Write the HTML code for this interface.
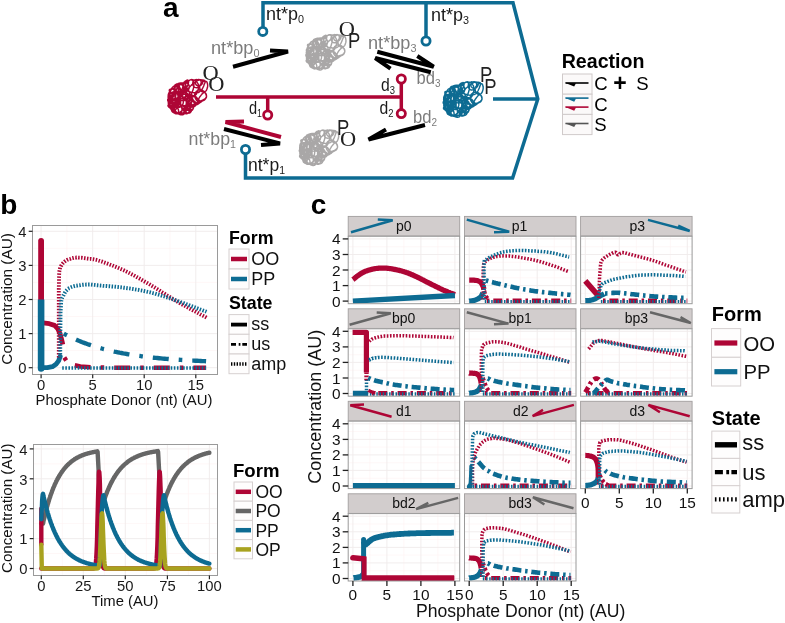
<!DOCTYPE html>
<html><head><meta charset="utf-8"><title>Figure</title>
<style>html,body{margin:0;padding:0;background:#fff;}svg{display:block;}</style>
</head><body>
<svg width="785" height="623" viewBox="0 0 785 623">
<rect width="785" height="623" fill="#ffffff"/>
<text x="163.0" y="16.6" font-family="&quot;Liberation Sans&quot;, Arial, sans-serif" font-size="28.00" font-weight="bold" fill="#000" text-anchor="start" >a</text>
<path d="M263 28 V2.7 H513 L537.8 99 L512.6 178 H245.5 V153" fill="none" stroke="#0d6b92" stroke-width="3.5" stroke-linejoin="miter"/>
<path d="M426 2.7 V37" fill="none" stroke="#0d6b92" stroke-width="3.5"/>
<path d="M493 99 H537" fill="none" stroke="#0d6b92" stroke-width="3.5"/>
<circle cx="262.8" cy="31.4" r="4.1" fill="#fff" stroke="#0d6b92" stroke-width="2.8"/>
<circle cx="426.0" cy="41.0" r="4.1" fill="#fff" stroke="#0d6b92" stroke-width="2.8"/>
<circle cx="245.5" cy="149.5" r="4.1" fill="#fff" stroke="#0d6b92" stroke-width="2.8"/>
<path d="M216 97 H401.3 M401.3 82 V110.5 M267.7 97 V111" fill="none" stroke="#ae0535" stroke-width="3.5"/>
<circle cx="401.3" cy="79.0" r="4.1" fill="#fff" stroke="#ae0535" stroke-width="2.8"/>
<circle cx="401.3" cy="113.6" r="4.1" fill="#fff" stroke="#ae0535" stroke-width="2.8"/>
<circle cx="267.7" cy="115.0" r="4.1" fill="#fff" stroke="#ae0535" stroke-width="2.8"/>
<path d="M179.7 100.9Q179.5 102.6 179.3 103.4Q179.0 104.1 178.5 104.7Q178.0 105.3 177.3 105.6Q176.5 105.8 175.8 105.6Q175.0 105.5 174.4 105.0Q173.8 104.6 173.3 103.9Q172.9 103.2 172.9 102.4Q172.8 101.5 173.1 100.8Q173.4 100.0 174.0 99.5Q174.6 99.1 175.3 98.9Q176.1 98.8 176.8 99.0Q177.6 99.2 178.2 99.6Q178.8 100.1 179.2 100.8Q179.5 101.6 179.6 102.4Q179.6 103.2 179.3 104.0Q179.0 104.7 178.5 105.3Q178.0 106.0 177.3 106.4Q176.7 106.9 176.0 107.2Q175.3 107.6 174.6 107.9Q173.9 108.2 173.2 108.5Q172.5 108.9 171.8 109.0Q171.0 109.1 170.5 108.5Q170.0 107.9 169.8 107.1Q169.6 106.3 169.7 105.5Q169.7 104.6 169.9 103.9Q170.1 103.1 170.5 102.3Q170.8 101.5 171.1 100.8Q171.5 100.1 171.9 99.4Q172.3 98.7 172.6 97.9Q173.0 97.2 173.4 96.5Q173.8 95.8 174.2 95.1Q174.5 94.3 174.9 93.6Q175.2 92.8 175.5 92.1Q175.8 91.3 176.1 90.6Q176.4 89.8 176.7 89.0Q177.0 88.3 177.3 87.5Q177.6 86.7 178.0 86.0Q178.3 85.2 179.0 84.9Q179.7 84.6 180.4 84.6Q181.2 84.6 181.9 84.9Q182.6 85.3 183.1 85.9Q183.6 86.5 183.8 87.3Q184.0 88.1 183.8 88.9Q183.7 89.7 183.3 90.5Q182.9 91.2 182.4 91.7Q181.8 92.3 181.0 92.5Q180.3 92.8 179.6 92.8Q178.8 92.8 178.0 92.7Q177.3 92.5 176.6 92.1Q175.9 91.7 175.4 91.1Q174.8 90.6 174.5 89.8Q174.3 89.0 174.2 88.2Q174.1 87.4 174.6 86.7Q175.1 86.1 175.8 85.8Q176.5 85.5 177.3 85.6Q178.0 85.8 178.6 86.3Q179.3 86.7 179.7 87.4Q180.2 88.0 180.5 88.8Q180.9 89.5 181.1 90.3Q181.3 91.1 181.4 91.9Q181.5 92.8 181.5 93.6Q181.4 94.4 181.2 95.2Q181.1 96.0 180.8 96.8Q180.6 97.6 180.2 98.3Q179.9 99.1 179.6 99.8Q179.2 100.6 178.8 101.3Q178.4 101.9 177.9 102.6Q177.3 103.2 176.8 103.8Q176.2 104.3 175.6 104.8Q175.0 105.3 174.3 105.7Q173.6 106.1 172.9 106.4Q172.2 106.6 171.4 106.8Q170.7 107.0 170.1 106.5Q169.5 106.0 169.4 105.2Q169.2 104.4 169.4 103.6Q169.6 102.8 170.1 102.2Q170.5 101.5 171.1 101.0Q171.8 100.6 172.5 100.3Q173.3 100.1 174.0 100.2Q174.8 100.2 175.5 100.5Q176.2 100.8 176.7 101.4Q177.3 102.0 177.5 102.8Q177.8 103.6 177.7 104.4Q177.6 105.2 177.2 105.9Q176.7 106.6 176.1 107.0Q175.4 107.4 174.7 107.6Q173.9 107.8 173.2 107.6Q172.4 107.4 171.8 107.0Q171.1 106.6 170.7 105.9Q170.2 105.3 170.0 104.5Q169.7 103.7 169.5 102.9Q169.4 102.1 169.4 101.2Q169.4 100.4 169.5 99.6Q169.7 98.8 170.0 98.0Q170.2 97.2 170.6 96.5Q171.0 95.8 171.5 95.2Q172.1 94.6 172.7 94.1Q173.3 93.7 174.0 93.3Q174.7 93.0 175.5 92.8Q176.2 92.6 177.0 92.5Q177.8 92.4 178.5 92.3Q179.3 92.1 180.0 91.9Q180.8 91.7 181.5 91.4Q182.2 91.1 182.8 90.7Q183.5 90.2 184.0 89.6Q184.5 89.0 184.9 88.3Q185.3 87.6 185.5 86.8Q185.7 86.0 185.6 85.2Q185.5 84.4 185.0 83.7Q184.5 83.1 183.8 83.0Q183.0 82.9 182.2 82.9Q181.5 82.9 180.7 83.0Q179.9 83.1 179.2 83.2Q178.4 83.4 177.7 83.6Q176.9 83.8 176.2 84.1Q175.5 84.3 175.0 85.0Q174.6 85.7 174.4 86.5Q174.2 87.3 174.2 88.1Q174.3 89.0 174.5 89.7Q174.8 90.5 175.3 91.1Q175.8 91.7 176.5 92.2Q177.1 92.6 177.9 92.8Q178.6 93.0 179.4 93.0Q180.1 92.9 180.9 92.7Q181.6 92.5 182.3 92.1Q183.0 91.8 183.7 91.3Q184.3 90.9 184.8 90.3Q185.4 89.7 185.8 89.0Q186.3 88.4 186.6 87.6Q187.0 86.9 187.3 86.1Q187.6 85.4 187.9 84.6Q188.2 83.8 188.4 83.0Q188.5 82.2 188.4 81.4Q188.2 80.7 187.5 80.5Q186.8 80.4 186.1 80.7Q185.4 81.0 184.8 81.6Q184.2 82.1 183.7 82.8Q183.3 83.5 183.1 84.2Q182.8 85.0 182.8 85.8Q182.7 86.7 182.9 87.5Q183.0 88.3 183.3 89.1Q183.6 89.8 183.9 90.6Q184.3 91.3 184.6 92.0Q185.0 92.8 185.4 93.5Q185.8 94.2 186.2 94.9Q186.6 95.6 187.1 96.3Q187.5 96.9 188.0 97.6Q188.5 98.2 188.9 98.9Q189.3 99.6 189.7 100.4Q190.0 101.1 190.2 101.9Q190.5 102.7 190.5 103.5Q190.6 104.3 190.5 105.1Q190.3 106.0 190.0 106.7Q189.7 107.5 189.2 108.1Q188.7 108.7 188.0 109.1Q187.4 109.6 186.6 109.6Q185.9 109.7 185.1 109.5Q184.4 109.4 183.7 109.0Q183.0 108.6 182.4 108.0Q181.9 107.5 181.5 106.8Q181.0 106.1 180.8 105.3Q180.6 104.5 180.6 103.7Q180.6 102.8 180.6 102.0Q180.6 101.2 180.6 100.4Q180.5 99.5 180.4 98.7Q180.4 97.9 180.2 97.1Q180.0 96.3 179.6 95.6Q179.2 94.8 178.6 94.3Q178.1 93.7 177.4 93.3Q176.8 92.8 176.1 92.6Q175.3 92.3 174.6 92.3Q173.8 92.3 173.0 92.4Q172.3 92.6 171.6 93.0Q170.9 93.3 170.3 93.9Q169.8 94.4 169.3 95.1Q168.9 95.8 168.8 96.6Q168.6 97.4 168.6 98.2Q168.6 99.1 168.9 99.9Q169.1 100.6 169.5 101.3Q169.9 102.1 170.4 102.7Q171.0 103.2 171.6 103.7Q172.3 104.2 172.9 104.5Q173.6 104.9 174.3 105.3Q175.0 105.6 175.7 106.1Q176.3 106.5 176.9 107.1Q177.4 107.7 177.8 108.4Q178.2 109.1 178.4 109.9Q178.6 110.7 178.6 111.5Q178.5 112.3 178.1 113.0Q177.7 113.6 176.9 113.6Q176.1 113.6 175.4 113.4Q174.7 113.1 174.0 112.8Q173.3 112.4 172.6 112.0Q172.0 111.6 171.7 110.8Q171.4 110.0 171.3 109.2Q171.2 108.4 171.4 107.6Q171.5 106.8 171.8 106.0Q172.1 105.3 172.5 104.6Q173.0 103.9 173.5 103.3Q174.0 102.7 174.5 102.0Q175.0 101.4 175.4 100.7Q175.9 100.1 176.4 99.4Q176.8 98.7 177.3 98.1Q177.8 97.4 178.3 96.9Q178.9 96.3 179.6 95.9Q180.2 95.4 180.9 95.1Q181.6 94.8 182.4 94.5Q183.1 94.3 183.9 94.3Q184.6 94.3 185.4 94.3Q186.2 94.4 186.9 94.6Q187.7 94.8 188.4 95.1Q189.1 95.4 189.7 95.8Q190.4 96.3 190.9 96.9Q191.4 97.5 191.9 98.1Q192.5 98.7 192.9 99.4Q193.4 100.0 193.7 100.8Q194.1 101.5 194.3 102.3Q194.4 103.1 194.3 104.0Q194.3 104.8 194.0 105.6Q193.8 106.4 193.5 107.1Q193.2 107.9 192.9 108.6Q192.5 109.4 192.1 110.0Q191.7 110.7 191.2 111.4Q190.8 112.1 190.2 112.6Q189.6 113.1 188.9 113.1Q188.1 113.1 187.4 112.9Q186.6 112.6 186.0 112.1Q185.4 111.6 185.0 110.9Q184.6 110.2 184.5 109.4Q184.5 108.6 184.8 107.8Q185.1 107.1 185.6 106.5Q186.2 105.9 186.8 105.5Q187.5 105.1 188.3 104.9Q189.0 104.7 189.8 104.8Q190.5 104.8 191.2 105.1Q192.0 105.4 192.5 106.0Q193.1 106.5 193.3 107.3Q193.5 108.1 193.1 108.8Q192.8 109.6 192.2 110.1Q191.6 110.6 190.9 110.8Q190.1 111.0 189.4 110.8Q188.6 110.6 188.0 110.1Q187.4 109.6 187.1 108.9Q186.7 108.2 186.5 107.4Q186.3 106.6 186.4 105.7Q186.4 104.9 186.7 104.1Q187.0 103.4 187.5 102.7Q187.9 102.1 188.5 101.6Q189.1 101.1 189.9 100.8Q190.6 100.5 191.3 100.4Q192.1 100.4 192.8 100.6Q193.6 100.8 194.2 101.2Q194.9 101.7 195.4 102.3Q195.9 102.9 196.2 103.6Q196.4 104.3 196.0 105.0Q195.5 105.7 194.9 106.1Q194.2 106.6 193.5 106.8Q192.8 107.0 192.0 107.0Q191.2 107.1 190.5 106.9Q189.7 106.8 189.0 106.6Q188.2 106.4 187.5 106.2Q186.7 106.0 186.0 105.9Q185.2 105.7 184.4 105.7Q183.7 105.7 182.9 105.7Q182.1 105.8 181.4 106.0Q180.6 106.1 179.9 106.4Q179.2 106.7 178.5 107.1Q177.9 107.5 177.2 108.0Q176.6 108.5 176.1 109.1Q175.6 109.7 175.1 110.4Q174.7 111.1 174.0 111.1Q173.2 111.1 172.6 110.7Q171.9 110.3 171.4 109.7Q170.8 109.1 170.5 108.4Q170.1 107.7 170.0 106.8Q169.8 106.0 169.8 105.2Q169.8 104.4 169.9 103.6Q170.0 102.7 170.1 101.9Q170.2 101.1 170.3 100.3Q170.4 99.4 170.5 98.6Q170.6 97.8 170.9 97.0Q171.1 96.2 171.5 95.5Q171.9 94.8 172.3 94.1Q172.8 93.5 173.3 92.9Q173.8 92.2 174.2 91.5Q174.6 90.8 174.9 90.0Q175.1 89.3 175.1 88.4Q175.1 87.6 175.1 86.8Q175.0 86.0 175.6 85.5Q176.2 85.0 176.9 84.7Q177.6 84.4 178.4 84.2Q179.1 84.1 179.9 84.0Q180.7 84.0 181.5 83.9Q182.2 83.9 183.0 83.8Q183.8 83.7 184.5 83.6Q185.3 83.4 186.0 83.1Q186.7 82.8 187.3 82.3Q188.0 81.9 188.5 81.3Q189.1 80.7 189.6 80.2Q190.2 79.7 191.0 79.6Q191.7 79.5 192.5 79.6Q193.2 79.7 194.0 79.9Q194.7 80.2 195.3 80.6Q196.0 81.1 196.5 81.7Q197.1 82.2 197.5 82.9Q198.0 83.6 198.2 84.4Q198.5 85.1 198.6 86.0Q198.6 86.8 198.5 87.6Q198.4 88.4 198.2 89.2Q198.0 90.0 197.8 90.8Q197.5 91.6 197.2 92.3Q196.9 93.1 196.5 93.8Q196.1 94.5 195.5 95.1Q195.0 95.7 194.4 96.1Q193.7 96.6 193.0 96.9Q192.3 97.2 191.5 97.3Q190.8 97.3 190.0 97.2Q189.2 97.1 188.6 96.7Q187.9 96.3 187.3 95.7Q186.8 95.1 186.4 94.4Q186.1 93.7 185.9 92.9Q185.7 92.1 185.8 91.3Q185.8 90.4 185.9 89.6Q186.1 88.8 186.4 88.1Q186.7 87.3 187.1 86.6Q187.4 85.8 187.7 85.1Q188.0 84.3 188.2 83.5Q188.5 82.7 188.6 81.9Q188.7 81.1 188.2 80.5Q187.7 79.9 187.0 80.2Q186.3 80.6 186.0 81.3Q185.6 82.0 185.5 82.8Q185.4 83.6 185.5 84.4Q185.7 85.2 186.0 86.0Q186.3 86.8 186.7 87.5Q187.1 88.2 187.5 88.9Q188.0 89.5 188.4 90.2Q188.8 90.9 189.2 91.6Q189.5 92.4 189.7 93.2Q189.8 94.0 189.8 94.8Q189.7 95.6 189.3 96.4Q189.0 97.1 188.4 97.6Q187.8 98.2 187.1 98.4Q186.3 98.6 185.6 98.6Q184.8 98.5 184.1 98.1Q183.5 97.6 183.1 96.9Q182.6 96.3 182.6 95.4Q182.5 94.6 182.8 93.9Q183.2 93.2 183.8 92.7Q184.5 92.3 185.2 92.3Q186.0 92.3 186.6 92.8Q187.2 93.3 187.5 94.1Q187.8 94.8 187.8 95.7Q187.8 96.5 187.6 97.3Q187.3 98.0 186.8 98.7Q186.4 99.3 185.7 99.8Q185.1 100.3 184.3 100.5Q183.6 100.7 182.8 100.6Q182.1 100.6 181.4 100.3Q180.6 100.0 180.0 99.6Q179.4 99.1 178.9 98.4Q178.5 97.7 178.2 97.0Q178.0 96.2 177.9 95.3Q177.8 94.5 177.9 93.7Q178.0 92.9 178.1 92.1Q178.2 91.2 178.3 90.4Q178.4 89.6 178.4 88.8Q178.4 87.9 178.3 87.1Q178.3 86.3 177.9 85.6Q177.6 84.9 176.8 85.0Q176.1 85.1 175.5 85.7Q175.0 86.2 174.7 87.0Q174.4 87.7 174.5 88.6Q174.5 89.4 174.9 90.1Q175.3 90.8 175.9 91.3Q176.5 91.8 177.3 91.9Q178.0 92.1 178.8 91.9Q179.5 91.8 180.2 91.3Q180.8 90.9 181.3 90.3Q181.8 89.7 182.2 88.9Q182.5 88.2 182.7 87.4Q182.9 86.6 182.9 85.8Q183.0 84.9 182.7 84.2Q182.4 83.5 181.6 83.5Q180.9 83.5 180.3 84.1Q179.8 84.6 179.5 85.4Q179.2 86.2 179.2 87.0Q179.2 87.8 179.5 88.6Q179.7 89.4 180.2 90.0Q180.8 90.6 181.5 90.9Q182.2 91.3 182.9 91.4Q183.7 91.6 184.4 91.6Q185.2 91.6 185.9 91.4Q186.7 91.1 187.3 90.7Q188.0 90.3 188.4 89.6Q188.9 89.0 189.1 88.2Q189.3 87.4 189.3 86.6Q189.2 85.7 188.9 85.0Q188.5 84.3 188.0 83.7Q187.4 83.1 186.8 82.7Q186.1 82.4 185.3 82.5Q184.6 82.6 184.1 83.2Q183.6 83.8 183.4 84.6Q183.2 85.4 183.3 86.2Q183.4 87.0 183.8 87.7Q184.2 88.4 184.8 89.0Q185.3 89.5 185.9 90.0Q186.6 90.5 187.3 90.9Q188.0 91.2 188.7 91.5Q189.4 91.8 190.2 92.0Q190.9 92.2 191.7 92.4Q192.4 92.5 193.2 92.6Q193.9 92.8 194.7 92.8Q195.5 92.9 196.2 92.8Q197.0 92.8 197.7 92.6Q198.5 92.4 199.2 92.0Q199.9 91.7 200.5 91.1Q201.1 90.6 201.5 90.0Q202.0 89.3 202.4 88.6Q202.8 87.9 203.1 87.2Q203.5 86.4 203.8 85.7Q204.0 84.9 204.3 84.1Q204.6 83.4 205.0 82.6Q205.4 81.9 205.1 81.2Q204.9 80.4 204.1 80.2Q203.4 80.0 202.6 80.0Q201.9 80.0 201.1 80.0Q200.3 80.0 199.6 80.0Q198.8 79.9 198.0 79.7Q197.3 79.5 196.6 79.5Q195.8 79.4 195.1 79.8Q194.4 80.1 193.9 80.7Q193.3 81.3 193.0 82.0Q192.7 82.8 192.7 83.6Q192.7 84.4 193.0 85.2Q193.3 85.9 193.8 86.5Q194.3 87.1 195.0 87.4Q195.8 87.7 196.5 87.7Q197.3 87.7 198.0 87.4Q198.7 87.1 199.3 86.6Q199.9 86.1 200.4 85.4Q200.8 84.8 201.0 84.0Q201.2 83.2 201.2 82.3Q201.2 81.5 200.8 80.8Q200.5 80.1 199.8 79.7Q199.1 79.4 198.4 79.5Q197.6 79.6 196.9 80.0Q196.3 80.4 195.9 81.1Q195.5 81.8 195.4 82.6Q195.4 83.4 195.7 84.1Q196.0 84.9 196.7 85.3Q197.3 85.8 198.0 86.0Q198.8 86.1 199.5 86.0Q200.3 85.8 200.9 85.3Q201.5 84.8 202.0 84.1Q202.4 83.4 202.6 82.6Q202.8 81.9 202.7 81.1Q202.5 80.3 201.8 80.0Q201.1 79.7 200.3 79.8Q199.5 79.8 198.8 80.0Q198.1 80.3 197.4 80.7Q196.7 81.1 196.1 81.6Q195.5 82.0 194.8 82.5Q194.2 83.0 193.6 83.4Q192.9 83.9 192.3 84.4Q191.7 84.9 191.1 85.5Q190.5 86.0 190.0 86.6Q189.4 87.1 188.9 87.7Q188.3 88.3 187.9 89.0Q187.4 89.6 187.0 90.3Q186.7 91.1 186.4 91.9Q186.1 92.6 186.0 93.4Q185.8 94.3 185.8 95.1Q185.7 95.9 185.7 96.7Q185.7 97.6 185.9 98.4Q186.0 99.2 186.4 99.9Q186.7 100.7 187.1 101.4Q187.6 102.0 188.1 102.6Q188.7 103.2 189.3 103.7Q189.9 104.1 190.6 104.5Q191.3 104.9 192.1 105.0Q192.8 105.2 193.6 105.2Q194.3 105.2 195.1 105.1Q195.9 104.9 196.6 104.6Q197.3 104.4 198.0 104.0Q198.7 103.6 199.3 103.1Q200.0 102.7 200.6 102.2Q201.2 101.7 201.9 101.3Q202.5 100.8 203.2 100.5Q203.9 100.2 204.6 99.8Q205.2 99.4 205.6 98.7Q206.0 98.0 206.4 97.3Q206.7 96.5 206.4 95.7Q206.2 94.9 205.9 94.2Q205.5 93.4 205.1 92.8Q204.7 92.1 204.1 91.5Q203.5 91.0 202.8 90.6Q202.1 90.2 201.4 90.0Q200.7 89.8 199.9 89.8Q199.1 89.9 198.4 90.1Q197.7 90.4 197.0 90.9Q196.4 91.3 195.9 92.0Q195.4 92.6 195.1 93.4Q194.8 94.1 194.8 94.9Q194.7 95.8 194.8 96.6Q195.0 97.4 195.3 98.1Q195.6 98.9 196.1 99.6Q196.5 100.2 197.1 100.8Q197.6 101.4 198.1 102.0Q198.5 102.7 198.1 103.3Q197.6 104.0 196.9 104.3Q196.3 104.7 195.5 104.8Q194.7 105.0 194.0 104.9Q193.2 104.9 192.5 104.7Q191.7 104.4 191.0 104.1Q190.3 103.7 189.7 103.3Q189.0 102.9 188.3 102.5Q187.7 102.1 187.0 101.7Q186.3 101.2 185.7 100.8Q185.1 100.3 184.4 99.9Q183.8 99.4 183.1 99.1Q182.4 98.7 181.6 98.6Q180.9 98.4 180.1 98.5Q179.3 98.6 178.6 98.8Q177.9 99.1 177.2 99.5Q176.6 99.9 176.1 100.6Q175.6 101.2 175.3 102.0Q175.1 102.8 175.2 103.6Q175.2 104.4 175.6 105.1Q175.9 105.9 176.5 106.4Q177.1 106.9 177.9 107.1Q178.6 107.4 179.4 107.2Q180.1 107.1 180.8 106.7Q181.5 106.3 182.0 105.7Q182.5 105.1 182.8 104.4Q183.1 103.6 183.3 102.8Q183.4 102.0 183.3 101.2Q183.3 100.3 183.1 99.5Q183.0 98.7 182.7 97.9Q182.4 97.2 182.1 96.4Q181.7 95.7 181.3 95.0Q180.9 94.3 180.3 93.8Q179.7 93.2 179.1 92.7Q178.5 92.3 177.8 91.8Q177.1 91.4 176.5 91.0Q175.9 90.5 175.3 90.0Q174.6 89.5 174.0 89.0Q173.4 88.5 172.7 88.6Q172.0 88.8 171.5 89.4Q170.9 90.0 170.6 90.7Q170.3 91.5 170.1 92.3Q170.0 93.1 169.9 93.9Q169.9 94.7 169.9 95.6Q169.9 96.4 170.0 97.2Q170.1 98.0 170.2 98.9Q170.3 99.7 170.6 100.5Q170.8 101.3 171.1 102.0Q171.3 102.8 171.7 103.6Q172.0 104.3 172.3 105.1Q172.7 105.8 173.1 106.5Q173.5 107.2 173.9 107.9Q174.2 108.7 174.5 109.4Q174.8 110.2 174.9 111.0Q175.1 111.8 175.6 112.4Q176.2 112.9 176.9 113.2Q177.6 113.5 178.4 113.6Q179.2 113.7 179.9 113.7Q180.7 113.7 181.4 113.5Q182.2 113.3 182.9 113.0Q183.6 112.7 184.3 112.3Q184.9 111.8 185.6 111.4Q186.2 111.0 186.9 110.5Q187.5 110.0 188.1 109.5Q188.7 109.0 189.3 108.5Q189.9 107.9 190.5 107.4Q191.1 106.9 191.8 106.5Q192.4 106.1 193.1 105.7Q193.8 105.4 194.6 105.2Q195.3 105.1 196.0 104.9Q196.7 104.6 197.2 104.0Q197.7 103.3 197.9 102.5Q198.1 101.7 198.1 100.9Q198.1 100.1 197.8 99.3Q197.5 98.6 197.0 97.9Q196.5 97.3 195.9 96.8Q195.3 96.3 194.6 96.0Q193.9 95.6 193.1 95.4Q192.4 95.1 191.7 95.0Q190.9 94.9 190.1 95.0Q189.4 95.1 188.6 95.3Q187.9 95.4 187.2 95.8Q186.4 96.1 185.8 96.4Q185.1 96.8 184.4 97.2Q183.7 97.5 183.0 97.8Q182.3 98.1 181.5 98.4Q180.8 98.6 180.0 98.8Q179.3 98.9 178.5 99.0Q177.7 99.0 177.0 99.1Q176.2 99.2 175.4 99.1Q174.7 99.1 173.9 99.0Q173.1 99.0 172.4 98.9Q171.6 98.8 170.8 98.7Q170.1 98.6 169.3 98.5Q168.5 98.5 168.0 99.0Q167.5 99.6 167.7 100.4Q167.9 101.2 168.4 101.8Q169.0 102.4 169.6 102.8Q170.3 103.1 171.1 103.2Q171.9 103.3 172.6 103.2Q173.4 103.0 174.1 102.8Q174.9 102.6 175.6 102.2Q176.3 101.9 176.9 101.4Q177.5 101.0 178.1 100.4Q178.7 99.9 179.2 99.2Q179.7 98.6 180.0 97.8Q180.3 97.1 180.3 96.3Q180.3 95.4 180.0 94.7Q179.7 93.9 179.2 93.3Q178.7 92.7 178.0 92.3Q177.3 91.9 176.6 91.9Q175.8 91.8 175.1 92.1Q174.3 92.4 173.8 92.9Q173.2 93.4 172.8 94.1Q172.4 94.8 172.2 95.6Q172.0 96.4 172.0 97.3Q171.9 98.1 171.9 98.9Q171.9 99.7 172.1 100.6Q172.2 101.4 172.4 102.2Q172.6 103.0 172.9 103.7Q173.1 104.5 173.4 105.3Q173.7 106.1 174.0 106.8Q174.3 107.6 174.5 108.4Q174.8 109.2 175.1 109.9Q175.4 110.7 175.7 111.4Q176.0 112.2 176.5 112.8Q177.0 113.4 177.7 113.6Q178.4 113.9 179.2 113.7Q179.9 113.6 180.6 113.1Q181.2 112.6 181.5 111.9Q181.9 111.2 182.0 110.3Q182.1 109.5 181.9 108.7Q181.8 107.9 181.5 107.2Q181.1 106.4 180.6 105.8Q180.1 105.1 179.5 104.6Q178.9 104.1 178.3 103.7Q177.6 103.4 176.8 103.1Q176.1 102.9 175.3 102.8Q174.6 102.7 173.8 102.8Q173.0 102.9 172.3 103.0Q171.5 103.2 170.8 103.6Q170.1 103.9 169.4 104.1Q168.7 104.3 168.2 104.9Q167.8 105.5 168.1 106.2Q168.5 106.9 169.1 107.3Q169.8 107.8 170.5 107.9Q171.3 108.0 172.0 107.9Q172.8 107.8 173.5 107.5Q174.2 107.2 174.9 106.8Q175.6 106.4 176.1 105.8Q176.7 105.2 177.0 104.5Q177.3 103.7 177.3 102.9Q177.4 102.1 177.2 101.3Q177.1 100.4 176.8 99.7Q176.5 98.9 176.2 98.2Q175.8 97.5 175.3 96.8Q174.8 96.2 174.3 95.6Q173.7 95.1 173.1 94.6Q172.4 94.1 171.8 93.6Q171.3 93.0 170.8 92.4Q170.3 91.8 169.7 91.3Q169.1 90.8 169.3 90.1Q169.4 89.3 170.2 89.1Q170.9 88.8 171.7 88.9Q172.4 89.0 173.1 89.4Q173.8 89.8 174.3 90.4Q174.8 91.0 175.2 91.8Q175.5 92.5 175.7 93.3Q175.9 94.1 175.8 94.9Q175.8 95.7 175.5 96.5Q175.3 97.3 174.8 98.0Q174.3 98.6 173.7 99.0Q173.0 99.5 172.3 99.6Q171.5 99.7 170.7 99.6Q170.0 99.6 169.2 99.3Q168.5 99.1 168.3 98.3Q168.0 97.6 168.2 96.8Q168.3 96.0 168.6 95.2Q168.9 94.5 169.4 93.8Q169.9 93.2 170.6 92.8Q171.2 92.3 172.0 92.1Q172.7 91.9 173.5 91.9Q174.2 91.9 175.0 92.2Q175.7 92.4 176.3 92.9Q176.9 93.4 177.4 94.0Q177.9 94.7 178.1 95.5Q178.4 96.2 178.5 97.1Q178.6 97.9 178.4 98.7Q178.3 99.5 178.0 100.3Q177.6 101.0 177.2 101.7Q176.8 102.4 176.3 103.0Q175.7 103.6 175.1 104.0Q174.4 104.4 173.7 104.8Q173.0 105.1 172.3 105.3Q171.5 105.6 170.8 105.9Q170.1 106.1 169.5 105.7Q168.9 105.2 168.6 104.4Q168.3 103.7 168.3 102.8Q168.3 102.0 168.4 101.2Q168.5 100.4 168.6 99.6Q168.7 98.7 168.6 97.9Q168.6 97.1 168.3 96.3Q168.1 95.5 168.3 94.7Q168.5 93.9 168.9 93.2Q169.2 92.4 169.6 91.7Q170.0 91.0 170.4 90.3Q170.8 89.6 171.3 88.9Q171.7 88.3 172.2 87.6Q172.7 87.0 173.3 86.5Q173.8 86.0 174.6 86.0Q175.4 86.1 176.1 86.4Q176.8 86.8 177.3 87.4Q177.8 88.0 178.1 88.8Q178.4 89.5 178.6 90.3Q178.9 91.1 179.0 91.9Q179.1 92.7 179.1 93.6Q179.1 94.4 178.9 95.2Q178.8 96.0 178.4 96.8Q178.1 97.5 177.7 98.2Q177.3 98.9 176.9 99.6Q176.5 100.3 176.1 101.1Q175.8 101.8 175.4 102.5Q175.0 103.2 174.6 103.9Q174.1 104.6 173.7 105.3Q173.3 106.0 173.0 106.7Q172.6 107.5 172.4 108.3Q172.1 109.0 172.4 109.8Q172.6 110.6 173.1 111.2Q173.5 111.9 174.1 112.5Q174.6 113.1 175.3 113.5Q175.9 113.8 176.7 113.8Q177.4 113.7 178.1 113.3Q178.9 113.0 179.5 112.6Q180.1 112.1 180.8 111.6Q181.4 111.2 182.0 110.6Q182.5 110.1 183.1 109.5Q183.6 108.8 184.1 108.2Q184.6 107.6 185.2 107.1Q185.8 106.6 186.5 106.2Q187.2 105.8 187.9 105.6Q188.7 105.4 189.4 105.4Q190.2 105.4 190.9 105.5Q191.7 105.6 192.5 105.8Q193.2 106.0 193.9 106.0Q194.7 106.0 195.3 105.6Q195.9 105.1 196.4 104.4Q196.8 103.8 197.1 103.0Q197.5 102.3 197.7 101.5Q198.0 100.7 198.3 99.9Q198.6 99.2 198.9 98.4Q199.3 97.7 199.7 97.0Q200.2 96.3 200.7 95.7Q201.1 95.1 201.7 94.5Q202.2 93.8 202.8 93.3Q203.3 92.7 204.0 92.3Q204.6 91.8 205.3 91.4Q206.0 91.1 206.4 90.4Q206.8 89.6 207.0 88.9Q207.3 88.1 207.5 87.3Q207.6 86.5 207.7 85.7Q207.7 84.8 207.5 84.0Q207.4 83.2 207.1 82.4Q206.8 81.7 206.1 81.4Q205.4 81.1 204.6 81.1Q203.9 81.2 203.2 81.5Q202.5 81.8 201.9 82.4Q201.3 82.9 200.8 83.6Q200.3 84.2 200.1 85.0Q199.8 85.7 199.7 86.6Q199.6 87.4 199.8 88.2Q199.9 89.0 200.3 89.7Q200.7 90.4 201.3 91.0Q201.8 91.6 202.5 91.9Q203.3 92.2 204.0 92.3Q204.8 92.3 205.3 92.9Q205.9 93.4 206.2 94.2Q206.5 95.0 206.5 95.8Q206.5 96.6 206.2 97.3Q205.9 98.0 205.3 98.6Q204.8 99.1 204.1 99.5Q203.4 99.9 202.7 100.2Q202.0 100.5 201.2 100.7Q200.5 100.9 199.7 101.2Q199.0 101.4 198.3 101.8Q197.6 102.1 196.9 102.5Q196.3 102.9 195.6 103.3Q194.9 103.8 194.3 104.2Q193.7 104.6 193.1 105.2Q192.5 105.7 192.0 106.3Q191.4 106.9 191.0 107.6Q190.5 108.3 190.1 109.0Q189.8 109.7 189.5 110.5Q189.2 111.2 188.9 112.0Q188.7 112.8 188.1 113.3Q187.4 113.7 186.7 113.7Q185.9 113.7 185.3 113.3Q184.6 112.8 184.2 112.1Q183.9 111.4 183.7 110.6Q183.6 109.8 183.7 108.9Q183.8 108.1 184.1 107.4Q184.4 106.6 184.9 105.9Q185.3 105.3 186.0 104.8Q186.6 104.3 187.3 104.0Q188.0 103.6 188.7 103.6Q189.5 103.5 190.2 103.7Q191.0 103.8 191.7 104.2Q192.3 104.7 192.8 105.3Q193.3 105.9 193.5 106.7Q193.7 107.5 193.4 108.2Q193.0 108.9 192.3 109.3Q191.7 109.7 190.9 109.7Q190.1 109.7 189.4 109.4Q188.7 109.1 188.2 108.5Q187.6 107.9 187.2 107.2Q186.9 106.5 186.6 105.7Q186.4 104.9 186.3 104.1Q186.2 103.3 186.3 102.5Q186.3 101.6 186.6 100.9Q186.9 100.1 187.3 99.4Q187.7 98.7 188.2 98.1Q188.7 97.4 189.3 97.0Q190.0 96.5 190.7 96.3Q191.4 96.0 192.2 96.0Q193.0 96.0 193.7 96.3Q194.4 96.6 195.1 97.0Q195.7 97.4 196.4 97.9Q197.0 98.4 197.6 98.9Q198.1 99.4 198.8 99.9Q199.4 100.4 199.5 101.2Q199.5 102.0 198.9 102.4Q198.3 102.9 197.5 103.1Q196.8 103.2 196.0 103.0Q195.3 102.9 194.6 102.6Q193.9 102.2 193.2 101.8Q192.6 101.3 192.0 100.8Q191.4 100.3 190.9 99.7Q190.3 99.1 189.8 98.4Q189.3 97.8 188.9 97.2Q188.4 96.5 188.0 95.8Q187.5 95.1 187.1 94.4Q186.7 93.7 186.3 93.0Q186.0 92.3 185.7 91.5Q185.4 90.7 185.2 90.0Q184.9 89.2 184.8 88.3Q184.8 87.5 184.9 86.7Q185.0 85.9 185.2 85.1Q185.5 84.3 185.9 83.6Q186.3 82.9 186.8 82.3Q187.4 81.7 188.0 81.3Q188.6 80.8 189.3 80.4Q190.0 80.0 190.7 79.9Q191.4 79.7 192.1 80.1Q192.7 80.5 193.2 81.2Q193.6 81.9 193.7 82.7Q193.9 83.5 193.9 84.3Q193.9 85.2 193.8 86.0Q193.8 86.8 193.6 87.6Q193.4 88.4 193.2 89.2Q193.0 90.0 192.7 90.8Q192.4 91.6 192.1 92.3Q191.8 93.1 191.4 93.8Q191.0 94.5 190.7 95.3Q190.4 96.0 190.1 96.8Q189.8 97.5 189.4 98.3Q189.1 99.0 188.8 99.8Q188.4 100.5 188.1 101.3Q187.8 102.0 187.6 102.8Q187.3 103.6 187.1 104.4Q186.8 105.2 186.7 106.0Q186.5 106.8 186.3 107.6Q186.2 108.4 186.0 109.2Q185.8 110.0 185.5 110.8Q185.2 111.6 184.9 112.3Q184.6 113.1 184.2 113.8Q183.7 114.4 183.0 114.7Q182.3 114.9 181.5 114.8Q180.7 114.8 180.0 114.5Q179.3 114.3 178.6 113.8Q177.9 113.4 177.3 112.9Q176.7 112.4 176.1 111.9Q175.5 111.4 174.9 110.9Q174.3 110.4 173.7 109.9Q173.0 109.4 172.4 108.9Q171.8 108.4 171.2 107.9Q170.6 107.4 170.0 106.9Q169.4 106.4 169.1 105.6Q168.9 104.8 168.9 104.0Q168.8 103.2 168.9 102.4Q169.1 101.6 169.4 100.8Q169.7 100.0 170.1 99.3Q170.5 98.6 170.9 98.0Q171.4 97.3 171.9 96.7Q172.5 96.1 173.1 95.6Q173.7 95.1 174.3 94.6Q175.0 94.2 175.7 93.9Q176.4 93.6 177.2 93.4Q177.9 93.2 178.7 93.1Q179.4 93.0 180.2 92.9Q181.0 92.7 181.7 92.6Q182.5 92.5 183.2 92.4Q184.0 92.4 184.8 92.5Q185.5 92.6 186.2 93.0Q186.9 93.3 187.6 93.7Q188.3 94.1 188.9 94.7Q189.5 95.2 190.0 95.8Q190.5 96.4 190.9 97.1Q191.3 97.8 191.6 98.5Q191.8 99.3 191.9 100.2Q191.9 101.0 191.7 101.8Q191.5 102.6 191.0 103.3Q190.6 104.0 190.1 104.5Q189.5 105.1 188.8 105.4Q188.1 105.8 187.4 106.1Q186.6 106.3 185.9 106.4Q185.1 106.5 184.4 106.4Q183.6 106.4 182.9 106.1Q182.1 105.8 181.5 105.3Q180.9 104.8 180.5 104.2Q180.0 103.5 179.7 102.7Q179.4 102.0 179.2 101.2Q179.1 100.4 179.0 99.5Q178.9 98.7 179.0 97.9Q179.1 97.1 179.4 96.3Q179.7 95.5 180.1 94.9Q180.6 94.2 181.2 93.7Q181.8 93.2 182.5 92.9Q183.2 92.6 184.0 92.5" fill="none" stroke="#ae0535" stroke-width="1.45" stroke-linecap="round" stroke-linejoin="round"/>
<path d="M317.9 56.0Q317.8 57.7 317.5 58.5Q317.3 59.2 316.7 59.8Q316.2 60.4 315.5 60.7Q314.7 60.9 314.0 60.7Q313.2 60.6 312.6 60.1Q312.0 59.7 311.6 59.0Q311.1 58.3 311.1 57.5Q311.0 56.6 311.3 55.9Q311.6 55.1 312.2 54.6Q312.8 54.2 313.6 54.0Q314.3 53.9 315.1 54.1Q315.8 54.3 316.4 54.7Q317.1 55.2 317.4 55.9Q317.8 56.7 317.8 57.5Q317.8 58.3 317.5 59.1Q317.2 59.8 316.7 60.4Q316.2 61.1 315.6 61.5Q314.9 62.0 314.2 62.3Q313.5 62.7 312.8 63.0Q312.1 63.3 311.4 63.6Q310.7 64.0 310.0 64.1Q309.2 64.2 308.7 63.6Q308.3 63.0 308.0 62.2Q307.8 61.4 307.9 60.6Q307.9 59.7 308.1 59.0Q308.3 58.2 308.7 57.4Q309.0 56.6 309.4 55.9Q309.7 55.2 310.1 54.5Q310.5 53.8 310.9 53.0Q311.2 52.3 311.6 51.6Q312.0 50.9 312.4 50.2Q312.8 49.4 313.1 48.7Q313.4 47.9 313.7 47.2Q314.1 46.4 314.4 45.7Q314.7 44.9 315.0 44.1Q315.3 43.4 315.6 42.6Q315.9 41.8 316.2 41.1Q316.5 40.3 317.2 40.0Q317.9 39.7 318.7 39.7Q319.4 39.7 320.1 40.0Q320.8 40.4 321.3 41.0Q321.8 41.6 322.0 42.4Q322.2 43.2 322.1 44.0Q321.9 44.8 321.5 45.6Q321.2 46.3 320.6 46.8Q320.0 47.4 319.3 47.6Q318.6 47.9 317.8 47.9Q317.0 47.9 316.3 47.8Q315.5 47.6 314.8 47.2Q314.1 46.8 313.6 46.2Q313.1 45.7 312.8 44.9Q312.5 44.1 312.4 43.3Q312.3 42.5 312.8 41.8Q313.3 41.2 314.0 40.9Q314.7 40.6 315.5 40.7Q316.2 40.9 316.9 41.4Q317.5 41.8 318.0 42.5Q318.4 43.1 318.8 43.9Q319.1 44.6 319.3 45.4Q319.5 46.2 319.6 47.0Q319.7 47.9 319.7 48.7Q319.6 49.5 319.5 50.3Q319.3 51.1 319.0 51.9Q318.8 52.7 318.5 53.4Q318.2 54.2 317.8 54.9Q317.5 55.7 317.0 56.4Q316.6 57.0 316.1 57.7Q315.6 58.3 315.0 58.9Q314.5 59.4 313.8 59.9Q313.2 60.4 312.5 60.8Q311.9 61.2 311.1 61.5Q310.4 61.7 309.7 61.9Q308.9 62.1 308.3 61.6Q307.7 61.1 307.6 60.3Q307.4 59.5 307.6 58.7Q307.8 57.9 308.3 57.3Q308.7 56.6 309.4 56.1Q310.0 55.7 310.7 55.4Q311.5 55.2 312.2 55.3Q313.0 55.3 313.7 55.6Q314.4 55.9 315.0 56.5Q315.5 57.1 315.7 57.9Q316.0 58.7 315.9 59.5Q315.8 60.3 315.4 61.0Q315.0 61.7 314.3 62.1Q313.7 62.5 312.9 62.7Q312.1 62.9 311.4 62.7Q310.6 62.5 310.0 62.1Q309.3 61.7 308.9 61.0Q308.4 60.4 308.2 59.6Q307.9 58.8 307.8 58.0Q307.6 57.2 307.6 56.3Q307.6 55.5 307.8 54.7Q307.9 53.9 308.2 53.1Q308.4 52.3 308.8 51.6Q309.2 50.9 309.8 50.3Q310.3 49.7 310.9 49.2Q311.5 48.8 312.3 48.4Q313.0 48.1 313.7 47.9Q314.5 47.7 315.2 47.6Q316.0 47.5 316.7 47.4Q317.5 47.2 318.3 47.0Q319.0 46.8 319.7 46.5Q320.4 46.2 321.1 45.8Q321.7 45.3 322.2 44.7Q322.8 44.1 323.1 43.4Q323.5 42.7 323.7 41.9Q324.0 41.1 323.8 40.3Q323.7 39.5 323.2 38.8Q322.8 38.2 322.0 38.1Q321.2 38.0 320.5 38.0Q319.7 38.0 318.9 38.1Q318.2 38.2 317.4 38.3Q316.6 38.5 315.9 38.7Q315.2 38.9 314.4 39.2Q313.7 39.4 313.3 40.1Q312.8 40.8 312.6 41.6Q312.4 42.4 312.5 43.2Q312.5 44.1 312.8 44.8Q313.0 45.6 313.5 46.2Q314.1 46.8 314.7 47.3Q315.4 47.7 316.1 47.9Q316.8 48.1 317.6 48.1Q318.4 48.0 319.1 47.8Q319.9 47.6 320.6 47.2Q321.3 46.9 321.9 46.4Q322.5 46.0 323.1 45.4Q323.6 44.8 324.1 44.1Q324.5 43.5 324.9 42.7Q325.2 42.0 325.6 41.2Q325.9 40.5 326.2 39.7Q326.4 38.9 326.6 38.1Q326.8 37.3 326.6 36.5Q326.5 35.8 325.8 35.6Q325.0 35.5 324.3 35.8Q323.6 36.1 323.0 36.7Q322.4 37.2 322.0 37.9Q321.6 38.6 321.3 39.3Q321.1 40.1 321.0 40.9Q321.0 41.8 321.1 42.6Q321.3 43.4 321.5 44.2Q321.8 44.9 322.2 45.7Q322.5 46.4 322.9 47.1Q323.2 47.9 323.6 48.6Q324.0 49.3 324.4 50.0Q324.9 50.7 325.3 51.4Q325.8 52.0 326.3 52.7Q326.7 53.3 327.2 54.0Q327.6 54.7 327.9 55.5Q328.2 56.2 328.5 57.0Q328.7 57.8 328.8 58.6Q328.9 59.4 328.7 60.2Q328.6 61.1 328.3 61.8Q328.0 62.6 327.5 63.2Q327.0 63.8 326.3 64.2Q325.6 64.7 324.9 64.7Q324.1 64.8 323.4 64.6Q322.6 64.5 321.9 64.1Q321.3 63.7 320.7 63.1Q320.1 62.6 319.7 61.9Q319.3 61.2 319.1 60.4Q318.9 59.6 318.9 58.8Q318.8 57.9 318.8 57.1Q318.8 56.3 318.8 55.5Q318.7 54.6 318.7 53.8Q318.6 53.0 318.4 52.2Q318.2 51.4 317.8 50.7Q317.4 49.9 316.9 49.4Q316.3 48.8 315.7 48.4Q315.0 47.9 314.3 47.7Q313.5 47.4 312.8 47.4Q312.0 47.4 311.3 47.5Q310.5 47.7 309.8 48.1Q309.1 48.4 308.5 49.0Q308.0 49.5 307.6 50.2Q307.1 50.9 307.0 51.7Q306.8 52.5 306.8 53.3Q306.8 54.2 307.1 55.0Q307.3 55.7 307.7 56.4Q308.1 57.2 308.6 57.8Q309.2 58.3 309.8 58.8Q310.5 59.3 311.2 59.6Q311.8 60.0 312.5 60.4Q313.2 60.7 313.9 61.2Q314.5 61.6 315.1 62.2Q315.6 62.8 316.0 63.5Q316.4 64.2 316.6 65.0Q316.9 65.8 316.8 66.6Q316.7 67.4 316.3 68.1Q315.9 68.7 315.1 68.7Q314.4 68.7 313.6 68.5Q312.9 68.2 312.2 67.9Q311.5 67.5 310.8 67.1Q310.2 66.7 309.9 65.9Q309.6 65.1 309.5 64.3Q309.5 63.5 309.6 62.7Q309.7 61.9 310.0 61.1Q310.3 60.4 310.8 59.7Q311.2 59.0 311.7 58.4Q312.2 57.8 312.7 57.1Q313.2 56.5 313.7 55.8Q314.1 55.2 314.6 54.5Q315.0 53.8 315.5 53.2Q316.0 52.5 316.6 52.0Q317.1 51.4 317.8 51.0Q318.4 50.5 319.1 50.2Q319.8 49.9 320.6 49.6Q321.3 49.4 322.1 49.4Q322.9 49.4 323.6 49.4Q324.4 49.5 325.2 49.7Q325.9 49.9 326.6 50.2Q327.3 50.5 328.0 50.9Q328.6 51.4 329.2 52.0Q329.7 52.6 330.2 53.2Q330.7 53.8 331.2 54.5Q331.7 55.1 332.0 55.9Q332.4 56.6 332.5 57.4Q332.7 58.2 332.6 59.1Q332.5 59.9 332.3 60.7Q332.1 61.5 331.8 62.2Q331.5 63.0 331.1 63.7Q330.8 64.5 330.3 65.1Q329.9 65.8 329.5 66.5Q329.0 67.2 328.5 67.7Q327.9 68.2 327.1 68.2Q326.3 68.2 325.6 68.0Q324.9 67.7 324.3 67.2Q323.7 66.7 323.3 66.0Q322.8 65.3 322.8 64.5Q322.7 63.7 323.0 62.9Q323.3 62.2 323.9 61.6Q324.4 61.0 325.1 60.6Q325.8 60.2 326.5 60.0Q327.3 59.8 328.0 59.9Q328.8 59.9 329.5 60.2Q330.2 60.5 330.8 61.1Q331.4 61.6 331.5 62.4Q331.7 63.2 331.4 63.9Q331.1 64.7 330.5 65.2Q329.9 65.7 329.1 65.9Q328.4 66.1 327.6 65.9Q326.9 65.7 326.3 65.2Q325.7 64.7 325.3 64.0Q324.9 63.3 324.7 62.5Q324.6 61.7 324.6 60.8Q324.7 60.0 325.0 59.2Q325.2 58.5 325.7 57.8Q326.2 57.2 326.8 56.7Q327.4 56.2 328.1 55.9Q328.8 55.6 329.6 55.5Q330.4 55.5 331.1 55.7Q331.8 55.9 332.5 56.3Q333.1 56.8 333.7 57.4Q334.2 58.0 334.5 58.7Q334.7 59.4 334.3 60.1Q333.8 60.8 333.2 61.2Q332.5 61.7 331.8 61.9Q331.0 62.1 330.3 62.1Q329.5 62.2 328.7 62.0Q328.0 61.9 327.2 61.7Q326.5 61.5 325.7 61.3Q325.0 61.1 324.2 61.0Q323.5 60.8 322.7 60.8Q321.9 60.8 321.2 60.8Q320.4 60.9 319.6 61.1Q318.9 61.2 318.2 61.5Q317.4 61.8 316.8 62.2Q316.1 62.6 315.5 63.1Q314.9 63.6 314.3 64.2Q313.8 64.8 313.4 65.5Q312.9 66.2 312.2 66.2Q311.4 66.2 310.8 65.8Q310.1 65.4 309.6 64.8Q309.0 64.2 308.7 63.5Q308.3 62.8 308.2 61.9Q308.0 61.1 308.0 60.3Q308.0 59.5 308.1 58.7Q308.2 57.8 308.3 57.0Q308.4 56.2 308.5 55.4Q308.6 54.5 308.7 53.7Q308.8 52.9 309.1 52.1Q309.3 51.3 309.7 50.6Q310.1 49.9 310.6 49.2Q311.0 48.6 311.5 48.0Q312.0 47.3 312.4 46.6Q312.8 45.9 313.1 45.1Q313.3 44.4 313.3 43.5Q313.3 42.7 313.3 41.9Q313.2 41.1 313.8 40.6Q314.4 40.1 315.2 39.8Q315.9 39.5 316.6 39.3Q317.4 39.2 318.1 39.1Q318.9 39.1 319.7 39.0Q320.5 39.0 321.2 38.9Q322.0 38.8 322.7 38.7Q323.5 38.5 324.2 38.2Q324.9 37.9 325.6 37.4Q326.2 37.0 326.8 36.4Q327.3 35.8 327.9 35.3Q328.4 34.8 329.2 34.7Q330.0 34.6 330.7 34.7Q331.5 34.8 332.2 35.0Q333.0 35.3 333.6 35.7Q334.3 36.2 334.8 36.8Q335.4 37.3 335.8 38.0Q336.2 38.7 336.5 39.5Q336.8 40.2 336.8 41.1Q336.9 41.9 336.8 42.7Q336.7 43.5 336.5 44.3Q336.3 45.1 336.0 45.9Q335.8 46.7 335.5 47.4Q335.2 48.2 334.8 48.9Q334.4 49.6 333.8 50.2Q333.3 50.8 332.6 51.2Q332.0 51.7 331.3 52.0Q330.5 52.3 329.8 52.4Q329.0 52.4 328.3 52.3Q327.5 52.2 326.8 51.8Q326.1 51.4 325.6 50.8Q325.1 50.2 324.7 49.5Q324.3 48.8 324.2 48.0Q324.0 47.2 324.0 46.4Q324.0 45.5 324.2 44.7Q324.4 43.9 324.7 43.2Q325.0 42.4 325.3 41.7Q325.7 40.9 326.0 40.2Q326.3 39.4 326.5 38.6Q326.7 37.8 326.8 37.0Q327.0 36.2 326.5 35.6Q325.9 35.0 325.3 35.3Q324.6 35.7 324.2 36.4Q323.8 37.1 323.7 37.9Q323.6 38.7 323.8 39.5Q323.9 40.3 324.2 41.1Q324.6 41.9 324.9 42.6Q325.3 43.3 325.8 44.0Q326.2 44.6 326.7 45.3Q327.1 46.0 327.4 46.7Q327.8 47.5 328.0 48.3Q328.1 49.1 328.0 49.9Q327.9 50.7 327.6 51.5Q327.2 52.2 326.6 52.7Q326.0 53.3 325.3 53.5Q324.6 53.7 323.8 53.7Q323.0 53.6 322.4 53.2Q321.7 52.7 321.3 52.0Q320.9 51.4 320.8 50.5Q320.7 49.7 321.1 49.0Q321.4 48.3 322.1 47.8Q322.7 47.4 323.5 47.4Q324.2 47.4 324.8 47.9Q325.4 48.4 325.7 49.2Q326.1 49.9 326.1 50.8Q326.1 51.6 325.8 52.4Q325.6 53.1 325.1 53.8Q324.6 54.4 324.0 54.9Q323.3 55.4 322.6 55.6Q321.8 55.8 321.1 55.7Q320.3 55.7 319.6 55.4Q318.9 55.1 318.2 54.7Q317.6 54.2 317.2 53.5Q316.7 52.8 316.5 52.1Q316.2 51.3 316.1 50.4Q316.1 49.6 316.1 48.8Q316.2 48.0 316.3 47.2Q316.4 46.3 316.5 45.5Q316.6 44.7 316.6 43.9Q316.6 43.0 316.6 42.2Q316.5 41.4 316.1 40.7Q315.8 40.0 315.1 40.1Q314.3 40.2 313.8 40.8Q313.2 41.3 312.9 42.1Q312.6 42.8 312.7 43.7Q312.7 44.5 313.1 45.2Q313.5 45.9 314.1 46.4Q314.7 46.9 315.5 47.0Q316.2 47.2 317.0 47.0Q317.7 46.9 318.4 46.4Q319.1 46.0 319.6 45.4Q320.1 44.8 320.4 44.0Q320.7 43.3 320.9 42.5Q321.1 41.7 321.2 40.9Q321.2 40.0 320.9 39.3Q320.6 38.6 319.9 38.6Q319.1 38.6 318.6 39.2Q318.0 39.7 317.7 40.5Q317.4 41.3 317.4 42.1Q317.4 42.9 317.7 43.7Q318.0 44.5 318.5 45.1Q319.0 45.7 319.7 46.0Q320.4 46.4 321.1 46.5Q321.9 46.7 322.7 46.7Q323.4 46.7 324.2 46.5Q324.9 46.2 325.6 45.8Q326.2 45.4 326.7 44.7Q327.2 44.1 327.4 43.3Q327.6 42.5 327.5 41.7Q327.5 40.8 327.1 40.1Q326.8 39.4 326.2 38.8Q325.7 38.2 325.0 37.8Q324.3 37.5 323.6 37.6Q322.8 37.7 322.3 38.3Q321.8 38.9 321.6 39.7Q321.4 40.5 321.5 41.3Q321.7 42.1 322.1 42.8Q322.5 43.5 323.0 44.1Q323.6 44.6 324.2 45.1Q324.8 45.6 325.5 46.0Q326.2 46.3 326.9 46.6Q327.7 46.9 328.4 47.1Q329.2 47.3 329.9 47.5Q330.7 47.6 331.4 47.7Q332.2 47.9 333.0 47.9Q333.7 48.0 334.5 47.9Q335.3 47.9 336.0 47.7Q336.8 47.5 337.5 47.1Q338.1 46.8 338.7 46.2Q339.3 45.7 339.8 45.1Q340.3 44.4 340.7 43.7Q341.1 43.0 341.4 42.3Q341.8 41.5 342.0 40.8Q342.3 40.0 342.6 39.2Q342.9 38.5 343.3 37.7Q343.7 37.0 343.4 36.3Q343.2 35.5 342.4 35.3Q341.7 35.1 340.9 35.1Q340.1 35.1 339.4 35.1Q338.6 35.1 337.8 35.1Q337.1 35.0 336.3 34.8Q335.6 34.6 334.8 34.6Q334.1 34.5 333.4 34.9Q332.7 35.2 332.2 35.8Q331.6 36.4 331.3 37.1Q331.0 37.9 331.0 38.7Q330.9 39.5 331.2 40.3Q331.5 41.0 332.1 41.6Q332.6 42.2 333.3 42.5Q334.0 42.8 334.8 42.8Q335.6 42.8 336.3 42.5Q337.0 42.2 337.6 41.7Q338.2 41.2 338.7 40.5Q339.1 39.9 339.3 39.1Q339.5 38.3 339.4 37.4Q339.4 36.6 339.1 35.9Q338.8 35.2 338.1 34.8Q337.4 34.5 336.6 34.6Q335.9 34.7 335.2 35.1Q334.6 35.5 334.1 36.2Q333.7 36.9 333.7 37.7Q333.6 38.5 334.0 39.2Q334.3 40.0 334.9 40.4Q335.6 40.9 336.3 41.1Q337.1 41.2 337.8 41.1Q338.6 40.9 339.2 40.4Q339.8 39.9 340.2 39.2Q340.7 38.5 340.9 37.7Q341.1 37.0 340.9 36.2Q340.8 35.4 340.1 35.1Q339.3 34.8 338.6 34.9Q337.8 34.9 337.1 35.1Q336.4 35.4 335.7 35.8Q335.0 36.2 334.4 36.7Q333.7 37.1 333.1 37.6Q332.4 38.1 331.8 38.5Q331.2 39.0 330.6 39.5Q330.0 40.0 329.4 40.6Q328.8 41.1 328.2 41.7Q327.7 42.2 327.1 42.8Q326.6 43.4 326.1 44.1Q325.6 44.7 325.3 45.4Q324.9 46.2 324.7 47.0Q324.4 47.7 324.2 48.5Q324.1 49.4 324.0 50.2Q323.9 51.0 324.0 51.8Q324.0 52.7 324.1 53.5Q324.3 54.3 324.6 55.0Q324.9 55.8 325.4 56.5Q325.8 57.1 326.4 57.7Q326.9 58.3 327.6 58.8Q328.2 59.2 328.9 59.6Q329.6 60.0 330.3 60.1Q331.1 60.3 331.8 60.3Q332.6 60.3 333.4 60.2Q334.1 60.0 334.9 59.7Q335.6 59.5 336.3 59.1Q336.9 58.7 337.6 58.2Q338.2 57.8 338.9 57.3Q339.5 56.8 340.1 56.4Q340.8 55.9 341.5 55.6Q342.2 55.3 342.8 54.9Q343.5 54.5 343.9 53.8Q344.3 53.1 344.6 52.4Q345.0 51.6 344.7 50.8Q344.5 50.0 344.2 49.3Q343.8 48.5 343.4 47.9Q342.9 47.2 342.4 46.6Q341.8 46.1 341.1 45.7Q340.4 45.3 339.7 45.1Q338.9 44.9 338.2 44.9Q337.4 45.0 336.7 45.2Q335.9 45.5 335.3 46.0Q334.7 46.4 334.2 47.1Q333.7 47.7 333.4 48.5Q333.1 49.2 333.0 50.0Q333.0 50.9 333.1 51.7Q333.2 52.5 333.5 53.2Q333.9 54.0 334.3 54.7Q334.8 55.3 335.3 55.9Q335.9 56.5 336.3 57.1Q336.7 57.8 336.3 58.4Q335.9 59.1 335.2 59.4Q334.5 59.8 333.8 59.9Q333.0 60.1 332.2 60.0Q331.5 60.0 330.7 59.8Q330.0 59.5 329.3 59.2Q328.6 58.8 327.9 58.4Q327.2 58.0 326.6 57.6Q325.9 57.2 325.3 56.8Q324.6 56.3 324.0 55.9Q323.3 55.4 322.7 55.0Q322.0 54.5 321.3 54.2Q320.6 53.8 319.9 53.7Q319.1 53.5 318.3 53.6Q317.6 53.7 316.8 53.9Q316.1 54.2 315.5 54.6Q314.8 55.0 314.3 55.7Q313.8 56.3 313.6 57.1Q313.3 57.9 313.4 58.7Q313.4 59.5 313.8 60.2Q314.2 61.0 314.8 61.5Q315.4 62.0 316.1 62.2Q316.8 62.5 317.6 62.3Q318.3 62.2 319.0 61.8Q319.7 61.4 320.2 60.8Q320.7 60.2 321.0 59.5Q321.4 58.7 321.5 57.9Q321.6 57.1 321.6 56.3Q321.5 55.4 321.4 54.6Q321.2 53.8 320.9 53.0Q320.7 52.3 320.3 51.5Q320.0 50.8 319.5 50.1Q319.1 49.4 318.5 48.9Q318.0 48.3 317.3 47.8Q316.7 47.4 316.0 46.9Q315.4 46.5 314.7 46.1Q314.1 45.6 313.5 45.1Q312.9 44.6 312.3 44.1Q311.7 43.6 310.9 43.7Q310.2 43.9 309.7 44.5Q309.1 45.1 308.8 45.8Q308.5 46.6 308.3 47.4Q308.2 48.2 308.1 49.0Q308.1 49.8 308.1 50.7Q308.2 51.5 308.2 52.3Q308.3 53.1 308.4 54.0Q308.6 54.8 308.8 55.6Q309.0 56.4 309.3 57.1Q309.5 57.9 309.9 58.7Q310.2 59.4 310.5 60.2Q310.9 60.9 311.3 61.6Q311.7 62.3 312.1 63.0Q312.4 63.8 312.7 64.5Q313.0 65.3 313.1 66.1Q313.3 66.9 313.8 67.5Q314.4 68.0 315.1 68.3Q315.9 68.6 316.6 68.7Q317.4 68.8 318.2 68.8Q318.9 68.8 319.7 68.6Q320.4 68.4 321.1 68.1Q321.8 67.8 322.5 67.4Q323.2 66.9 323.8 66.5Q324.5 66.1 325.1 65.6Q325.8 65.1 326.4 64.6Q327.0 64.1 327.6 63.6Q328.2 63.0 328.8 62.5Q329.4 62.0 330.0 61.6Q330.7 61.2 331.4 60.8Q332.1 60.5 332.8 60.3Q333.6 60.2 334.3 60.0Q335.0 59.7 335.5 59.1Q335.9 58.4 336.2 57.6Q336.4 56.8 336.4 56.0Q336.3 55.2 336.1 54.4Q335.8 53.7 335.3 53.0Q334.8 52.4 334.2 51.9Q333.5 51.4 332.8 51.1Q332.1 50.7 331.4 50.5Q330.7 50.2 329.9 50.1Q329.2 50.0 328.4 50.1Q327.6 50.2 326.9 50.4Q326.1 50.5 325.4 50.9Q324.7 51.2 324.0 51.5Q323.3 51.9 322.6 52.3Q321.9 52.6 321.2 52.9Q320.5 53.2 319.8 53.5Q319.0 53.7 318.3 53.9Q317.5 54.0 316.7 54.1Q316.0 54.1 315.2 54.2Q314.4 54.3 313.7 54.2Q312.9 54.2 312.1 54.1Q311.3 54.1 310.6 54.0Q309.8 53.9 309.0 53.8Q308.3 53.7 307.5 53.6Q306.7 53.6 306.2 54.1Q305.7 54.7 305.9 55.5Q306.1 56.3 306.7 56.9Q307.2 57.5 307.9 57.9Q308.5 58.2 309.3 58.3Q310.1 58.4 310.8 58.3Q311.6 58.1 312.3 57.9Q313.1 57.7 313.8 57.3Q314.5 57.0 315.1 56.5Q315.8 56.1 316.4 55.5Q316.9 55.0 317.4 54.3Q317.9 53.7 318.2 52.9Q318.5 52.2 318.5 51.4Q318.5 50.5 318.2 49.8Q317.9 49.0 317.4 48.4Q316.9 47.8 316.2 47.4Q315.6 47.0 314.8 47.0Q314.0 46.9 313.3 47.2Q312.6 47.5 312.0 48.0Q311.4 48.5 311.0 49.2Q310.6 49.9 310.4 50.7Q310.3 51.5 310.2 52.4Q310.1 53.2 310.1 54.0Q310.1 54.8 310.3 55.7Q310.4 56.5 310.6 57.3Q310.8 58.1 311.1 58.8Q311.3 59.6 311.6 60.4Q311.9 61.2 312.2 61.9Q312.5 62.7 312.8 63.5Q313.0 64.3 313.3 65.0Q313.6 65.8 313.9 66.5Q314.2 67.3 314.7 67.9Q315.2 68.5 315.9 68.7Q316.7 69.0 317.4 68.8Q318.2 68.7 318.8 68.2Q319.4 67.7 319.8 67.0Q320.1 66.3 320.2 65.4Q320.3 64.6 320.2 63.8Q320.0 63.0 319.7 62.3Q319.4 61.5 318.9 60.9Q318.4 60.2 317.8 59.7Q317.2 59.2 316.5 58.8Q315.8 58.5 315.1 58.2Q314.3 58.0 313.5 57.9Q312.8 57.8 312.0 57.9Q311.2 58.0 310.5 58.1Q309.7 58.3 309.0 58.7Q308.3 59.0 307.6 59.2Q306.9 59.4 306.4 60.0Q306.0 60.6 306.3 61.3Q306.7 62.0 307.3 62.4Q308.0 62.9 308.7 63.0Q309.5 63.1 310.2 63.0Q311.0 62.9 311.7 62.6Q312.4 62.3 313.1 61.9Q313.8 61.5 314.3 60.9Q314.9 60.3 315.2 59.6Q315.5 58.8 315.6 58.0Q315.6 57.2 315.5 56.4Q315.3 55.5 315.0 54.8Q314.8 54.0 314.4 53.3Q314.0 52.6 313.5 51.9Q313.1 51.3 312.5 50.7Q311.9 50.2 311.3 49.7Q310.6 49.2 310.1 48.7Q309.5 48.1 309.0 47.5Q308.5 46.9 307.9 46.4Q307.3 45.9 307.5 45.2Q307.6 44.4 308.4 44.2Q309.1 43.9 309.9 44.0Q310.6 44.1 311.3 44.5Q312.0 44.9 312.5 45.5Q313.0 46.1 313.4 46.9Q313.7 47.6 313.9 48.4Q314.1 49.2 314.0 50.0Q314.0 50.8 313.7 51.6Q313.5 52.4 313.0 53.1Q312.5 53.7 311.9 54.1Q311.2 54.6 310.5 54.7Q309.7 54.8 309.0 54.7Q308.2 54.7 307.4 54.4Q306.7 54.2 306.5 53.4Q306.2 52.7 306.4 51.9Q306.5 51.1 306.8 50.3Q307.1 49.6 307.6 48.9Q308.1 48.3 308.8 47.9Q309.4 47.4 310.2 47.2Q310.9 47.0 311.7 47.0Q312.4 47.0 313.2 47.3Q313.9 47.5 314.5 48.0Q315.2 48.5 315.6 49.1Q316.1 49.8 316.4 50.6Q316.7 51.3 316.7 52.2Q316.8 53.0 316.6 53.8Q316.5 54.6 316.2 55.4Q315.9 56.1 315.4 56.8Q315.0 57.5 314.5 58.1Q313.9 58.7 313.3 59.1Q312.6 59.5 311.9 59.9Q311.2 60.2 310.5 60.4Q309.7 60.7 309.0 61.0Q308.3 61.2 307.7 60.8Q307.1 60.3 306.8 59.5Q306.5 58.8 306.5 57.9Q306.5 57.1 306.6 56.3Q306.7 55.5 306.8 54.7Q306.9 53.8 306.8 53.0Q306.8 52.2 306.5 51.4Q306.3 50.6 306.5 49.8Q306.7 49.0 307.1 48.3Q307.4 47.5 307.8 46.8Q308.2 46.1 308.6 45.4Q309.0 44.7 309.5 44.0Q309.9 43.4 310.4 42.7Q310.9 42.1 311.5 41.6Q312.1 41.1 312.8 41.1Q313.6 41.2 314.3 41.5Q315.0 41.9 315.5 42.5Q316.0 43.1 316.3 43.9Q316.7 44.6 316.9 45.4Q317.1 46.2 317.2 47.0Q317.3 47.8 317.3 48.7Q317.3 49.5 317.1 50.3Q317.0 51.1 316.7 51.9Q316.4 52.6 315.9 53.3Q315.5 54.0 315.1 54.7Q314.7 55.4 314.4 56.2Q314.0 56.9 313.6 57.6Q313.2 58.3 312.8 59.0Q312.3 59.7 311.9 60.4Q311.5 61.1 311.2 61.8Q310.8 62.6 310.6 63.4Q310.3 64.1 310.6 64.9Q310.8 65.7 311.3 66.3Q311.8 67.0 312.3 67.6Q312.8 68.2 313.5 68.6Q314.1 68.9 314.9 68.9Q315.7 68.8 316.4 68.4Q317.1 68.1 317.7 67.7Q318.4 67.2 319.0 66.7Q319.6 66.3 320.2 65.7Q320.8 65.2 321.3 64.6Q321.8 63.9 322.4 63.3Q322.9 62.7 323.5 62.2Q324.1 61.7 324.7 61.3Q325.4 60.9 326.2 60.7Q326.9 60.5 327.7 60.5Q328.4 60.5 329.2 60.6Q330.0 60.7 330.7 60.9Q331.5 61.1 332.2 61.1Q332.9 61.1 333.6 60.7Q334.2 60.2 334.6 59.5Q335.1 58.9 335.4 58.1Q335.7 57.4 336.0 56.6Q336.3 55.8 336.6 55.0Q336.9 54.3 337.2 53.5Q337.6 52.8 338.0 52.1Q338.4 51.4 338.9 50.8Q339.4 50.2 339.9 49.6Q340.5 48.9 341.0 48.4Q341.6 47.8 342.2 47.4Q342.9 46.9 343.6 46.5Q344.3 46.2 344.7 45.5Q345.1 44.7 345.3 44.0Q345.6 43.2 345.8 42.4Q345.9 41.6 346.0 40.8Q346.0 39.9 345.8 39.1Q345.7 38.3 345.4 37.5Q345.1 36.8 344.4 36.5Q343.7 36.2 342.9 36.2Q342.2 36.3 341.5 36.6Q340.8 36.9 340.2 37.5Q339.6 38.0 339.1 38.7Q338.6 39.3 338.4 40.1Q338.1 40.8 338.0 41.7Q337.9 42.5 338.1 43.3Q338.2 44.1 338.6 44.8Q339.0 45.5 339.6 46.1Q340.1 46.7 340.8 47.0Q341.5 47.3 342.3 47.4Q343.1 47.4 343.6 48.0Q344.2 48.5 344.5 49.3Q344.8 50.1 344.8 50.9Q344.8 51.7 344.5 52.4Q344.2 53.1 343.6 53.7Q343.0 54.2 342.4 54.6Q341.7 55.0 341.0 55.3Q340.2 55.6 339.5 55.8Q338.8 56.0 338.0 56.3Q337.3 56.5 336.6 56.9Q335.9 57.2 335.2 57.6Q334.6 58.0 333.9 58.4Q333.2 58.9 332.6 59.3Q331.9 59.7 331.3 60.3Q330.7 60.8 330.2 61.4Q329.7 62.0 329.2 62.7Q328.8 63.4 328.4 64.1Q328.0 64.8 327.7 65.6Q327.4 66.3 327.2 67.1Q327.0 67.9 326.3 68.4Q325.7 68.8 324.9 68.8Q324.2 68.8 323.5 68.4Q322.9 67.9 322.5 67.2Q322.1 66.5 322.0 65.7Q321.9 64.9 322.0 64.0Q322.1 63.2 322.4 62.5Q322.7 61.7 323.1 61.0Q323.6 60.4 324.2 59.9Q324.8 59.4 325.5 59.1Q326.2 58.7 327.0 58.7Q327.8 58.6 328.5 58.8Q329.3 58.9 329.9 59.3Q330.6 59.8 331.1 60.4Q331.6 61.0 331.8 61.8Q332.0 62.6 331.6 63.3Q331.2 64.0 330.6 64.4Q329.9 64.8 329.1 64.8Q328.4 64.8 327.7 64.5Q327.0 64.2 326.4 63.6Q325.9 63.0 325.5 62.3Q325.1 61.6 324.9 60.8Q324.6 60.0 324.5 59.2Q324.4 58.4 324.5 57.6Q324.6 56.7 324.9 56.0Q325.1 55.2 325.5 54.5Q325.9 53.8 326.4 53.2Q327.0 52.5 327.6 52.1Q328.2 51.6 328.9 51.4Q329.7 51.1 330.4 51.1Q331.2 51.1 331.9 51.4Q332.7 51.7 333.3 52.1Q334.0 52.5 334.6 53.0Q335.2 53.5 335.8 54.0Q336.4 54.5 337.1 55.0Q337.7 55.5 337.7 56.3Q337.8 57.1 337.2 57.5Q336.6 58.0 335.8 58.2Q335.0 58.3 334.3 58.1Q333.5 58.0 332.8 57.7Q332.1 57.3 331.5 56.9Q330.8 56.4 330.2 55.9Q329.7 55.4 329.1 54.8Q328.6 54.2 328.1 53.5Q327.6 52.9 327.1 52.3Q326.6 51.6 326.2 50.9Q325.8 50.2 325.4 49.5Q324.9 48.8 324.6 48.1Q324.2 47.4 323.9 46.6Q323.6 45.8 323.4 45.1Q323.2 44.3 323.1 43.4Q323.0 42.6 323.1 41.8Q323.2 41.0 323.5 40.2Q323.7 39.4 324.1 38.7Q324.5 38.0 325.1 37.4Q325.6 36.8 326.2 36.4Q326.9 35.9 327.6 35.5Q328.2 35.1 329.0 35.0Q329.7 34.8 330.3 35.2Q331.0 35.6 331.4 36.3Q331.8 37.0 332.0 37.8Q332.2 38.6 332.2 39.4Q332.2 40.3 332.1 41.1Q332.0 41.9 331.9 42.7Q331.7 43.5 331.5 44.3Q331.3 45.1 331.0 45.9Q330.7 46.7 330.4 47.4Q330.0 48.2 329.7 48.9Q329.3 49.6 329.0 50.4Q328.6 51.1 328.3 51.9Q328.0 52.6 327.7 53.4Q327.4 54.1 327.0 54.9Q326.7 55.6 326.4 56.4Q326.1 57.1 325.8 57.9Q325.5 58.7 325.3 59.5Q325.1 60.3 324.9 61.1Q324.8 61.9 324.6 62.7Q324.4 63.5 324.2 64.3Q324.0 65.1 323.8 65.9Q323.5 66.7 323.2 67.4Q322.8 68.2 322.4 68.9Q322.0 69.5 321.2 69.8Q320.5 70.0 319.7 69.9Q319.0 69.9 318.2 69.6Q317.5 69.4 316.8 68.9Q316.2 68.5 315.6 68.0Q314.9 67.5 314.3 67.0Q313.7 66.5 313.1 66.0Q312.5 65.5 311.9 65.0Q311.3 64.5 310.6 64.0Q310.0 63.5 309.4 63.0Q308.8 62.5 308.2 62.0Q307.6 61.5 307.3 60.7Q307.1 59.9 307.1 59.1Q307.0 58.3 307.2 57.5Q307.3 56.7 307.6 55.9Q307.9 55.1 308.3 54.4Q308.7 53.7 309.2 53.1Q309.6 52.4 310.1 51.8Q310.7 51.2 311.3 50.7Q311.9 50.2 312.5 49.7Q313.2 49.3 313.9 49.0Q314.7 48.7 315.4 48.5Q316.1 48.3 316.9 48.2Q317.7 48.1 318.4 48.0Q319.2 47.8 320.0 47.7Q320.7 47.6 321.5 47.5Q322.3 47.5 323.0 47.6Q323.8 47.7 324.5 48.1Q325.2 48.4 325.9 48.8Q326.5 49.2 327.1 49.8Q327.7 50.3 328.3 50.9Q328.8 51.5 329.2 52.2Q329.6 52.9 329.8 53.6Q330.1 54.4 330.1 55.3Q330.1 56.1 329.9 56.9Q329.7 57.7 329.3 58.4Q328.9 59.1 328.3 59.6Q327.7 60.2 327.1 60.5Q326.4 60.9 325.6 61.2Q324.9 61.4 324.1 61.5Q323.4 61.6 322.6 61.5Q321.8 61.5 321.1 61.2Q320.4 60.9 319.8 60.4Q319.1 59.9 318.7 59.3Q318.2 58.6 318.0 57.8Q317.7 57.1 317.5 56.3Q317.3 55.5 317.2 54.6Q317.1 53.8 317.2 53.0Q317.3 52.2 317.6 51.4Q317.9 50.6 318.4 50.0Q318.8 49.3 319.4 48.8Q320.0 48.3 320.7 48.0Q321.4 47.7 322.2 47.6" fill="none" stroke="#a9a7a7" stroke-width="1.45" stroke-linecap="round" stroke-linejoin="round"/>
<path d="M311.1 151.5Q311.0 153.2 310.7 153.9Q310.5 154.7 309.9 155.3Q309.4 155.9 308.7 156.1Q308.0 156.4 307.2 156.2Q306.5 156.1 305.9 155.6Q305.3 155.1 304.9 154.4Q304.5 153.8 304.4 152.9Q304.3 152.1 304.6 151.4Q304.9 150.6 305.5 150.1Q306.1 149.6 306.8 149.5Q307.6 149.3 308.3 149.5Q309.0 149.7 309.7 150.2Q310.3 150.7 310.6 151.4Q311.0 152.1 311.0 153.0Q311.0 153.8 310.7 154.5Q310.4 155.3 309.9 155.9Q309.4 156.5 308.8 157.0Q308.2 157.5 307.5 157.8Q306.8 158.2 306.1 158.5Q305.4 158.8 304.7 159.1Q304.0 159.5 303.3 159.6Q302.6 159.7 302.1 159.1Q301.6 158.5 301.4 157.7Q301.2 156.9 301.2 156.0Q301.3 155.2 301.5 154.4Q301.7 153.6 302.0 152.9Q302.3 152.1 302.7 151.4Q303.1 150.7 303.4 149.9Q303.8 149.2 304.2 148.5Q304.5 147.8 304.9 147.0Q305.3 146.3 305.7 145.6Q306.0 144.9 306.3 144.1Q306.7 143.4 307.0 142.6Q307.3 141.9 307.6 141.1Q307.9 140.3 308.2 139.6Q308.5 138.8 308.8 138.0Q309.1 137.3 309.4 136.5Q309.7 135.8 310.4 135.4Q311.1 135.1 311.9 135.1Q312.6 135.1 313.3 135.5Q314.0 135.8 314.5 136.4Q315.0 137.1 315.1 137.9Q315.3 138.7 315.2 139.5Q315.0 140.3 314.7 141.0Q314.3 141.7 313.7 142.3Q313.2 142.8 312.4 143.1Q311.7 143.3 311.0 143.3Q310.2 143.4 309.5 143.2Q308.7 143.0 308.1 142.6Q307.4 142.3 306.9 141.7Q306.3 141.1 306.0 140.3Q305.8 139.6 305.7 138.7Q305.6 137.9 306.1 137.3Q306.6 136.6 307.3 136.3Q308.0 136.0 308.7 136.2Q309.5 136.3 310.1 136.8Q310.7 137.2 311.2 137.9Q311.6 138.6 311.9 139.3Q312.3 140.1 312.5 140.8Q312.7 141.6 312.8 142.5Q312.9 143.3 312.8 144.1Q312.8 144.9 312.6 145.8Q312.5 146.6 312.2 147.4Q312.0 148.1 311.7 148.9Q311.3 149.7 311.0 150.4Q310.7 151.1 310.2 151.8Q309.8 152.5 309.3 153.1Q308.8 153.7 308.3 154.3Q307.7 154.9 307.1 155.4Q306.5 155.9 305.8 156.3Q305.2 156.7 304.4 156.9Q303.7 157.2 303.0 157.4Q302.2 157.6 301.7 157.1Q301.1 156.6 301.0 155.8Q300.8 155.0 301.0 154.2Q301.2 153.4 301.6 152.7Q302.1 152.0 302.7 151.6Q303.3 151.1 304.0 150.9Q304.8 150.7 305.5 150.7Q306.3 150.8 307.0 151.1Q307.7 151.4 308.2 152.0Q308.7 152.6 309.0 153.4Q309.2 154.1 309.1 155.0Q309.0 155.8 308.6 156.5Q308.2 157.2 307.6 157.6Q306.9 158.0 306.2 158.2Q305.4 158.3 304.7 158.2Q304.0 158.0 303.3 157.6Q302.7 157.2 302.2 156.5Q301.8 155.8 301.5 155.0Q301.3 154.3 301.1 153.4Q301.0 152.6 301.0 151.8Q301.0 151.0 301.1 150.2Q301.3 149.3 301.5 148.6Q301.8 147.8 302.2 147.1Q302.6 146.4 303.1 145.8Q303.6 145.1 304.2 144.7Q304.8 144.2 305.5 143.9Q306.2 143.5 307.0 143.3Q307.7 143.1 308.5 143.0Q309.2 142.9 309.9 142.8Q310.7 142.7 311.4 142.5Q312.2 142.3 312.9 142.0Q313.6 141.7 314.2 141.2Q314.8 140.7 315.3 140.1Q315.9 139.5 316.2 138.8Q316.6 138.1 316.8 137.3Q317.0 136.5 316.9 135.7Q316.8 134.9 316.3 134.2Q315.9 133.6 315.1 133.5Q314.4 133.4 313.6 133.4Q312.8 133.4 312.1 133.5Q311.3 133.6 310.6 133.7Q309.8 133.9 309.1 134.1Q308.4 134.3 307.7 134.6Q306.9 134.9 306.5 135.5Q306.1 136.2 305.9 137.0Q305.7 137.8 305.7 138.7Q305.8 139.5 306.0 140.3Q306.3 141.0 306.8 141.7Q307.3 142.3 307.9 142.7Q308.6 143.2 309.3 143.4Q310.1 143.6 310.8 143.5Q311.6 143.5 312.3 143.2Q313.0 143.0 313.7 142.7Q314.4 142.3 315.0 141.9Q315.6 141.4 316.2 140.8Q316.7 140.2 317.2 139.6Q317.6 138.9 317.9 138.1Q318.3 137.4 318.6 136.6Q318.9 135.9 319.2 135.1Q319.5 134.3 319.6 133.5Q319.8 132.7 319.7 132.0Q319.5 131.2 318.8 131.0Q318.1 130.9 317.4 131.2Q316.7 131.6 316.1 132.1Q315.5 132.6 315.1 133.3Q314.7 134.0 314.4 134.8Q314.2 135.5 314.1 136.4Q314.1 137.2 314.2 138.0Q314.4 138.8 314.7 139.6Q314.9 140.4 315.3 141.1Q315.6 141.8 316.0 142.6Q316.3 143.3 316.7 144.0Q317.1 144.8 317.5 145.5Q317.9 146.2 318.4 146.8Q318.8 147.5 319.3 148.1Q319.8 148.8 320.2 149.5Q320.6 150.2 320.9 150.9Q321.3 151.7 321.5 152.5Q321.7 153.3 321.8 154.1Q321.9 154.9 321.7 155.7Q321.6 156.5 321.3 157.3Q321.0 158.0 320.5 158.7Q320.0 159.3 319.3 159.7Q318.7 160.1 317.9 160.2Q317.2 160.3 316.5 160.1Q315.7 160.0 315.0 159.6Q314.4 159.2 313.8 158.6Q313.3 158.1 312.8 157.4Q312.4 156.7 312.2 155.9Q312.0 155.1 312.0 154.2Q312.0 153.4 312.0 152.6Q312.0 151.7 312.0 150.9Q311.9 150.1 311.8 149.3Q311.8 148.4 311.6 147.6Q311.4 146.8 311.0 146.1Q310.6 145.4 310.1 144.8Q309.5 144.2 308.9 143.8Q308.2 143.4 307.5 143.1Q306.8 142.8 306.1 142.8Q305.3 142.8 304.6 143.0Q303.8 143.2 303.1 143.5Q302.5 143.9 301.9 144.4Q301.3 145.0 300.9 145.7Q300.5 146.4 300.3 147.2Q300.2 148.0 300.2 148.8Q300.2 149.6 300.4 150.4Q300.7 151.2 301.1 151.9Q301.5 152.6 302.0 153.2Q302.5 153.8 303.1 154.3Q303.8 154.7 304.5 155.1Q305.1 155.5 305.8 155.8Q306.5 156.2 307.1 156.7Q307.8 157.1 308.3 157.7Q308.9 158.3 309.2 159.0Q309.6 159.7 309.8 160.5Q310.1 161.3 310.0 162.1Q309.9 162.9 309.5 163.6Q309.1 164.2 308.4 164.2Q307.6 164.2 306.9 164.0Q306.2 163.7 305.5 163.4Q304.8 163.0 304.2 162.6Q303.5 162.2 303.2 161.4Q303.0 160.6 302.9 159.8Q302.8 159.0 302.9 158.2Q303.0 157.3 303.3 156.6Q303.6 155.8 304.1 155.2Q304.5 154.5 305.0 153.9Q305.5 153.2 306.0 152.6Q306.5 152.0 306.9 151.3Q307.4 150.6 307.8 150.0Q308.3 149.3 308.7 148.6Q309.2 148.0 309.8 147.4Q310.3 146.9 311.0 146.4Q311.6 146.0 312.3 145.6Q313.0 145.3 313.7 145.1Q314.5 144.9 315.2 144.8Q316.0 144.8 316.7 144.9Q317.5 145.0 318.2 145.2Q319.0 145.3 319.7 145.6Q320.4 145.9 321.0 146.4Q321.6 146.9 322.1 147.5Q322.7 148.0 323.2 148.7Q323.7 149.3 324.1 149.9Q324.6 150.6 325.0 151.3Q325.3 152.1 325.5 152.9Q325.6 153.7 325.5 154.5Q325.5 155.4 325.3 156.1Q325.0 156.9 324.7 157.7Q324.4 158.5 324.1 159.2Q323.7 159.9 323.3 160.6Q322.9 161.3 322.5 162.0Q322.0 162.7 321.5 163.2Q320.9 163.7 320.1 163.7Q319.4 163.7 318.7 163.5Q317.9 163.2 317.3 162.7Q316.8 162.2 316.4 161.5Q315.9 160.8 315.9 160.0Q315.8 159.1 316.1 158.4Q316.4 157.6 317.0 157.0Q317.5 156.4 318.1 156.1Q318.8 155.7 319.5 155.5Q320.3 155.3 321.0 155.4Q321.8 155.4 322.5 155.7Q323.2 156.0 323.8 156.6Q324.3 157.1 324.5 157.9Q324.7 158.7 324.4 159.4Q324.0 160.2 323.5 160.7Q322.9 161.2 322.1 161.4Q321.4 161.6 320.7 161.4Q319.9 161.2 319.3 160.7Q318.7 160.2 318.4 159.5Q318.0 158.8 317.8 157.9Q317.6 157.1 317.7 156.3Q317.7 155.5 318.0 154.7Q318.3 153.9 318.8 153.3Q319.2 152.6 319.8 152.1Q320.4 151.6 321.1 151.3Q321.8 151.0 322.6 151.0Q323.3 150.9 324.1 151.1Q324.8 151.4 325.4 151.8Q326.1 152.2 326.6 152.8Q327.1 153.4 327.4 154.2Q327.6 154.9 327.2 155.6Q326.7 156.2 326.1 156.7Q325.5 157.2 324.7 157.4Q324.0 157.6 323.2 157.6Q322.5 157.6 321.7 157.5Q321.0 157.4 320.3 157.2Q319.5 157.0 318.8 156.8Q318.1 156.6 317.3 156.4Q316.6 156.3 315.8 156.3Q315.0 156.2 314.3 156.3Q313.5 156.4 312.8 156.5Q312.0 156.7 311.3 157.0Q310.6 157.3 310.0 157.7Q309.3 158.1 308.7 158.6Q308.1 159.1 307.6 159.7Q307.1 160.3 306.6 161.0Q306.2 161.7 305.5 161.7Q304.7 161.7 304.1 161.3Q303.4 160.9 302.9 160.3Q302.4 159.7 302.0 159.0Q301.7 158.2 301.5 157.4Q301.4 156.6 301.4 155.8Q301.4 154.9 301.4 154.1Q301.5 153.3 301.6 152.5Q301.8 151.7 301.8 150.8Q301.9 150.0 302.1 149.2Q302.2 148.4 302.4 147.6Q302.7 146.8 303.0 146.1Q303.4 145.3 303.9 144.7Q304.3 144.0 304.8 143.4Q305.3 142.8 305.7 142.0Q306.1 141.3 306.4 140.6Q306.6 139.8 306.6 139.0Q306.6 138.1 306.5 137.3Q306.5 136.5 307.1 136.0Q307.7 135.5 308.4 135.2Q309.1 134.9 309.8 134.8Q310.6 134.6 311.3 134.5Q312.1 134.5 312.8 134.4Q313.6 134.4 314.4 134.3Q315.1 134.2 315.9 134.1Q316.6 133.9 317.3 133.6Q318.0 133.3 318.6 132.9Q319.3 132.4 319.8 131.8Q320.3 131.2 320.9 130.7Q321.5 130.2 322.2 130.1Q323.0 130.0 323.7 130.1Q324.5 130.2 325.2 130.4Q325.9 130.7 326.5 131.1Q327.2 131.6 327.7 132.2Q328.2 132.7 328.7 133.4Q329.1 134.1 329.4 134.9Q329.6 135.7 329.7 136.5Q329.8 137.3 329.7 138.1Q329.6 139.0 329.4 139.8Q329.2 140.6 328.9 141.3Q328.7 142.1 328.4 142.9Q328.1 143.6 327.7 144.4Q327.3 145.1 326.7 145.6Q326.2 146.2 325.6 146.7Q324.9 147.1 324.2 147.4Q323.5 147.7 322.8 147.8Q322.0 147.9 321.3 147.8Q320.5 147.6 319.8 147.3Q319.2 146.9 318.7 146.3Q318.1 145.7 317.8 145.0Q317.4 144.2 317.2 143.4Q317.1 142.6 317.1 141.8Q317.1 141.0 317.3 140.1Q317.4 139.3 317.7 138.6Q318.0 137.8 318.4 137.1Q318.7 136.3 319.0 135.6Q319.3 134.8 319.5 134.0Q319.7 133.2 319.9 132.4Q320.0 131.6 319.5 131.0Q319.0 130.4 318.3 130.8Q317.7 131.1 317.3 131.8Q316.9 132.5 316.8 133.3Q316.7 134.1 316.9 134.9Q317.0 135.8 317.3 136.5Q317.6 137.3 318.0 138.0Q318.4 138.7 318.8 139.4Q319.3 140.1 319.7 140.8Q320.1 141.4 320.5 142.2Q320.8 142.9 321.0 143.7Q321.1 144.5 321.0 145.4Q320.9 146.2 320.6 146.9Q320.2 147.7 319.7 148.2Q319.1 148.7 318.4 149.0Q317.6 149.2 316.9 149.1Q316.1 149.0 315.5 148.6Q314.9 148.2 314.4 147.5Q314.0 146.8 313.9 146.0Q313.9 145.2 314.2 144.4Q314.5 143.7 315.2 143.3Q315.8 142.8 316.6 142.8Q317.3 142.9 317.9 143.4Q318.5 143.9 318.8 144.6Q319.1 145.4 319.1 146.2Q319.1 147.0 318.9 147.8Q318.6 148.6 318.1 149.3Q317.7 149.9 317.1 150.4Q316.4 150.8 315.7 151.0Q315.0 151.2 314.2 151.2Q313.5 151.2 312.7 150.9Q312.0 150.6 311.4 150.1Q310.8 149.6 310.4 149.0Q309.9 148.3 309.7 147.5Q309.4 146.7 309.4 145.9Q309.3 145.1 309.3 144.2Q309.4 143.4 309.5 142.6Q309.6 141.8 309.7 140.9Q309.8 140.1 309.8 139.3Q309.9 138.5 309.8 137.6Q309.7 136.8 309.4 136.1Q309.0 135.4 308.3 135.5Q307.6 135.6 307.0 136.2Q306.5 136.8 306.2 137.5Q305.9 138.3 306.0 139.1Q306.0 139.9 306.4 140.6Q306.8 141.4 307.4 141.8Q308.0 142.3 308.7 142.5Q309.5 142.7 310.2 142.5Q310.9 142.3 311.6 141.9Q312.2 141.5 312.7 140.8Q313.2 140.2 313.6 139.5Q313.9 138.7 314.1 137.9Q314.2 137.1 314.3 136.3Q314.3 135.4 314.0 134.7Q313.8 134.0 313.0 134.0Q312.3 134.0 311.8 134.6Q311.2 135.1 310.9 135.9Q310.6 136.7 310.6 137.5Q310.6 138.3 310.9 139.1Q311.1 139.9 311.7 140.5Q312.2 141.1 312.9 141.4Q313.5 141.8 314.3 142.0Q315.0 142.1 315.8 142.1Q316.5 142.1 317.3 141.9Q318.0 141.7 318.6 141.2Q319.3 140.8 319.7 140.1Q320.2 139.5 320.4 138.7Q320.6 137.9 320.6 137.1Q320.5 136.3 320.2 135.5Q319.8 134.8 319.3 134.2Q318.7 133.6 318.1 133.3Q317.4 132.9 316.7 133.0Q315.9 133.1 315.4 133.7Q314.9 134.3 314.7 135.1Q314.5 135.9 314.7 136.7Q314.8 137.5 315.2 138.2Q315.6 138.9 316.1 139.5Q316.7 140.1 317.3 140.6Q317.9 141.1 318.6 141.4Q319.3 141.7 320.0 142.0Q320.7 142.3 321.4 142.5Q322.1 142.7 322.9 142.9Q323.6 143.0 324.4 143.2Q325.1 143.3 325.9 143.4Q326.6 143.4 327.4 143.4Q328.1 143.3 328.9 143.1Q329.6 142.9 330.3 142.6Q331.0 142.2 331.6 141.7Q332.2 141.2 332.6 140.5Q333.1 139.9 333.5 139.2Q333.9 138.4 334.2 137.7Q334.5 136.9 334.8 136.2Q335.1 135.4 335.4 134.6Q335.7 133.9 336.0 133.1Q336.4 132.4 336.2 131.7Q335.9 130.9 335.2 130.7Q334.5 130.5 333.7 130.5Q332.9 130.5 332.2 130.5Q331.4 130.5 330.7 130.5Q329.9 130.4 329.2 130.2Q328.4 130.0 327.7 130.0Q327.0 129.9 326.3 130.3Q325.6 130.6 325.1 131.2Q324.6 131.8 324.2 132.5Q323.9 133.3 323.9 134.1Q323.9 134.9 324.2 135.7Q324.5 136.5 325.0 137.0Q325.5 137.6 326.2 137.9Q326.9 138.2 327.7 138.2Q328.4 138.2 329.1 137.9Q329.9 137.7 330.5 137.1Q331.0 136.6 331.5 136.0Q331.9 135.3 332.1 134.5Q332.3 133.7 332.3 132.8Q332.3 132.0 331.9 131.3Q331.6 130.6 330.9 130.2Q330.3 129.9 329.5 130.0Q328.8 130.1 328.1 130.5Q327.4 130.9 327.0 131.6Q326.6 132.3 326.6 133.1Q326.6 133.9 326.9 134.7Q327.2 135.4 327.8 135.9Q328.5 136.3 329.2 136.5Q329.9 136.7 330.7 136.5Q331.4 136.3 332.0 135.8Q332.6 135.3 333.0 134.6Q333.4 133.9 333.7 133.2Q333.9 132.4 333.7 131.6Q333.6 130.8 332.9 130.5Q332.2 130.2 331.4 130.3Q330.6 130.3 329.9 130.5Q329.2 130.8 328.6 131.2Q327.9 131.6 327.3 132.1Q326.6 132.6 326.0 133.0Q325.4 133.5 324.8 133.9Q324.1 134.4 323.5 134.9Q322.9 135.4 322.4 136.0Q321.8 136.5 321.2 137.1Q320.7 137.6 320.2 138.2Q319.6 138.8 319.2 139.5Q318.7 140.1 318.3 140.9Q318.0 141.6 317.7 142.4Q317.5 143.2 317.3 144.0Q317.2 144.8 317.1 145.6Q317.0 146.5 317.1 147.3Q317.1 148.1 317.2 148.9Q317.4 149.7 317.7 150.5Q318.0 151.3 318.4 151.9Q318.9 152.6 319.4 153.2Q320.0 153.8 320.6 154.2Q321.2 154.7 321.9 155.1Q322.6 155.4 323.3 155.6Q324.0 155.8 324.8 155.8Q325.5 155.8 326.3 155.6Q327.0 155.5 327.8 155.2Q328.5 154.9 329.1 154.5Q329.8 154.1 330.4 153.7Q331.1 153.2 331.7 152.8Q332.3 152.3 332.9 151.8Q333.6 151.4 334.3 151.1Q335.0 150.7 335.6 150.4Q336.2 150.0 336.7 149.3Q337.1 148.6 337.4 147.8Q337.7 147.1 337.5 146.3Q337.2 145.5 336.9 144.7Q336.6 144.0 336.1 143.3Q335.7 142.6 335.1 142.1Q334.6 141.5 333.9 141.1Q333.2 140.7 332.5 140.5Q331.8 140.3 331.0 140.4Q330.3 140.4 329.5 140.7Q328.8 140.9 328.2 141.4Q327.6 141.9 327.1 142.5Q326.6 143.1 326.3 143.9Q326.0 144.7 326.0 145.5Q325.9 146.3 326.0 147.1Q326.2 147.9 326.5 148.7Q326.8 149.5 327.2 150.1Q327.7 150.8 328.2 151.4Q328.8 151.9 329.2 152.6Q329.6 153.2 329.2 153.9Q328.8 154.5 328.1 154.9Q327.4 155.2 326.7 155.4Q325.9 155.5 325.2 155.5Q324.4 155.5 323.7 155.2Q323.0 155.0 322.3 154.6Q321.6 154.3 320.9 153.9Q320.3 153.5 319.6 153.1Q319.0 152.7 318.3 152.2Q317.7 151.8 317.0 151.3Q316.4 150.9 315.8 150.4Q315.1 150.0 314.5 149.6Q313.8 149.3 313.0 149.1Q312.3 149.0 311.5 149.1Q310.8 149.1 310.0 149.4Q309.3 149.6 308.7 150.1Q308.0 150.5 307.6 151.1Q307.1 151.8 306.8 152.6Q306.6 153.3 306.6 154.2Q306.7 155.0 307.1 155.7Q307.4 156.4 308.0 157.0Q308.6 157.5 309.3 157.7Q310.0 157.9 310.8 157.8Q311.5 157.7 312.2 157.3Q312.9 156.9 313.4 156.3Q313.9 155.7 314.2 154.9Q314.5 154.2 314.6 153.4Q314.7 152.5 314.7 151.7Q314.7 150.9 314.5 150.1Q314.3 149.3 314.1 148.5Q313.8 147.7 313.5 147.0Q313.1 146.2 312.7 145.5Q312.3 144.9 311.7 144.3Q311.2 143.7 310.5 143.3Q309.9 142.8 309.3 142.4Q308.6 142.0 308.0 141.5Q307.3 141.0 306.7 140.5Q306.1 140.0 305.5 139.5Q305.0 139.0 304.2 139.2Q303.5 139.3 303.0 139.9Q302.5 140.5 302.2 141.3Q301.8 142.0 301.7 142.8Q301.5 143.6 301.5 144.5Q301.4 145.3 301.5 146.1Q301.5 146.9 301.6 147.8Q301.6 148.6 301.8 149.4Q301.9 150.2 302.1 151.0Q302.3 151.8 302.6 152.6Q302.9 153.4 303.2 154.1Q303.5 154.9 303.9 155.6Q304.2 156.4 304.6 157.1Q305.0 157.8 305.4 158.5Q305.7 159.2 306.0 160.0Q306.3 160.8 306.4 161.6Q306.5 162.4 307.1 163.0Q307.7 163.5 308.4 163.8Q309.1 164.1 309.8 164.2Q310.6 164.3 311.3 164.3Q312.1 164.3 312.8 164.1Q313.6 163.9 314.3 163.6Q315.0 163.3 315.6 162.9Q316.3 162.4 316.9 162.0Q317.6 161.6 318.2 161.1Q318.8 160.6 319.4 160.1Q320.0 159.6 320.6 159.0Q321.2 158.5 321.8 158.0Q322.4 157.5 323.0 157.1Q323.7 156.6 324.3 156.3Q325.0 156.0 325.8 155.8Q326.5 155.7 327.2 155.4Q327.9 155.2 328.4 154.5Q328.8 153.9 329.0 153.1Q329.2 152.3 329.2 151.5Q329.2 150.6 328.9 149.9Q328.7 149.1 328.2 148.5Q327.7 147.8 327.1 147.4Q326.5 146.9 325.8 146.5Q325.1 146.2 324.4 145.9Q323.6 145.7 322.9 145.6Q322.1 145.5 321.4 145.5Q320.6 145.6 319.9 145.8Q319.2 146.0 318.5 146.3Q317.8 146.6 317.1 147.0Q316.4 147.4 315.7 147.7Q315.0 148.1 314.3 148.4Q313.6 148.7 312.9 148.9Q312.2 149.2 311.4 149.3Q310.7 149.5 309.9 149.5Q309.2 149.6 308.4 149.7Q307.7 149.7 306.9 149.7Q306.2 149.7 305.4 149.6Q304.6 149.5 303.9 149.4Q303.1 149.4 302.4 149.3Q301.6 149.2 300.9 149.1Q300.1 149.0 299.6 149.6Q299.1 150.2 299.3 150.9Q299.5 151.7 300.0 152.4Q300.5 153.0 301.2 153.3Q301.9 153.7 302.7 153.8Q303.4 153.8 304.2 153.7Q304.9 153.6 305.6 153.4Q306.4 153.1 307.0 152.8Q307.7 152.4 308.4 152.0Q309.0 151.5 309.6 151.0Q310.1 150.4 310.6 149.8Q311.1 149.1 311.4 148.4Q311.7 147.6 311.7 146.8Q311.7 146.0 311.4 145.2Q311.1 144.5 310.6 143.8Q310.1 143.2 309.5 142.8Q308.8 142.4 308.0 142.4Q307.3 142.4 306.6 142.6Q305.8 142.9 305.3 143.4Q304.7 143.9 304.3 144.7Q303.9 145.4 303.8 146.2Q303.6 147.0 303.5 147.8Q303.4 148.6 303.4 149.5Q303.5 150.3 303.6 151.1Q303.7 151.9 303.9 152.7Q304.1 153.5 304.4 154.3Q304.6 155.1 304.9 155.9Q305.2 156.6 305.5 157.4Q305.8 158.2 306.0 159.0Q306.3 159.7 306.6 160.5Q306.9 161.3 307.2 162.0Q307.5 162.8 308.0 163.4Q308.4 164.0 309.1 164.2Q309.9 164.5 310.6 164.3Q311.4 164.2 312.0 163.7Q312.6 163.2 312.9 162.5Q313.3 161.8 313.3 160.9Q313.4 160.1 313.3 159.3Q313.2 158.5 312.8 157.7Q312.5 157.0 312.0 156.4Q311.5 155.7 311.0 155.2Q310.4 154.7 309.7 154.3Q309.0 153.9 308.3 153.7Q307.6 153.5 306.8 153.4Q306.1 153.3 305.3 153.4Q304.5 153.4 303.8 153.6Q303.1 153.8 302.4 154.1Q301.7 154.5 301.0 154.7Q300.3 154.9 299.8 155.5Q299.4 156.1 299.7 156.8Q300.0 157.5 300.7 157.9Q301.3 158.4 302.1 158.5Q302.8 158.6 303.6 158.5Q304.3 158.4 305.0 158.1Q305.7 157.8 306.4 157.4Q307.0 157.0 307.6 156.4Q308.1 155.8 308.4 155.0Q308.7 154.3 308.8 153.5Q308.8 152.6 308.7 151.8Q308.6 151.0 308.3 150.2Q308.0 149.5 307.6 148.7Q307.3 148.0 306.8 147.4Q306.3 146.7 305.8 146.2Q305.2 145.6 304.6 145.1Q304.0 144.6 303.4 144.1Q302.8 143.6 302.3 142.9Q301.8 142.3 301.2 141.8Q300.7 141.4 300.8 140.6Q301.0 139.8 301.7 139.6Q302.5 139.3 303.2 139.4Q303.9 139.5 304.6 139.9Q305.3 140.3 305.8 141.0Q306.3 141.6 306.7 142.3Q307.0 143.0 307.2 143.8Q307.3 144.6 307.3 145.5Q307.2 146.3 307.0 147.1Q306.8 147.9 306.3 148.5Q305.8 149.2 305.2 149.6Q304.5 150.0 303.8 150.2Q303.0 150.3 302.3 150.2Q301.5 150.1 300.8 149.9Q300.1 149.6 299.8 148.9Q299.6 148.1 299.7 147.3Q299.9 146.5 300.2 145.8Q300.5 145.0 301.0 144.4Q301.5 143.7 302.1 143.3Q302.8 142.9 303.5 142.7Q304.2 142.5 305.0 142.5Q305.7 142.5 306.5 142.7Q307.2 142.9 307.8 143.4Q308.4 143.9 308.8 144.6Q309.3 145.3 309.6 146.0Q309.9 146.8 309.9 147.6Q310.0 148.4 309.9 149.2Q309.7 150.1 309.4 150.8Q309.1 151.6 308.7 152.3Q308.3 153.0 307.7 153.5Q307.2 154.1 306.5 154.6Q305.9 155.0 305.2 155.3Q304.5 155.6 303.8 155.9Q303.1 156.2 302.4 156.4Q301.6 156.7 301.0 156.2Q300.4 155.8 300.2 155.0Q299.9 154.2 299.9 153.4Q299.9 152.6 300.0 151.8Q300.1 150.9 300.2 150.1Q300.3 149.3 300.2 148.5Q300.2 147.6 299.9 146.8Q299.7 146.1 299.9 145.3Q300.1 144.5 300.4 143.7Q300.8 143.0 301.2 142.3Q301.6 141.5 302.0 140.8Q302.4 140.1 302.8 139.5Q303.3 138.8 303.7 138.1Q304.2 137.5 304.8 137.0Q305.4 136.5 306.1 136.6Q306.9 136.6 307.5 136.9Q308.2 137.3 308.7 137.9Q309.2 138.5 309.5 139.3Q309.9 140.0 310.1 140.8Q310.3 141.6 310.4 142.5Q310.5 143.3 310.5 144.1Q310.5 144.9 310.3 145.8Q310.2 146.6 309.9 147.3Q309.6 148.1 309.2 148.8Q308.8 149.5 308.4 150.2Q308.0 150.9 307.6 151.6Q307.2 152.3 306.9 153.1Q306.5 153.8 306.0 154.5Q305.6 155.2 305.2 155.9Q304.8 156.6 304.5 157.3Q304.2 158.1 303.9 158.8Q303.6 159.6 303.9 160.4Q304.2 161.2 304.6 161.8Q305.0 162.5 305.6 163.1Q306.1 163.7 306.7 164.1Q307.4 164.4 308.1 164.3Q308.9 164.3 309.6 163.9Q310.3 163.6 310.9 163.2Q311.6 162.7 312.2 162.2Q312.8 161.8 313.4 161.2Q313.9 160.7 314.4 160.0Q314.9 159.4 315.5 158.8Q316.0 158.2 316.6 157.7Q317.2 157.2 317.8 156.8Q318.5 156.3 319.2 156.1Q319.9 156.0 320.7 155.9Q321.4 155.9 322.2 156.1Q322.9 156.2 323.7 156.4Q324.4 156.6 325.1 156.6Q325.9 156.6 326.5 156.1Q327.1 155.7 327.5 155.0Q328.0 154.3 328.3 153.6Q328.6 152.8 328.9 152.0Q329.1 151.3 329.4 150.5Q329.7 149.7 330.1 149.0Q330.4 148.3 330.9 147.6Q331.3 146.9 331.8 146.2Q332.2 145.6 332.8 145.0Q333.3 144.4 333.8 143.8Q334.4 143.3 335.0 142.8Q335.6 142.3 336.3 142.0Q337.0 141.6 337.4 140.9Q337.8 140.2 338.0 139.4Q338.3 138.6 338.5 137.8Q338.6 137.0 338.7 136.2Q338.7 135.3 338.5 134.5Q338.4 133.7 338.1 132.9Q337.8 132.2 337.1 131.9Q336.4 131.6 335.7 131.6Q334.9 131.7 334.2 132.0Q333.5 132.4 333.0 132.9Q332.4 133.4 331.9 134.1Q331.5 134.7 331.2 135.5Q330.9 136.3 330.8 137.1Q330.8 137.9 330.9 138.7Q331.1 139.5 331.4 140.3Q331.8 141.0 332.4 141.5Q332.9 142.1 333.6 142.4Q334.3 142.7 335.1 142.8Q335.8 142.9 336.4 143.4Q336.9 144.0 337.2 144.7Q337.5 145.5 337.5 146.3Q337.6 147.2 337.3 147.9Q336.9 148.6 336.4 149.1Q335.8 149.7 335.1 150.1Q334.5 150.5 333.8 150.8Q333.0 151.0 332.3 151.3Q331.6 151.5 330.9 151.7Q330.1 152.0 329.5 152.3Q328.8 152.7 328.1 153.1Q327.5 153.5 326.8 153.9Q326.1 154.3 325.5 154.8Q324.9 155.2 324.3 155.8Q323.7 156.3 323.2 156.9Q322.7 157.5 322.2 158.2Q321.8 158.9 321.4 159.6Q321.0 160.3 320.7 161.0Q320.4 161.8 320.2 162.6Q320.0 163.4 319.4 163.8Q318.7 164.3 318.0 164.3Q317.2 164.3 316.6 163.9Q316.0 163.4 315.6 162.7Q315.2 162.0 315.1 161.2Q315.0 160.4 315.1 159.5Q315.2 158.7 315.5 157.9Q315.8 157.2 316.2 156.5Q316.7 155.9 317.3 155.4Q317.9 154.9 318.6 154.5Q319.3 154.2 320.0 154.1Q320.8 154.0 321.5 154.2Q322.2 154.4 322.9 154.8Q323.6 155.2 324.0 155.9Q324.5 156.5 324.7 157.3Q324.9 158.1 324.6 158.8Q324.2 159.5 323.5 159.9Q322.9 160.3 322.1 160.3Q321.4 160.3 320.7 160.0Q320.0 159.7 319.5 159.1Q318.9 158.5 318.5 157.8Q318.2 157.1 317.9 156.3Q317.7 155.5 317.6 154.7Q317.5 153.8 317.6 153.0Q317.7 152.2 317.9 151.4Q318.2 150.6 318.6 149.9Q319.0 149.2 319.5 148.6Q320.0 148.0 320.6 147.5Q321.2 147.0 321.9 146.8Q322.7 146.6 323.4 146.6Q324.2 146.6 324.9 146.8Q325.6 147.1 326.3 147.5Q326.9 147.9 327.5 148.4Q328.1 148.9 328.7 149.5Q329.3 150.0 329.9 150.5Q330.5 151.0 330.6 151.7Q330.6 152.5 330.0 153.0Q329.4 153.5 328.7 153.6Q327.9 153.8 327.2 153.6Q326.4 153.5 325.8 153.1Q325.1 152.8 324.4 152.3Q323.8 151.9 323.2 151.4Q322.6 150.8 322.1 150.2Q321.6 149.6 321.1 149.0Q320.6 148.4 320.1 147.7Q319.7 147.1 319.3 146.4Q318.8 145.7 318.4 145.0Q318.0 144.3 317.6 143.5Q317.3 142.8 317.0 142.0Q316.7 141.3 316.5 140.5Q316.3 139.7 316.2 138.9Q316.1 138.0 316.2 137.2Q316.3 136.4 316.5 135.6Q316.8 134.8 317.2 134.1Q317.6 133.4 318.1 132.8Q318.7 132.2 319.3 131.8Q319.9 131.3 320.6 130.9Q321.2 130.5 322.0 130.4Q322.7 130.2 323.3 130.6Q324.0 131.0 324.4 131.7Q324.8 132.4 324.9 133.2Q325.1 134.0 325.1 134.9Q325.1 135.7 325.0 136.5Q325.0 137.3 324.8 138.2Q324.7 139.0 324.4 139.8Q324.2 140.6 323.9 141.3Q323.7 142.1 323.3 142.9Q323.0 143.6 322.6 144.3Q322.3 145.1 322.0 145.8Q321.6 146.6 321.3 147.3Q321.0 148.1 320.7 148.8Q320.4 149.6 320.1 150.3Q319.7 151.1 319.4 151.8Q319.1 152.6 318.9 153.4Q318.6 154.2 318.4 155.0Q318.2 155.8 318.0 156.6Q317.8 157.4 317.6 158.2Q317.5 159.0 317.3 159.8Q317.1 160.6 316.8 161.4Q316.6 162.2 316.3 162.9Q315.9 163.7 315.5 164.4Q315.1 165.0 314.4 165.3Q313.6 165.5 312.9 165.4Q312.1 165.4 311.4 165.1Q310.7 164.8 310.0 164.4Q309.4 164.0 308.8 163.5Q308.2 163.0 307.6 162.5Q307.0 162.0 306.4 161.5Q305.8 161.0 305.2 160.5Q304.6 160.0 304.0 159.5Q303.4 159.0 302.8 158.5Q302.2 158.0 301.5 157.5Q300.9 157.0 300.7 156.2Q300.5 155.4 300.4 154.6Q300.4 153.8 300.5 152.9Q300.7 152.1 301.0 151.4Q301.3 150.6 301.7 149.9Q302.1 149.2 302.5 148.5Q302.9 147.8 303.5 147.2Q304.0 146.6 304.6 146.1Q305.2 145.6 305.8 145.2Q306.5 144.8 307.2 144.5Q307.9 144.2 308.6 144.0Q309.4 143.8 310.1 143.6Q310.9 143.5 311.6 143.4Q312.4 143.3 313.1 143.1Q313.9 143.0 314.6 143.0Q315.4 142.9 316.1 143.1Q316.9 143.2 317.6 143.5Q318.3 143.8 318.9 144.3Q319.5 144.7 320.1 145.2Q320.7 145.7 321.3 146.3Q321.8 146.9 322.2 147.6Q322.6 148.3 322.8 149.1Q323.1 149.9 323.1 150.7Q323.1 151.5 322.9 152.3Q322.7 153.1 322.3 153.8Q321.9 154.5 321.3 155.1Q320.8 155.6 320.1 156.0Q319.4 156.4 318.7 156.6Q318.0 156.9 317.2 157.0Q316.5 157.1 315.7 157.0Q315.0 156.9 314.2 156.7Q313.5 156.4 312.9 155.9Q312.3 155.4 311.9 154.7Q311.4 154.1 311.1 153.3Q310.9 152.5 310.7 151.7Q310.5 150.9 310.4 150.1Q310.3 149.3 310.4 148.4Q310.5 147.6 310.8 146.8Q311.1 146.1 311.5 145.4Q312.0 144.7 312.6 144.2Q313.2 143.7 313.9 143.4Q314.6 143.1 315.3 143.1" fill="none" stroke="#a9a7a7" stroke-width="1.45" stroke-linecap="round" stroke-linejoin="round"/>
<path d="M455.2 103.3Q455.0 105.0 454.8 105.7Q454.5 106.5 454.0 107.1Q453.5 107.7 452.8 107.9Q452.0 108.2 451.3 108.0Q450.5 107.9 449.9 107.4Q449.3 106.9 448.8 106.2Q448.4 105.6 448.4 104.7Q448.3 103.9 448.6 103.2Q448.9 102.4 449.5 101.9Q450.1 101.4 450.8 101.3Q451.6 101.1 452.3 101.3Q453.1 101.5 453.7 102.0Q454.3 102.5 454.7 103.2Q455.0 103.9 455.1 104.8Q455.1 105.6 454.8 106.3Q454.5 107.1 454.0 107.7Q453.5 108.3 452.8 108.8Q452.2 109.3 451.5 109.6Q450.8 110.0 450.1 110.3Q449.4 110.6 448.7 110.9Q448.0 111.3 447.3 111.4Q446.5 111.5 446.0 110.9Q445.5 110.3 445.3 109.5Q445.1 108.7 445.2 107.8Q445.2 107.0 445.4 106.2Q445.6 105.4 446.0 104.7Q446.3 103.9 446.6 103.2Q447.0 102.5 447.4 101.7Q447.8 101.0 448.1 100.3Q448.5 99.6 448.9 98.8Q449.3 98.1 449.7 97.4Q450.0 96.7 450.4 95.9Q450.7 95.2 451.0 94.4Q451.3 93.7 451.6 92.9Q451.9 92.1 452.2 91.4Q452.5 90.6 452.8 89.8Q453.1 89.1 453.5 88.3Q453.8 87.6 454.5 87.2Q455.2 86.9 455.9 86.9Q456.7 86.9 457.4 87.3Q458.1 87.6 458.6 88.2Q459.1 88.9 459.3 89.7Q459.5 90.5 459.3 91.3Q459.2 92.1 458.8 92.8Q458.4 93.5 457.9 94.1Q457.3 94.6 456.5 94.9Q455.8 95.1 455.1 95.1Q454.3 95.2 453.5 95.0Q452.8 94.8 452.1 94.4Q451.4 94.1 450.9 93.5Q450.3 92.9 450.0 92.1Q449.8 91.4 449.7 90.5Q449.6 89.7 450.1 89.1Q450.6 88.4 451.3 88.1Q452.0 87.8 452.8 88.0Q453.5 88.1 454.1 88.6Q454.8 89.0 455.2 89.7Q455.7 90.4 456.0 91.1Q456.4 91.9 456.6 92.6Q456.8 93.4 456.9 94.3Q457.0 95.1 457.0 95.9Q456.9 96.7 456.7 97.6Q456.6 98.4 456.3 99.2Q456.1 99.9 455.7 100.7Q455.4 101.5 455.1 102.2Q454.7 102.9 454.3 103.6Q453.9 104.3 453.4 104.9Q452.8 105.5 452.3 106.1Q451.7 106.7 451.1 107.2Q450.5 107.7 449.8 108.1Q449.1 108.5 448.4 108.7Q447.7 109.0 446.9 109.2Q446.2 109.4 445.6 108.9Q445.0 108.4 444.9 107.6Q444.7 106.8 444.9 106.0Q445.1 105.2 445.6 104.5Q446.0 103.8 446.6 103.4Q447.3 102.9 448.0 102.7Q448.8 102.5 449.5 102.5Q450.3 102.6 451.0 102.9Q451.7 103.2 452.2 103.8Q452.8 104.4 453.0 105.2Q453.3 105.9 453.2 106.8Q453.1 107.6 452.7 108.3Q452.2 109.0 451.6 109.4Q450.9 109.8 450.2 110.0Q449.4 110.1 448.7 110.0Q447.9 109.8 447.3 109.4Q446.6 109.0 446.2 108.3Q445.7 107.6 445.5 106.8Q445.2 106.1 445.0 105.2Q444.9 104.4 444.9 103.6Q444.9 102.8 445.0 102.0Q445.2 101.1 445.5 100.4Q445.7 99.6 446.1 98.9Q446.5 98.2 447.0 97.6Q447.6 96.9 448.2 96.5Q448.8 96.0 449.5 95.7Q450.2 95.3 451.0 95.1Q451.7 94.9 452.5 94.8Q453.3 94.7 454.0 94.6Q454.8 94.5 455.5 94.3Q456.3 94.1 457.0 93.8Q457.7 93.5 458.3 93.0Q459.0 92.5 459.5 91.9Q460.0 91.3 460.4 90.6Q460.8 89.9 461.0 89.1Q461.2 88.3 461.1 87.5Q461.0 86.7 460.5 86.0Q460.0 85.4 459.3 85.3Q458.5 85.2 457.7 85.2Q457.0 85.2 456.2 85.3Q455.4 85.4 454.7 85.5Q453.9 85.7 453.2 85.9Q452.4 86.1 451.7 86.4Q451.0 86.7 450.5 87.3Q450.1 88.0 449.9 88.8Q449.7 89.6 449.7 90.5Q449.8 91.3 450.0 92.1Q450.3 92.8 450.8 93.5Q451.3 94.1 452.0 94.5Q452.6 95.0 453.4 95.2Q454.1 95.4 454.9 95.3Q455.6 95.3 456.4 95.0Q457.1 94.8 457.8 94.5Q458.5 94.1 459.2 93.7Q459.8 93.2 460.3 92.6Q460.9 92.0 461.3 91.4Q461.8 90.7 462.1 89.9Q462.5 89.2 462.8 88.4Q463.1 87.7 463.4 86.9Q463.7 86.1 463.9 85.3Q464.0 84.5 463.9 83.8Q463.7 83.0 463.0 82.8Q462.3 82.7 461.6 83.0Q460.9 83.4 460.3 83.9Q459.7 84.4 459.2 85.1Q458.8 85.8 458.6 86.6Q458.3 87.3 458.3 88.2Q458.2 89.0 458.4 89.8Q458.5 90.6 458.8 91.4Q459.1 92.2 459.4 92.9Q459.8 93.6 460.1 94.4Q460.5 95.1 460.9 95.8Q461.3 96.6 461.7 97.3Q462.1 98.0 462.6 98.6Q463.0 99.3 463.5 99.9Q464.0 100.6 464.4 101.3Q464.8 102.0 465.2 102.7Q465.5 103.5 465.7 104.3Q466.0 105.1 466.0 105.9Q466.1 106.7 466.0 107.5Q465.8 108.3 465.5 109.1Q465.2 109.8 464.7 110.5Q464.2 111.1 463.5 111.5Q462.9 111.9 462.1 112.0Q461.4 112.1 460.6 111.9Q459.9 111.8 459.2 111.4Q458.5 111.0 457.9 110.4Q457.4 109.9 457.0 109.2Q456.5 108.5 456.3 107.7Q456.1 106.9 456.1 106.0Q456.1 105.2 456.1 104.4Q456.1 103.5 456.1 102.7Q456.0 101.9 455.9 101.1Q455.9 100.2 455.7 99.4Q455.5 98.6 455.1 97.9Q454.7 97.2 454.1 96.6Q453.6 96.0 452.9 95.6Q452.3 95.2 451.6 94.9Q450.8 94.6 450.1 94.6Q449.3 94.6 448.5 94.8Q447.8 95.0 447.1 95.3Q446.4 95.7 445.8 96.2Q445.3 96.8 444.8 97.5Q444.4 98.2 444.3 99.0Q444.1 99.8 444.1 100.6Q444.1 101.4 444.4 102.2Q444.6 103.0 445.0 103.7Q445.4 104.4 445.9 105.0Q446.5 105.6 447.1 106.1Q447.8 106.5 448.4 106.9Q449.1 107.3 449.8 107.6Q450.5 108.0 451.2 108.5Q451.8 108.9 452.4 109.5Q452.9 110.1 453.3 110.8Q453.7 111.5 453.9 112.3Q454.1 113.1 454.1 113.9Q454.0 114.7 453.6 115.4Q453.2 116.0 452.4 116.0Q451.6 116.0 450.9 115.8Q450.2 115.5 449.5 115.2Q448.8 114.8 448.1 114.4Q447.5 114.0 447.2 113.2Q446.9 112.4 446.8 111.6Q446.7 110.8 446.9 110.0Q447.0 109.1 447.3 108.4Q447.6 107.6 448.0 107.0Q448.5 106.3 449.0 105.7Q449.5 105.0 450.0 104.4Q450.5 103.8 450.9 103.1Q451.4 102.4 451.9 101.8Q452.3 101.1 452.8 100.4Q453.3 99.8 453.8 99.2Q454.4 98.7 455.1 98.2Q455.7 97.8 456.4 97.4Q457.1 97.1 457.9 96.9Q458.6 96.7 459.4 96.6Q460.1 96.6 460.9 96.7Q461.7 96.8 462.4 97.0Q463.2 97.1 463.9 97.4Q464.6 97.7 465.2 98.2Q465.9 98.7 466.4 99.3Q466.9 99.8 467.4 100.5Q468.0 101.1 468.4 101.7Q468.9 102.4 469.2 103.1Q469.6 103.9 469.8 104.7Q469.9 105.5 469.8 106.3Q469.8 107.2 469.5 107.9Q469.3 108.7 469.0 109.5Q468.7 110.3 468.4 111.0Q468.0 111.7 467.6 112.4Q467.2 113.1 466.7 113.8Q466.3 114.5 465.7 115.0Q465.1 115.5 464.4 115.5Q463.6 115.5 462.9 115.3Q462.1 115.0 461.5 114.5Q460.9 114.0 460.5 113.3Q460.1 112.6 460.0 111.8Q460.0 110.9 460.3 110.2Q460.6 109.4 461.1 108.8Q461.7 108.2 462.3 107.9Q463.0 107.5 463.8 107.3Q464.5 107.1 465.3 107.2Q466.0 107.2 466.7 107.5Q467.5 107.8 468.0 108.4Q468.6 108.9 468.8 109.7Q469.0 110.5 468.6 111.2Q468.3 112.0 467.7 112.5Q467.1 113.0 466.4 113.2Q465.6 113.4 464.9 113.2Q464.1 113.0 463.5 112.5Q462.9 112.0 462.6 111.3Q462.2 110.6 462.0 109.7Q461.8 108.9 461.9 108.1Q461.9 107.3 462.2 106.5Q462.5 105.7 463.0 105.1Q463.4 104.4 464.0 103.9Q464.6 103.4 465.4 103.1Q466.1 102.8 466.8 102.8Q467.6 102.7 468.3 102.9Q469.1 103.2 469.7 103.6Q470.4 104.0 470.9 104.6Q471.4 105.2 471.7 106.0Q471.9 106.7 471.5 107.4Q471.0 108.0 470.4 108.5Q469.7 109.0 469.0 109.2Q468.3 109.4 467.5 109.4Q466.7 109.4 466.0 109.3Q465.2 109.2 464.5 109.0Q463.7 108.8 463.0 108.6Q462.2 108.4 461.5 108.2Q460.7 108.1 459.9 108.1Q459.2 108.0 458.4 108.1Q457.6 108.2 456.9 108.3Q456.1 108.5 455.4 108.8Q454.7 109.1 454.0 109.5Q453.4 109.9 452.7 110.4Q452.1 110.9 451.6 111.5Q451.1 112.1 450.6 112.8Q450.2 113.5 449.5 113.5Q448.7 113.5 448.1 113.1Q447.4 112.7 446.9 112.1Q446.3 111.5 446.0 110.8Q445.6 110.0 445.5 109.2Q445.3 108.4 445.3 107.6Q445.3 106.7 445.4 105.9Q445.5 105.1 445.6 104.3Q445.7 103.5 445.8 102.6Q445.9 101.8 446.0 101.0Q446.1 100.2 446.4 99.4Q446.6 98.6 447.0 97.9Q447.4 97.1 447.8 96.5Q448.3 95.8 448.8 95.2Q449.3 94.6 449.7 93.8Q450.1 93.1 450.4 92.4Q450.6 91.6 450.6 90.8Q450.6 89.9 450.6 89.1Q450.5 88.3 451.1 87.8Q451.7 87.3 452.4 87.0Q453.1 86.7 453.9 86.6Q454.6 86.4 455.4 86.3Q456.2 86.3 457.0 86.2Q457.7 86.2 458.5 86.1Q459.3 86.0 460.0 85.9Q460.8 85.7 461.5 85.4Q462.2 85.1 462.8 84.7Q463.5 84.2 464.0 83.6Q464.6 83.0 465.1 82.5Q465.7 82.0 466.5 81.9Q467.2 81.8 468.0 81.9Q468.7 82.0 469.5 82.2Q470.2 82.5 470.8 82.9Q471.5 83.4 472.0 84.0Q472.6 84.5 473.0 85.2Q473.5 85.9 473.7 86.7Q474.0 87.5 474.1 88.3Q474.1 89.1 474.0 89.9Q473.9 90.8 473.7 91.6Q473.5 92.4 473.3 93.1Q473.0 93.9 472.7 94.7Q472.4 95.4 472.0 96.2Q471.6 96.9 471.0 97.4Q470.5 98.0 469.9 98.5Q469.2 98.9 468.5 99.2Q467.8 99.5 467.0 99.6Q466.3 99.7 465.5 99.6Q464.7 99.4 464.1 99.1Q463.4 98.7 462.8 98.1Q462.3 97.5 461.9 96.8Q461.6 96.0 461.4 95.2Q461.2 94.4 461.3 93.6Q461.3 92.8 461.4 91.9Q461.6 91.1 461.9 90.4Q462.2 89.6 462.6 88.9Q462.9 88.1 463.2 87.4Q463.5 86.6 463.7 85.8Q464.0 85.0 464.1 84.2Q464.2 83.4 463.7 82.8Q463.2 82.2 462.5 82.6Q461.8 82.9 461.5 83.6Q461.1 84.3 461.0 85.1Q460.9 85.9 461.0 86.7Q461.2 87.6 461.5 88.3Q461.8 89.1 462.2 89.8Q462.6 90.5 463.0 91.2Q463.5 91.9 463.9 92.6Q464.3 93.2 464.7 94.0Q465.0 94.7 465.2 95.5Q465.3 96.3 465.3 97.2Q465.2 98.0 464.8 98.7Q464.5 99.5 463.9 100.0Q463.3 100.5 462.6 100.8Q461.8 101.0 461.1 100.9Q460.3 100.8 459.6 100.4Q459.0 100.0 458.6 99.3Q458.1 98.6 458.1 97.8Q458.0 97.0 458.3 96.2Q458.7 95.5 459.3 95.1Q460.0 94.6 460.7 94.6Q461.5 94.7 462.1 95.2Q462.7 95.7 463.0 96.4Q463.3 97.2 463.3 98.0Q463.3 98.8 463.1 99.6Q462.8 100.4 462.3 101.1Q461.9 101.7 461.2 102.2Q460.6 102.6 459.8 102.8Q459.1 103.0 458.3 103.0Q457.6 103.0 456.9 102.7Q456.1 102.4 455.5 101.9Q454.9 101.4 454.4 100.8Q454.0 100.1 453.7 99.3Q453.5 98.5 453.4 97.7Q453.3 96.9 453.4 96.0Q453.5 95.2 453.6 94.4Q453.7 93.6 453.8 92.7Q453.9 91.9 453.9 91.1Q453.9 90.3 453.8 89.4Q453.8 88.6 453.4 87.9Q453.1 87.2 452.3 87.3Q451.6 87.4 451.0 88.0Q450.5 88.6 450.2 89.3Q449.9 90.1 450.0 90.9Q450.0 91.7 450.4 92.4Q450.8 93.2 451.4 93.6Q452.0 94.1 452.8 94.3Q453.5 94.5 454.3 94.3Q455.0 94.1 455.7 93.7Q456.3 93.3 456.8 92.6Q457.3 92.0 457.7 91.3Q458.0 90.5 458.2 89.7Q458.4 88.9 458.4 88.1Q458.5 87.2 458.2 86.5Q457.9 85.8 457.1 85.8Q456.4 85.8 455.8 86.4Q455.3 86.9 455.0 87.7Q454.7 88.5 454.7 89.3Q454.7 90.1 455.0 90.9Q455.2 91.7 455.7 92.3Q456.3 92.9 457.0 93.2Q457.7 93.6 458.4 93.8Q459.2 93.9 459.9 93.9Q460.7 93.9 461.4 93.7Q462.2 93.5 462.8 93.0Q463.5 92.6 463.9 91.9Q464.4 91.3 464.6 90.5Q464.8 89.7 464.8 88.9Q464.7 88.1 464.4 87.3Q464.0 86.6 463.5 86.0Q462.9 85.4 462.3 85.1Q461.6 84.7 460.8 84.8Q460.1 84.9 459.6 85.5Q459.1 86.1 458.9 86.9Q458.7 87.7 458.8 88.5Q458.9 89.3 459.3 90.0Q459.7 90.7 460.3 91.3Q460.8 91.9 461.4 92.4Q462.1 92.9 462.8 93.2Q463.5 93.5 464.2 93.8Q464.9 94.1 465.7 94.3Q466.4 94.5 467.2 94.7Q467.9 94.8 468.7 95.0Q469.4 95.1 470.2 95.2Q471.0 95.2 471.7 95.2Q472.5 95.1 473.2 94.9Q474.0 94.7 474.7 94.4Q475.4 94.0 476.0 93.5Q476.6 93.0 477.0 92.3Q477.5 91.7 477.9 91.0Q478.3 90.2 478.6 89.5Q479.0 88.7 479.3 88.0Q479.5 87.2 479.8 86.4Q480.1 85.7 480.5 84.9Q480.9 84.2 480.6 83.5Q480.4 82.7 479.6 82.5Q478.9 82.3 478.1 82.3Q477.4 82.3 476.6 82.3Q475.8 82.3 475.1 82.3Q474.3 82.2 473.5 82.0Q472.8 81.8 472.1 81.8Q471.3 81.7 470.6 82.1Q469.9 82.4 469.4 83.0Q468.8 83.6 468.5 84.3Q468.2 85.1 468.2 85.9Q468.2 86.7 468.5 87.5Q468.8 88.3 469.3 88.8Q469.8 89.4 470.5 89.7Q471.3 90.0 472.0 90.0Q472.8 90.0 473.5 89.7Q474.2 89.5 474.8 88.9Q475.4 88.4 475.9 87.8Q476.3 87.1 476.5 86.3Q476.7 85.5 476.7 84.6Q476.7 83.8 476.3 83.1Q476.0 82.4 475.3 82.0Q474.6 81.7 473.9 81.8Q473.1 81.9 472.4 82.3Q471.8 82.7 471.4 83.4Q471.0 84.1 470.9 84.9Q470.9 85.7 471.2 86.5Q471.5 87.2 472.2 87.7Q472.8 88.1 473.5 88.3Q474.3 88.5 475.0 88.3Q475.8 88.1 476.4 87.6Q477.0 87.1 477.5 86.4Q477.9 85.7 478.1 85.0Q478.3 84.2 478.2 83.4Q478.0 82.6 477.3 82.3Q476.6 82.0 475.8 82.1Q475.0 82.1 474.3 82.3Q473.6 82.6 472.9 83.0Q472.2 83.4 471.6 83.9Q471.0 84.4 470.3 84.8Q469.7 85.3 469.1 85.7Q468.4 86.2 467.8 86.7Q467.2 87.2 466.6 87.8Q466.0 88.3 465.5 88.9Q464.9 89.4 464.4 90.0Q463.8 90.6 463.4 91.3Q462.9 91.9 462.5 92.7Q462.2 93.4 461.9 94.2Q461.6 95.0 461.5 95.8Q461.3 96.6 461.3 97.4Q461.2 98.3 461.2 99.1Q461.2 99.9 461.4 100.7Q461.5 101.5 461.9 102.3Q462.2 103.1 462.6 103.7Q463.1 104.4 463.6 105.0Q464.2 105.6 464.8 106.0Q465.4 106.5 466.1 106.9Q466.8 107.2 467.6 107.4Q468.3 107.6 469.1 107.6Q469.8 107.6 470.6 107.4Q471.4 107.3 472.1 107.0Q472.8 106.7 473.5 106.3Q474.2 105.9 474.8 105.5Q475.5 105.0 476.1 104.6Q476.7 104.1 477.4 103.6Q478.0 103.2 478.7 102.9Q479.4 102.5 480.1 102.2Q480.7 101.8 481.1 101.1Q481.5 100.4 481.9 99.6Q482.2 98.9 481.9 98.1Q481.7 97.3 481.4 96.5Q481.0 95.8 480.6 95.1Q480.2 94.4 479.6 93.9Q479.0 93.3 478.3 92.9Q477.6 92.5 476.9 92.3Q476.2 92.1 475.4 92.2Q474.6 92.2 473.9 92.5Q473.2 92.7 472.5 93.2Q471.9 93.7 471.4 94.3Q470.9 94.9 470.6 95.7Q470.3 96.5 470.3 97.3Q470.2 98.1 470.3 98.9Q470.5 99.7 470.8 100.5Q471.1 101.3 471.6 101.9Q472.0 102.6 472.6 103.2Q473.1 103.7 473.6 104.4Q474.0 105.0 473.6 105.7Q473.1 106.3 472.4 106.7Q471.8 107.0 471.0 107.2Q470.2 107.3 469.5 107.3Q468.7 107.3 468.0 107.0Q467.2 106.8 466.5 106.4Q465.8 106.1 465.2 105.7Q464.5 105.3 463.8 104.9Q463.2 104.5 462.5 104.0Q461.8 103.6 461.2 103.1Q460.6 102.7 459.9 102.2Q459.3 101.8 458.6 101.4Q457.9 101.1 457.1 100.9Q456.4 100.8 455.6 100.9Q454.8 100.9 454.1 101.2Q453.4 101.4 452.7 101.9Q452.1 102.3 451.6 102.9Q451.1 103.6 450.8 104.4Q450.6 105.1 450.7 106.0Q450.7 106.8 451.1 107.5Q451.4 108.2 452.0 108.8Q452.6 109.3 453.4 109.5Q454.1 109.7 454.9 109.6Q455.6 109.5 456.3 109.1Q457.0 108.7 457.5 108.1Q458.0 107.5 458.3 106.7Q458.6 106.0 458.8 105.2Q458.9 104.3 458.8 103.5Q458.8 102.7 458.6 101.9Q458.5 101.1 458.2 100.3Q457.9 99.5 457.6 98.8Q457.2 98.0 456.8 97.3Q456.4 96.7 455.8 96.1Q455.2 95.5 454.6 95.1Q454.0 94.6 453.3 94.2Q452.6 93.8 452.0 93.3Q451.4 92.8 450.8 92.3Q450.1 91.8 449.5 91.3Q448.9 90.8 448.2 91.0Q447.5 91.1 447.0 91.7Q446.4 92.3 446.1 93.1Q445.8 93.8 445.6 94.6Q445.5 95.4 445.4 96.3Q445.4 97.1 445.4 97.9Q445.4 98.7 445.5 99.6Q445.6 100.4 445.7 101.2Q445.8 102.0 446.1 102.8Q446.3 103.6 446.6 104.4Q446.8 105.2 447.2 105.9Q447.5 106.7 447.8 107.4Q448.2 108.2 448.6 108.9Q449.0 109.6 449.4 110.3Q449.7 111.0 450.0 111.8Q450.3 112.6 450.4 113.4Q450.6 114.2 451.1 114.8Q451.7 115.3 452.4 115.6Q453.1 115.9 453.9 116.0Q454.7 116.1 455.4 116.1Q456.2 116.1 456.9 115.9Q457.7 115.7 458.4 115.4Q459.1 115.1 459.8 114.7Q460.4 114.2 461.1 113.8Q461.7 113.4 462.4 112.9Q463.0 112.4 463.6 111.9Q464.2 111.4 464.8 110.8Q465.4 110.3 466.0 109.8Q466.6 109.3 467.3 108.9Q467.9 108.4 468.6 108.1Q469.3 107.8 470.1 107.6Q470.8 107.5 471.5 107.2Q472.2 107.0 472.7 106.3Q473.2 105.7 473.4 104.9Q473.6 104.1 473.6 103.3Q473.6 102.4 473.3 101.7Q473.0 100.9 472.5 100.3Q472.0 99.6 471.4 99.2Q470.8 98.7 470.1 98.3Q469.4 98.0 468.6 97.7Q467.9 97.5 467.2 97.4Q466.4 97.3 465.6 97.3Q464.9 97.4 464.1 97.6Q463.4 97.8 462.7 98.1Q461.9 98.4 461.3 98.8Q460.6 99.2 459.9 99.5Q459.2 99.9 458.5 100.2Q457.8 100.5 457.0 100.7Q456.3 101.0 455.5 101.1Q454.8 101.3 454.0 101.3Q453.2 101.4 452.5 101.5Q451.7 101.5 450.9 101.5Q450.2 101.5 449.4 101.4Q448.6 101.3 447.9 101.2Q447.1 101.2 446.3 101.1Q445.6 101.0 444.8 100.9Q444.0 100.8 443.5 101.4Q443.0 102.0 443.2 102.7Q443.4 103.5 443.9 104.2Q444.5 104.8 445.1 105.1Q445.8 105.5 446.6 105.6Q447.4 105.6 448.1 105.5Q448.9 105.4 449.6 105.2Q450.4 104.9 451.1 104.6Q451.8 104.2 452.4 103.8Q453.0 103.3 453.6 102.8Q454.2 102.2 454.7 101.6Q455.2 100.9 455.5 100.2Q455.8 99.4 455.8 98.6Q455.8 97.8 455.5 97.0Q455.2 96.3 454.7 95.6Q454.2 95.0 453.5 94.6Q452.8 94.2 452.1 94.2Q451.3 94.2 450.6 94.4Q449.8 94.7 449.3 95.2Q448.7 95.7 448.3 96.5Q447.9 97.2 447.7 98.0Q447.5 98.8 447.5 99.6Q447.4 100.4 447.4 101.3Q447.4 102.1 447.6 102.9Q447.7 103.7 447.9 104.5Q448.1 105.3 448.4 106.1Q448.6 106.9 448.9 107.7Q449.2 108.4 449.5 109.2Q449.8 110.0 450.0 110.8Q450.3 111.5 450.6 112.3Q450.9 113.1 451.2 113.8Q451.5 114.6 452.0 115.2Q452.5 115.8 453.2 116.0Q453.9 116.3 454.7 116.1Q455.4 116.0 456.1 115.5Q456.7 115.0 457.0 114.3Q457.4 113.6 457.5 112.7Q457.6 111.9 457.4 111.1Q457.3 110.3 457.0 109.5Q456.6 108.8 456.1 108.2Q455.6 107.5 455.0 107.0Q454.4 106.5 453.8 106.1Q453.1 105.7 452.3 105.5Q451.6 105.3 450.8 105.2Q450.1 105.1 449.3 105.2Q448.5 105.2 447.8 105.4Q447.0 105.6 446.3 105.9Q445.6 106.3 444.9 106.5Q444.2 106.7 443.7 107.3Q443.3 107.9 443.6 108.6Q444.0 109.3 444.6 109.7Q445.3 110.2 446.0 110.3Q446.8 110.4 447.5 110.3Q448.3 110.2 449.0 109.9Q449.7 109.6 450.4 109.2Q451.1 108.8 451.6 108.2Q452.2 107.6 452.5 106.8Q452.8 106.1 452.8 105.3Q452.9 104.4 452.7 103.6Q452.6 102.8 452.3 102.0Q452.0 101.3 451.7 100.5Q451.3 99.8 450.8 99.2Q450.3 98.5 449.8 98.0Q449.2 97.4 448.6 96.9Q447.9 96.4 447.3 95.9Q446.8 95.4 446.3 94.7Q445.8 94.1 445.2 93.6Q444.6 93.2 444.8 92.4Q444.9 91.6 445.7 91.4Q446.4 91.1 447.2 91.2Q447.9 91.3 448.6 91.7Q449.3 92.1 449.8 92.8Q450.3 93.4 450.7 94.1Q451.0 94.8 451.2 95.6Q451.4 96.4 451.3 97.3Q451.3 98.1 451.0 98.9Q450.8 99.7 450.3 100.3Q449.8 101.0 449.2 101.4Q448.5 101.8 447.8 102.0Q447.0 102.1 446.2 102.0Q445.5 101.9 444.7 101.7Q444.0 101.4 443.8 100.7Q443.5 99.9 443.7 99.1Q443.8 98.3 444.1 97.6Q444.4 96.8 444.9 96.2Q445.4 95.5 446.1 95.1Q446.7 94.7 447.5 94.5Q448.2 94.3 449.0 94.3Q449.7 94.3 450.5 94.5Q451.2 94.7 451.8 95.2Q452.4 95.7 452.9 96.4Q453.4 97.1 453.6 97.8Q453.9 98.6 454.0 99.4Q454.1 100.2 453.9 101.0Q453.8 101.9 453.5 102.6Q453.1 103.4 452.7 104.1Q452.3 104.8 451.8 105.3Q451.2 105.9 450.6 106.4Q449.9 106.8 449.2 107.1Q448.5 107.4 447.8 107.7Q447.0 108.0 446.3 108.2Q445.6 108.5 445.0 108.0Q444.4 107.6 444.1 106.8Q443.8 106.0 443.8 105.2Q443.8 104.4 443.9 103.6Q444.0 102.7 444.1 101.9Q444.2 101.1 444.1 100.3Q444.1 99.4 443.8 98.6Q443.6 97.9 443.8 97.1Q444.0 96.3 444.4 95.5Q444.7 94.8 445.1 94.1Q445.5 93.3 445.9 92.6Q446.3 91.9 446.8 91.3Q447.2 90.6 447.7 89.9Q448.2 89.3 448.8 88.8Q449.3 88.3 450.1 88.4Q450.9 88.4 451.6 88.7Q452.3 89.1 452.8 89.7Q453.3 90.3 453.6 91.1Q453.9 91.8 454.1 92.6Q454.4 93.4 454.5 94.3Q454.6 95.1 454.6 95.9Q454.6 96.7 454.4 97.6Q454.3 98.4 453.9 99.1Q453.6 99.9 453.2 100.6Q452.8 101.3 452.4 102.0Q452.0 102.7 451.6 103.4Q451.3 104.1 450.9 104.9Q450.5 105.6 450.1 106.3Q449.6 107.0 449.2 107.7Q448.8 108.4 448.5 109.1Q448.1 109.9 447.9 110.6Q447.6 111.4 447.9 112.2Q448.1 113.0 448.6 113.6Q449.0 114.3 449.6 114.9Q450.1 115.5 450.8 115.9Q451.4 116.2 452.2 116.1Q452.9 116.1 453.6 115.7Q454.4 115.4 455.0 115.0Q455.6 114.5 456.3 114.0Q456.9 113.6 457.5 113.0Q458.0 112.5 458.6 111.8Q459.1 111.2 459.6 110.6Q460.1 110.0 460.7 109.5Q461.3 109.0 462.0 108.6Q462.7 108.1 463.4 107.9Q464.2 107.8 464.9 107.7Q465.7 107.7 466.4 107.9Q467.2 108.0 468.0 108.2Q468.7 108.4 469.4 108.4Q470.2 108.4 470.8 107.9Q471.4 107.5 471.9 106.8Q472.3 106.1 472.6 105.4Q473.0 104.6 473.2 103.8Q473.5 103.1 473.8 102.3Q474.1 101.5 474.4 100.8Q474.8 100.1 475.2 99.4Q475.7 98.7 476.2 98.0Q476.6 97.4 477.2 96.8Q477.7 96.2 478.3 95.6Q478.8 95.1 479.5 94.6Q480.1 94.1 480.8 93.8Q481.5 93.4 481.9 92.7Q482.3 92.0 482.5 91.2Q482.8 90.4 483.0 89.6Q483.1 88.8 483.2 88.0Q483.2 87.1 483.0 86.3Q482.9 85.5 482.6 84.7Q482.3 84.0 481.6 83.7Q480.9 83.4 480.1 83.4Q479.4 83.5 478.7 83.8Q478.0 84.2 477.4 84.7Q476.8 85.2 476.3 85.9Q475.8 86.5 475.6 87.3Q475.3 88.1 475.2 88.9Q475.1 89.7 475.3 90.5Q475.4 91.3 475.8 92.1Q476.2 92.8 476.8 93.3Q477.3 93.9 478.0 94.2Q478.8 94.5 479.5 94.6Q480.3 94.7 480.8 95.2Q481.4 95.8 481.7 96.5Q482.0 97.3 482.0 98.1Q482.0 99.0 481.7 99.7Q481.4 100.4 480.8 100.9Q480.3 101.5 479.6 101.9Q478.9 102.3 478.2 102.6Q477.5 102.8 476.7 103.1Q476.0 103.3 475.2 103.5Q474.5 103.8 473.8 104.1Q473.1 104.5 472.4 104.9Q471.8 105.3 471.1 105.7Q470.4 106.1 469.8 106.6Q469.2 107.0 468.6 107.6Q468.0 108.1 467.5 108.7Q466.9 109.3 466.5 110.0Q466.0 110.7 465.6 111.4Q465.3 112.1 465.0 112.8Q464.7 113.6 464.4 114.4Q464.2 115.2 463.6 115.6Q462.9 116.1 462.2 116.1Q461.4 116.1 460.8 115.7Q460.1 115.2 459.7 114.5Q459.4 113.8 459.2 113.0Q459.1 112.2 459.2 111.3Q459.3 110.5 459.6 109.7Q459.9 109.0 460.4 108.3Q460.8 107.7 461.5 107.2Q462.1 106.7 462.8 106.3Q463.5 106.0 464.2 105.9Q465.0 105.8 465.7 106.0Q466.5 106.2 467.2 106.6Q467.8 107.0 468.3 107.7Q468.8 108.3 469.0 109.1Q469.2 109.9 468.9 110.6Q468.5 111.3 467.8 111.7Q467.2 112.1 466.4 112.1Q465.6 112.1 464.9 111.8Q464.2 111.5 463.7 110.9Q463.1 110.3 462.7 109.6Q462.4 108.9 462.1 108.1Q461.9 107.3 461.8 106.5Q461.7 105.6 461.8 104.8Q461.8 104.0 462.1 103.2Q462.4 102.4 462.8 101.7Q463.2 101.0 463.7 100.4Q464.2 99.8 464.8 99.3Q465.5 98.8 466.2 98.6Q466.9 98.4 467.7 98.4Q468.5 98.4 469.2 98.6Q469.9 98.9 470.6 99.3Q471.2 99.7 471.9 100.2Q472.5 100.7 473.1 101.3Q473.6 101.8 474.3 102.3Q474.9 102.8 475.0 103.5Q475.0 104.3 474.4 104.8Q473.8 105.3 473.0 105.4Q472.3 105.6 471.5 105.4Q470.8 105.3 470.1 104.9Q469.4 104.6 468.7 104.1Q468.1 103.7 467.5 103.2Q466.9 102.6 466.4 102.0Q465.8 101.4 465.3 100.8Q464.8 100.2 464.4 99.5Q463.9 98.9 463.5 98.2Q463.0 97.5 462.6 96.8Q462.2 96.1 461.8 95.3Q461.5 94.6 461.2 93.8Q460.9 93.1 460.7 92.3Q460.4 91.5 460.3 90.7Q460.3 89.8 460.4 89.0Q460.5 88.2 460.7 87.4Q461.0 86.6 461.4 85.9Q461.8 85.2 462.3 84.6Q462.9 84.0 463.5 83.6Q464.1 83.1 464.8 82.7Q465.5 82.3 466.2 82.2Q466.9 82.0 467.6 82.4Q468.2 82.8 468.7 83.5Q469.1 84.2 469.2 85.0Q469.4 85.8 469.4 86.7Q469.4 87.5 469.3 88.3Q469.3 89.1 469.1 90.0Q468.9 90.8 468.7 91.6Q468.5 92.4 468.2 93.1Q467.9 93.9 467.6 94.7Q467.3 95.4 466.9 96.1Q466.5 96.9 466.2 97.6Q465.9 98.4 465.6 99.1Q465.3 99.9 464.9 100.6Q464.6 101.4 464.3 102.1Q463.9 102.9 463.6 103.6Q463.3 104.4 463.1 105.2Q462.8 106.0 462.6 106.8Q462.3 107.6 462.2 108.4Q462.0 109.2 461.8 110.0Q461.7 110.8 461.5 111.6Q461.3 112.4 461.0 113.2Q460.7 114.0 460.4 114.7Q460.1 115.5 459.7 116.2Q459.2 116.8 458.5 117.1Q457.8 117.3 457.0 117.2Q456.2 117.2 455.5 116.9Q454.8 116.6 454.1 116.2Q453.4 115.8 452.8 115.3Q452.2 114.8 451.6 114.3Q451.0 113.8 450.4 113.3Q449.8 112.8 449.2 112.3Q448.5 111.8 447.9 111.3Q447.3 110.8 446.7 110.3Q446.1 109.8 445.5 109.3Q444.9 108.8 444.6 108.0Q444.4 107.2 444.4 106.4Q444.3 105.6 444.4 104.7Q444.6 103.9 444.9 103.2Q445.2 102.4 445.6 101.7Q446.0 101.0 446.4 100.3Q446.9 99.6 447.4 99.0Q448.0 98.4 448.6 97.9Q449.2 97.4 449.8 97.0Q450.5 96.6 451.2 96.3Q451.9 96.0 452.7 95.8Q453.4 95.6 454.2 95.4Q454.9 95.3 455.7 95.2Q456.5 95.1 457.2 94.9Q458.0 94.8 458.7 94.8Q459.5 94.7 460.3 94.9Q461.0 95.0 461.7 95.3Q462.4 95.6 463.1 96.1Q463.8 96.5 464.4 97.0Q465.0 97.5 465.5 98.1Q466.0 98.7 466.4 99.4Q466.8 100.1 467.1 100.9Q467.3 101.7 467.4 102.5Q467.4 103.3 467.2 104.1Q467.0 104.9 466.5 105.6Q466.1 106.3 465.6 106.9Q465.0 107.4 464.3 107.8Q463.6 108.2 462.9 108.4Q462.1 108.7 461.4 108.8Q460.6 108.9 459.9 108.8Q459.1 108.7 458.4 108.5Q457.6 108.2 457.0 107.7Q456.4 107.2 456.0 106.5Q455.5 105.9 455.2 105.1Q454.9 104.3 454.7 103.5Q454.6 102.7 454.5 101.9Q454.4 101.1 454.5 100.2Q454.6 99.4 454.9 98.6Q455.2 97.9 455.6 97.2Q456.1 96.5 456.7 96.0Q457.3 95.5 458.0 95.2Q458.7 94.9 459.5 94.9" fill="none" stroke="#0d6b92" stroke-width="1.45" stroke-linecap="round" stroke-linejoin="round"/>
<text x="202.5" y="80.3" font-family="&quot;Liberation Serif&quot;, serif" font-size="21.50" font-weight="normal" fill="#222" text-anchor="start" textLength="16.2" lengthAdjust="spacingAndGlyphs">O</text>
<text x="208.3" y="91.3" font-family="&quot;Liberation Serif&quot;, serif" font-size="21.50" font-weight="normal" fill="#222" text-anchor="start" textLength="16.2" lengthAdjust="spacingAndGlyphs">O</text>
<text x="338.8" y="35.7" font-family="&quot;Liberation Serif&quot;, serif" font-size="21.50" font-weight="normal" fill="#222" text-anchor="start" textLength="16.2" lengthAdjust="spacingAndGlyphs">O</text>
<text x="339.9" y="145.8" font-family="&quot;Liberation Serif&quot;, serif" font-size="21.50" font-weight="normal" fill="#222" text-anchor="start" textLength="16.2" lengthAdjust="spacingAndGlyphs">O</text>
<text x="348.1" y="47.8" font-family="&quot;Liberation Sans&quot;, Arial, sans-serif" font-size="22.80" font-weight="normal" fill="#222" text-anchor="start" textLength="12.3" lengthAdjust="spacingAndGlyphs">P</text>
<text x="480.0" y="82.2" font-family="&quot;Liberation Sans&quot;, Arial, sans-serif" font-size="22.80" font-weight="normal" fill="#222" text-anchor="start" textLength="12.3" lengthAdjust="spacingAndGlyphs">P</text>
<text x="484.2" y="94.4" font-family="&quot;Liberation Sans&quot;, Arial, sans-serif" font-size="22.80" font-weight="normal" fill="#222" text-anchor="start" textLength="12.3" lengthAdjust="spacingAndGlyphs">P</text>
<text x="336.9" y="135.1" font-family="&quot;Liberation Sans&quot;, Arial, sans-serif" font-size="22.80" font-weight="normal" fill="#222" text-anchor="start" textLength="12.3" lengthAdjust="spacingAndGlyphs">P</text>
<text x="266.0" y="19.5" font-family="&quot;Liberation Sans&quot;, Arial, sans-serif" font-size="18.00" fill="#1a1a1a" textLength="38.0" lengthAdjust="spacingAndGlyphs">nt*p<tspan font-size="10.80" dy="3.1">0</tspan></text>
<text x="431.0" y="21.0" font-family="&quot;Liberation Sans&quot;, Arial, sans-serif" font-size="18.00" fill="#1a1a1a" textLength="38.0" lengthAdjust="spacingAndGlyphs">nt*p<tspan font-size="10.80" dy="3.1">3</tspan></text>
<text x="248.0" y="171.0" font-family="&quot;Liberation Sans&quot;, Arial, sans-serif" font-size="18.00" fill="#1a1a1a" textLength="37.0" lengthAdjust="spacingAndGlyphs">nt*p<tspan font-size="10.80" dy="3.1">1</tspan></text>
<text x="211.0" y="53.5" font-family="&quot;Liberation Sans&quot;, Arial, sans-serif" font-size="18.00" fill="#7c7c7c" textLength="48.5" lengthAdjust="spacingAndGlyphs">nt*bp<tspan font-size="10.80" dy="3.1">0</tspan></text>
<text x="368.0" y="48.5" font-family="&quot;Liberation Sans&quot;, Arial, sans-serif" font-size="18.00" fill="#7c7c7c" textLength="48.5" lengthAdjust="spacingAndGlyphs">nt*bp<tspan font-size="10.80" dy="3.1">3</tspan></text>
<text x="188.5" y="145.0" font-family="&quot;Liberation Sans&quot;, Arial, sans-serif" font-size="18.00" fill="#7c7c7c" textLength="47.5" lengthAdjust="spacingAndGlyphs">nt*bp<tspan font-size="10.80" dy="3.1">1</tspan></text>
<text x="381.0" y="90.5" font-family="&quot;Liberation Sans&quot;, Arial, sans-serif" font-size="18.00" fill="#1a1a1a" textLength="14.0" lengthAdjust="spacingAndGlyphs">d<tspan font-size="10.80" dy="3.1">3</tspan></text>
<text x="379.5" y="114.0" font-family="&quot;Liberation Sans&quot;, Arial, sans-serif" font-size="18.00" fill="#1a1a1a" textLength="14.0" lengthAdjust="spacingAndGlyphs">d<tspan font-size="10.80" dy="3.1">2</tspan></text>
<text x="249.0" y="113.5" font-family="&quot;Liberation Sans&quot;, Arial, sans-serif" font-size="18.00" fill="#1a1a1a" textLength="13.0" lengthAdjust="spacingAndGlyphs">d<tspan font-size="10.80" dy="3.1">1</tspan></text>
<text x="416.5" y="84.0" font-family="&quot;Liberation Sans&quot;, Arial, sans-serif" font-size="18.00" fill="#7c7c7c" textLength="24.0" lengthAdjust="spacingAndGlyphs">bd<tspan font-size="10.80" dy="3.1">3</tspan></text>
<text x="413.0" y="123.0" font-family="&quot;Liberation Sans&quot;, Arial, sans-serif" font-size="18.00" fill="#7c7c7c" textLength="24.0" lengthAdjust="spacingAndGlyphs">bd<tspan font-size="10.80" dy="3.1">2</tspan></text>
<path d="M233.0 66.7 L288.0 51.5 L270.0 50.5" fill="none" stroke="#000" stroke-width="4.0" stroke-linejoin="bevel"/>
<path d="M377.3 51.8 L433.7 66.7 L417.3 56.0" fill="none" stroke="#000" stroke-width="4.0" stroke-linejoin="bevel"/>
<path d="M430.8 72.2 L375.2 58.0 L390.5 68.6" fill="none" stroke="#000" stroke-width="4.0" stroke-linejoin="bevel"/>
<path d="M425.0 125.0 L368.5 139.5 L386.0 129.5" fill="none" stroke="#000" stroke-width="4.0" stroke-linejoin="bevel"/>
<path d="M281.0 137.0 L225.5 122.0 L244.0 121.5" fill="none" stroke="#ae0535" stroke-width="4.0" stroke-linejoin="bevel"/>
<path d="M224.0 129.0 L280.0 143.5 L261.0 145.0" fill="none" stroke="#000" stroke-width="4.0" stroke-linejoin="bevel"/>
<text x="561.7" y="68.0" font-family="&quot;Liberation Sans&quot;, Arial, sans-serif" font-size="19.60" font-weight="bold" fill="#000" text-anchor="start" >Reaction</text>
<rect x="562.5" y="74.0" width="29.5" height="20.2" fill="#fbf9f9" stroke="#d0caca" stroke-width="1"/>
<rect x="562.5" y="94.2" width="29.5" height="20.2" fill="#fbf9f9" stroke="#d0caca" stroke-width="1"/>
<rect x="562.5" y="114.4" width="29.5" height="20.2" fill="#fbf9f9" stroke="#d0caca" stroke-width="1"/>
<text x="594.3" y="90.0" font-family="&quot;Liberation Sans&quot;, Arial, sans-serif" font-size="18.60" font-weight="normal" fill="#000" text-anchor="start" >C</text>
<text x="613.2" y="90.6" font-family="&quot;Liberation Sans&quot;, Arial, sans-serif" font-size="23.00" font-weight="bold" fill="#000" text-anchor="start" >+</text>
<text x="636.2" y="90.0" font-family="&quot;Liberation Sans&quot;, Arial, sans-serif" font-size="18.60" font-weight="normal" fill="#000" text-anchor="start" >S</text>
<text x="594.3" y="110.6" font-family="&quot;Liberation Sans&quot;, Arial, sans-serif" font-size="18.60" font-weight="normal" fill="#000" text-anchor="start" >C</text>
<text x="594.3" y="130.8" font-family="&quot;Liberation Sans&quot;, Arial, sans-serif" font-size="18.60" font-weight="normal" fill="#000" text-anchor="start" >S</text>
<path d="M588.5 83.0 H565.5" fill="none" stroke="#000" stroke-width="1.6"/>
<path d="M564.8 82.7 L574.2 86.6 L576 83.3 Z" fill="#000"/>
<path d="M588.5 98.1 H565.5" fill="none" stroke="#0d6b92" stroke-width="1.6"/>
<path d="M564.8 97.8 L574.2 101.7 L576 98.4 Z" fill="#0d6b92"/>
<path d="M588.5 107.1 H565.5" fill="none" stroke="#ae0535" stroke-width="1.6"/>
<path d="M564.8 106.8 L574.2 110.7 L576 107.4 Z" fill="#ae0535"/>
<path d="M588.5 123.5 H565.5" fill="none" stroke="#555" stroke-width="1.6"/>
<path d="M564.8 123.2 L574.2 127.1 L576 123.8 Z" fill="#555"/>
<text x="0.3" y="214.2" font-family="&quot;Liberation Sans&quot;, Arial, sans-serif" font-size="28.00" font-weight="bold" fill="#000" text-anchor="start" >b</text>
<rect x="32.5" y="225.5" width="185.0" height="149.0" fill="#fff"/>
<path d="M66.9 225.5 V374.5" stroke="#fdf1f2" stroke-width="0.6"/>
<path d="M118.4 225.5 V374.5" stroke="#fdf1f2" stroke-width="0.6"/>
<path d="M170.0 225.5 V374.5" stroke="#fdf1f2" stroke-width="0.6"/>
<path d="M32.5 350.6 H217.5" stroke="#fdf1f2" stroke-width="0.6"/>
<path d="M32.5 316.5 H217.5" stroke="#fdf1f2" stroke-width="0.6"/>
<path d="M32.5 282.4 H217.5" stroke="#fdf1f2" stroke-width="0.6"/>
<path d="M32.5 248.3 H217.5" stroke="#fdf1f2" stroke-width="0.6"/>
<path d="M41.1 225.5 V374.5" stroke="#efebeb" stroke-width="0.9"/>
<path d="M92.7 225.5 V374.5" stroke="#efebeb" stroke-width="0.9"/>
<path d="M144.2 225.5 V374.5" stroke="#efebeb" stroke-width="0.9"/>
<path d="M195.8 225.5 V374.5" stroke="#efebeb" stroke-width="0.9"/>
<path d="M32.5 367.7 H217.5" stroke="#efebeb" stroke-width="0.9"/>
<path d="M32.5 333.6 H217.5" stroke="#efebeb" stroke-width="0.9"/>
<path d="M32.5 299.5 H217.5" stroke="#efebeb" stroke-width="0.9"/>
<path d="M32.5 265.4 H217.5" stroke="#efebeb" stroke-width="0.9"/>
<path d="M32.5 231.3 H217.5" stroke="#efebeb" stroke-width="0.9"/>
<clipPath id="cb1"><rect x="32.5" y="225.5" width="185.0" height="149.0"/></clipPath>
<path d="M64.3 357.5 L66.9 361.6 L72.0 364.6 L80.3 366.5 L92.7 367.4 L113.3 367.7 L206.1 367.7" fill="none" stroke="#ae0535" stroke-width="4.40" stroke-linecap="butt" stroke-linejoin="round" stroke-dasharray="3.6 10 16 10"/>
<path d="M62.2 368.0 L206.1 368.0" fill="none" stroke="#0d6b92" stroke-width="3.40" stroke-linecap="butt" stroke-linejoin="round" stroke-dasharray="1.6 1.5" clip-path="url(#cb1)"/>
<path d="M41.1 367.7 L41.1 240.8" fill="none" stroke="#ae0535" stroke-width="5.80" stroke-linecap="round" stroke-linejoin="round"/>
<path d="M41.1 322.7 L49.3 323.7 L54.5 325.4 L57.6 328.5 L59.7 332.9 L61.7 339.7 L62.8 344.5" fill="none" stroke="#ae0535" stroke-width="4.80" stroke-linecap="butt" stroke-linejoin="round"/>
<path d="M41.1 367.7 L41.1 299.5" fill="none" stroke="#0d6b92" stroke-width="6.60" stroke-linecap="butt" stroke-linejoin="round"/>
<path d="M41.1 367.7 L41.1 368.4" fill="none" stroke="#0d6b92" stroke-width="6.60" stroke-linecap="round" stroke-linejoin="round"/>
<path d="M41.1 367.7 L47.3 367.7 L52.4 366.7 L56.0 364.3 L58.6 360.9 L60.2 356.4" fill="none" stroke="#0d6b92" stroke-width="4.80" stroke-linecap="round" stroke-linejoin="round"/>
<path d="M63.8 333.6 L65.6 334.6 L67.4 335.5 L69.2 336.4 L71.0 337.3 L72.8 338.1 L74.6 338.9 L76.4 339.7 L78.2 340.5 L80.0 341.2 L81.8 342.0 L83.6 342.7 L85.4 343.3 L87.2 344.0 L89.0 344.6 L90.8 345.2 L92.6 345.8 L94.4 346.4 L96.2 346.9 L98.0 347.5 L99.8 348.0 L101.6 348.5 L103.4 349.0 L105.2 349.4 L107.0 349.9 L108.8 350.3 L110.6 350.8 L112.4 351.2 L114.2 351.6 L116.0 351.9 L117.8 352.3 L119.6 352.7 L121.4 353.0 L123.2 353.4 L125.0 353.7 L126.8 354.0 L128.6 354.3 L130.4 354.6 L132.2 354.9 L134.0 355.2 L135.8 355.4 L137.6 355.7 L139.4 355.9 L141.2 356.2 L143.0 356.4 L144.8 356.7 L146.6 356.9 L148.4 357.1 L150.2 357.3 L152.0 357.5 L153.8 357.7 L155.6 357.9 L157.4 358.0 L159.2 358.2 L161.0 358.4 L162.8 358.6 L164.6 358.7 L166.4 358.9 L168.2 359.0 L170.0 359.2 L171.8 359.3 L173.6 359.4 L175.4 359.6 L177.2 359.7 L179.0 359.8 L180.8 359.9 L182.6 360.0 L184.4 360.1 L186.2 360.3 L188.1 360.4 L189.9 360.5 L191.7 360.6 L193.5 360.6 L195.3 360.7 L197.1 360.8 L198.9 360.9 L200.7 361.0 L202.5 361.1 L204.3 361.1 L206.1 361.2" fill="none" stroke="#0d6b92" stroke-width="4.40" stroke-linecap="butt" stroke-linejoin="round" stroke-dasharray="3.6 10 16 10"/>
<path d="M58.8 357.5 L58.8 289.3 L59.2 272.2 L60.2 267.1 L60.4 266.9 L60.6 266.6 L60.8 266.2 L61.1 265.8 L61.4 265.4 L61.7 264.9 L62.0 264.4 L62.4 263.9 L62.8 263.4 L63.2 262.9 L63.6 262.5 L64.0 262.0 L64.4 261.7 L64.8 261.3 L65.3 261.0 L65.7 260.7 L66.2 260.4 L66.7 260.2 L67.2 259.9 L67.8 259.7 L68.3 259.5 L68.9 259.2 L69.4 259.0 L70.0 258.9 L70.5 258.7 L71.0 258.5 L71.5 258.4 L72.0 258.2 L72.5 258.1 L72.9 258.0 L73.4 257.9 L73.8 257.8 L74.2 257.7 L74.6 257.7 L75.0 257.6 L75.4 257.6 L75.8 257.6 L76.3 257.6 L76.7 257.5 L77.2 257.5 L77.7 257.5 L78.2 257.6 L78.8 257.6 L79.4 257.6 L79.9 257.6 L80.5 257.7 L81.2 257.7 L81.8 257.8 L82.5 257.9 L83.1 258.0 L83.8 258.0 L84.5 258.1 L85.2 258.2 L86.0 258.3 L86.7 258.5 L87.5 258.6 L88.3 258.7 L89.0 258.8 L89.7 258.9 L90.4 258.9 L91.2 259.0 L91.9 259.1 L92.7 259.2 L93.5 259.3 L94.4 259.5 L95.4 259.7 L96.4 259.9 L97.5 260.2 L98.7 260.6 L100.0 261.0 L101.4 261.4 L102.9 262.0 L104.6 262.6 L106.3 263.2 L108.2 263.9 L110.0 264.6 L112.0 265.3 L113.9 266.1 L115.9 266.9 L117.9 267.7 L119.9 268.6 L121.9 269.5 L123.8 270.3 L125.6 271.2 L127.5 272.1 L129.3 273.0 L131.2 274.0 L133.0 274.9 L134.8 275.9 L136.7 277.0 L138.5 278.0 L140.4 279.0 L142.2 280.1 L144.0 281.2 L145.9 282.3 L147.7 283.3 L149.6 284.4 L151.4 285.5 L153.2 286.6 L155.1 287.7 L156.9 288.8 L158.7 290.0 L160.5 291.1 L162.3 292.3 L164.1 293.4 L165.9 294.6 L167.7 295.8 L169.6 296.9 L171.4 298.1 L173.3 299.2 L175.2 300.4 L177.2 301.5 L179.2 302.7 L181.4 304.0 L183.8 305.3 L186.2 306.6 L188.6 307.9 L191.0 309.3 L193.4 310.6 L195.8 311.8 L198.0 313.0 L200.1 314.2 L202.1 315.2 L203.8 316.1 L205.3 316.9 L206.5 317.6" fill="none" stroke="#ae0535" stroke-width="3.90" stroke-linecap="butt" stroke-linejoin="round" stroke-dasharray="1.5 1.45"/>
<path d="M60.2 357.5 L60.5 313.1 L61.2 301.2 L62.2 297.8 L62.4 297.5 L62.6 297.1 L62.9 296.6 L63.1 296.0 L63.4 295.4 L63.8 294.8 L64.1 294.1 L64.5 293.4 L64.8 292.8 L65.2 292.1 L65.6 291.5 L66.0 290.9 L66.5 290.4 L66.9 290.0 L67.3 289.6 L67.7 289.2 L68.1 288.8 L68.6 288.5 L69.0 288.2 L69.5 288.0 L69.9 287.7 L70.4 287.5 L71.0 287.2 L71.5 287.0 L72.1 286.8 L72.7 286.6 L73.4 286.4 L74.1 286.2 L74.9 286.0 L75.7 285.8 L76.6 285.7 L77.5 285.5 L78.5 285.3 L79.5 285.2 L80.5 285.1 L81.5 284.9 L82.5 284.8 L83.6 284.7 L84.6 284.6 L85.6 284.6 L86.6 284.5 L87.5 284.5 L88.4 284.5 L89.2 284.5 L90.0 284.5 L90.7 284.5 L91.5 284.6 L92.2 284.7 L93.0 284.8 L93.7 284.8 L94.6 284.9 L95.5 285.0 L96.4 285.2 L97.5 285.3 L98.7 285.4 L100.0 285.5 L101.4 285.6 L102.9 285.8 L104.6 285.9 L106.3 286.0 L108.2 286.2 L110.0 286.3 L112.0 286.5 L113.9 286.6 L115.9 286.8 L117.9 287.0 L119.9 287.2 L121.9 287.4 L123.8 287.7 L125.6 287.9 L127.5 288.2 L129.3 288.4 L131.2 288.7 L133.0 289.0 L134.8 289.3 L136.7 289.6 L138.5 289.9 L140.4 290.3 L142.2 290.6 L144.0 291.0 L145.9 291.4 L147.7 291.8 L149.6 292.2 L151.4 292.7 L153.2 293.2 L155.1 293.6 L156.9 294.2 L158.7 294.7 L160.5 295.2 L162.3 295.8 L164.1 296.4 L165.9 297.0 L167.7 297.6 L169.6 298.2 L171.4 298.9 L173.3 299.5 L175.2 300.2 L177.2 300.9 L179.2 301.6 L181.4 302.4 L183.8 303.2 L186.2 304.1 L188.6 305.0 L191.0 305.9 L193.4 306.8 L195.8 307.7 L198.0 308.6 L200.1 309.4 L202.1 310.1 L203.8 310.8 L205.3 311.3 L206.5 311.8" fill="none" stroke="#0d6b92" stroke-width="3.90" stroke-linecap="butt" stroke-linejoin="round" stroke-dasharray="1.5 1.45"/>
<rect x="32.5" y="225.5" width="185.0" height="149.0" fill="none" stroke="#9a9a9a" stroke-width="1"/>
<path d="M41.1 374.5 v3.8" stroke="#222" stroke-width="1.2"/>
<text x="41.1" y="390.0" font-family="&quot;Liberation Sans&quot;, Arial, sans-serif" font-size="14.80" font-weight="normal" fill="#1a1a1a" text-anchor="middle" >0</text>
<path d="M92.7 374.5 v3.8" stroke="#222" stroke-width="1.2"/>
<text x="92.7" y="390.0" font-family="&quot;Liberation Sans&quot;, Arial, sans-serif" font-size="14.80" font-weight="normal" fill="#1a1a1a" text-anchor="middle" >5</text>
<path d="M144.2 374.5 v3.8" stroke="#222" stroke-width="1.2"/>
<text x="144.2" y="390.0" font-family="&quot;Liberation Sans&quot;, Arial, sans-serif" font-size="14.80" font-weight="normal" fill="#1a1a1a" text-anchor="middle" >10</text>
<path d="M195.8 374.5 v3.8" stroke="#222" stroke-width="1.2"/>
<text x="195.8" y="390.0" font-family="&quot;Liberation Sans&quot;, Arial, sans-serif" font-size="14.80" font-weight="normal" fill="#1a1a1a" text-anchor="middle" >15</text>
<path d="M32.5 367.7 h-3.8" stroke="#222" stroke-width="1.2"/>
<text x="26.5" y="373.4" font-family="&quot;Liberation Sans&quot;, Arial, sans-serif" font-size="14.80" font-weight="normal" fill="#1a1a1a" text-anchor="end" >0</text>
<path d="M32.5 333.6 h-3.8" stroke="#222" stroke-width="1.2"/>
<text x="26.5" y="339.3" font-family="&quot;Liberation Sans&quot;, Arial, sans-serif" font-size="14.80" font-weight="normal" fill="#1a1a1a" text-anchor="end" >1</text>
<path d="M32.5 299.5 h-3.8" stroke="#222" stroke-width="1.2"/>
<text x="26.5" y="305.2" font-family="&quot;Liberation Sans&quot;, Arial, sans-serif" font-size="14.80" font-weight="normal" fill="#1a1a1a" text-anchor="end" >2</text>
<path d="M32.5 265.4 h-3.8" stroke="#222" stroke-width="1.2"/>
<text x="26.5" y="271.1" font-family="&quot;Liberation Sans&quot;, Arial, sans-serif" font-size="14.80" font-weight="normal" fill="#1a1a1a" text-anchor="end" >3</text>
<path d="M32.5 231.3 h-3.8" stroke="#222" stroke-width="1.2"/>
<text x="26.5" y="237.0" font-family="&quot;Liberation Sans&quot;, Arial, sans-serif" font-size="14.80" font-weight="normal" fill="#1a1a1a" text-anchor="end" >4</text>
<text x="124.0" y="404.5" font-family="&quot;Liberation Sans&quot;, Arial, sans-serif" font-size="15.00" font-weight="normal" fill="#111" text-anchor="middle" textLength="177" lengthAdjust="spacingAndGlyphs">Phosphate Donor (nt) (AU)</text>
<text transform="translate(12.4,298.9) rotate(-90)" text-anchor="middle" font-family="&quot;Liberation Sans&quot;, Arial, sans-serif" font-size="15.1" fill="#111" textLength="131.5" lengthAdjust="spacingAndGlyphs">Concentration (AU)</text>
<text x="229.0" y="243.5" font-family="&quot;Liberation Sans&quot;, Arial, sans-serif" font-size="18.20" font-weight="bold" fill="#000" text-anchor="start" textLength="44.5" lengthAdjust="spacingAndGlyphs">Form</text>
<rect x="229" y="249.0" width="20" height="20" fill="#fefdfd" stroke="#d6d0d0" stroke-width="1"/>
<path d="M231 259.0 H247" stroke="#ae0535" stroke-width="4.5"/>
<text x="251.3" y="265.2" font-family="&quot;Liberation Sans&quot;, Arial, sans-serif" font-size="18.00" font-weight="normal" fill="#111" text-anchor="start" >OO</text>
<rect x="229" y="269.0" width="20" height="20" fill="#fefdfd" stroke="#d6d0d0" stroke-width="1"/>
<path d="M231 279.0 H247" stroke="#0d6b92" stroke-width="4.5"/>
<text x="251.3" y="285.2" font-family="&quot;Liberation Sans&quot;, Arial, sans-serif" font-size="18.00" font-weight="normal" fill="#111" text-anchor="start" >PP</text>
<text x="229.0" y="309.0" font-family="&quot;Liberation Sans&quot;, Arial, sans-serif" font-size="18.20" font-weight="bold" fill="#000" text-anchor="start" textLength="43.5" lengthAdjust="spacingAndGlyphs">State</text>
<rect x="229" y="314.6" width="20" height="19.7" fill="#fefdfd" stroke="#d6d0d0" stroke-width="1"/>
<path d="M231 324.6 H247" stroke="#000" stroke-width="3.8"/>
<text x="251.3" y="330.1" font-family="&quot;Liberation Sans&quot;, Arial, sans-serif" font-size="18.00" font-weight="normal" fill="#111" text-anchor="start" >ss</text>
<rect x="229" y="334.3" width="20" height="19.7" fill="#fefdfd" stroke="#d6d0d0" stroke-width="1"/>
<path d="M231 344.3 H247" stroke="#000" stroke-width="2.8" stroke-dasharray="5 2.7 1.7 1.9 5 10"/>
<text x="251.3" y="349.8" font-family="&quot;Liberation Sans&quot;, Arial, sans-serif" font-size="18.00" font-weight="normal" fill="#111" text-anchor="start" >us</text>
<rect x="229" y="354.0" width="20" height="19.7" fill="#fefdfd" stroke="#d6d0d0" stroke-width="1"/>
<path d="M231 364.0 H247" stroke="#000" stroke-width="3.4" stroke-dasharray="1.4 1.4"/>
<text x="251.3" y="369.5" font-family="&quot;Liberation Sans&quot;, Arial, sans-serif" font-size="18.00" font-weight="normal" fill="#111" text-anchor="start" >amp</text>
<rect x="33.5" y="444.5" width="184.0" height="131.0" fill="#fff"/>
<path d="M62.3 444.5 V575.5" stroke="#fdf1f2" stroke-width="0.6"/>
<path d="M104.3 444.5 V575.5" stroke="#fdf1f2" stroke-width="0.6"/>
<path d="M146.4 444.5 V575.5" stroke="#fdf1f2" stroke-width="0.6"/>
<path d="M188.4 444.5 V575.5" stroke="#fdf1f2" stroke-width="0.6"/>
<path d="M33.5 553.5 H217.5" stroke="#fdf1f2" stroke-width="0.6"/>
<path d="M33.5 523.6 H217.5" stroke="#fdf1f2" stroke-width="0.6"/>
<path d="M33.5 493.8 H217.5" stroke="#fdf1f2" stroke-width="0.6"/>
<path d="M33.5 463.9 H217.5" stroke="#fdf1f2" stroke-width="0.6"/>
<path d="M41.3 444.5 V575.5" stroke="#efebeb" stroke-width="0.9"/>
<path d="M83.3 444.5 V575.5" stroke="#efebeb" stroke-width="0.9"/>
<path d="M125.3 444.5 V575.5" stroke="#efebeb" stroke-width="0.9"/>
<path d="M167.4 444.5 V575.5" stroke="#efebeb" stroke-width="0.9"/>
<path d="M209.4 444.5 V575.5" stroke="#efebeb" stroke-width="0.9"/>
<path d="M33.5 568.5 H217.5" stroke="#efebeb" stroke-width="0.9"/>
<path d="M33.5 538.6 H217.5" stroke="#efebeb" stroke-width="0.9"/>
<path d="M33.5 508.7 H217.5" stroke="#efebeb" stroke-width="0.9"/>
<path d="M33.5 478.8 H217.5" stroke="#efebeb" stroke-width="0.9"/>
<path d="M33.5 448.9 H217.5" stroke="#efebeb" stroke-width="0.9"/>
<clipPath id="cb2"><rect x="33.5" y="444.5" width="184.0" height="131.0"/></clipPath>
<path d="M41.3 523.6 L41.6 523.6 L41.9 523.6 L42.1 523.6 L42.4 523.6 L42.7 523.6 L43.0 523.6 L43.3 522.4 L43.5 521.1 L43.8 519.8 L44.1 518.6 L44.4 517.4 L44.7 516.2 L44.9 515.0 L45.2 513.9 L45.5 512.8 L45.8 511.6 L46.1 510.6 L46.3 509.5 L46.6 508.4 L46.9 507.4 L47.2 506.4 L47.5 505.4 L47.7 504.4 L48.0 503.5 L48.3 502.5 L48.6 501.6 L48.9 500.7 L49.1 499.8 L49.4 498.9 L49.7 498.0 L50.0 497.2 L50.3 496.3 L50.5 495.5 L50.8 494.7 L51.1 493.9 L51.4 493.1 L51.7 492.4 L51.9 491.6 L52.2 490.9 L52.5 490.1 L52.8 489.4 L53.1 488.7 L53.3 488.0 L53.6 487.3 L53.9 486.7 L54.2 486.0 L54.5 485.4 L54.7 484.7 L55.0 484.1 L55.3 483.5 L55.6 482.9 L55.9 482.3 L56.1 481.7 L56.4 481.2 L56.7 480.6 L57.0 480.1 L57.3 479.5 L57.5 479.0 L57.8 478.5 L58.1 478.0 L58.4 477.4 L58.7 477.0 L59.0 476.5 L59.2 476.0 L59.5 475.5 L59.8 475.1 L60.1 474.6 L60.4 474.2 L60.6 473.7 L60.9 473.3 L61.2 472.9 L61.5 472.5 L61.8 472.0 L62.0 471.6 L62.3 471.2 L62.6 470.9 L62.9 470.5 L63.2 470.1 L63.4 469.7 L63.7 469.4 L64.0 469.0 L64.3 468.7 L64.6 468.3 L64.8 468.0 L65.1 467.7 L65.4 467.3 L65.7 467.0 L66.0 466.7 L66.2 466.4 L66.5 466.1 L66.8 465.8 L67.1 465.5 L67.4 465.2 L67.6 464.9 L67.9 464.6 L68.2 464.4 L68.5 464.1 L68.8 463.8 L69.0 463.6 L69.3 463.3 L69.6 463.1 L69.9 462.8 L70.2 462.6 L70.4 462.4 L70.7 462.1 L71.0 461.9 L71.3 461.7 L71.6 461.4 L71.8 461.2 L72.1 461.0 L72.4 460.8 L72.7 460.6 L73.0 460.4 L73.2 460.2 L73.5 460.0 L73.8 459.8 L74.1 459.6 L74.4 459.4 L74.6 459.2 L74.9 459.1 L75.2 458.9 L75.5 458.7 L75.8 458.5 L76.0 458.4 L76.3 458.2 L76.6 458.1 L76.9 457.9 L77.2 457.7 L77.4 457.6 L77.7 457.4 L78.0 457.3 L78.3 457.1 L78.6 457.0 L78.8 456.9 L79.1 456.7 L79.4 456.6 L79.7 456.5 L80.0 456.3 L80.2 456.2 L80.5 456.1 L80.8 455.9 L81.1 455.8 L81.4 455.7 L81.6 455.6 L81.9 455.5 L82.2 455.4 L82.5 455.2 L82.8 455.1 L83.0 455.0 L83.3 454.9 L83.6 454.8 L83.9 454.7 L84.2 454.6 L84.4 454.5 L84.7 454.4 L85.0 454.3 L85.3 454.2 L85.6 454.1 L85.8 454.0 L86.1 453.9 L86.4 453.9 L86.7 453.8 L87.0 453.7 L87.2 453.6 L87.5 453.5 L87.8 453.4 L88.1 453.4 L88.4 453.3 L88.6 453.2 L88.9 453.1 L89.2 453.1 L89.5 453.0 L89.8 452.9 L90.0 452.9 L90.3 452.8 L90.6 452.7 L90.9 452.6 L91.2 452.6 L91.4 452.5 L91.7 452.5 L92.0 452.4 L92.3 452.3 L92.6 452.3 L92.9 452.2 L93.1 452.2 L93.4 452.1 L93.7 452.0 L94.0 452.0 L94.3 451.9 L94.5 451.9 L94.8 451.8 L95.1 451.8 L95.4 451.7 L95.7 451.7 L95.9 451.6 L96.2 451.6 L96.5 451.5 L96.8 451.5 L97.1 451.5 L97.3 451.4 L97.6 451.9 L97.9 457.4 L98.2 463.0 L98.5 468.5 L98.7 474.0 L99.0 479.6 L99.3 485.1 L99.6 490.6 L99.9 496.2 L100.1 501.7 L100.4 507.3 L100.7 511.5 L101.0 510.5 L101.3 509.5 L101.5 508.5 L101.8 507.5 L102.1 506.6 L102.4 505.6 L102.7 504.7 L102.9 503.8 L103.2 502.9 L103.5 502.1 L103.8 501.2 L104.1 500.3 L104.3 499.5 L104.6 498.7 L104.9 497.9 L105.2 497.1 L105.5 496.3 L105.7 495.5 L106.0 494.8 L106.3 494.0 L106.6 493.3 L106.9 492.6 L107.1 491.9 L107.4 491.2 L107.7 490.5 L108.0 489.8 L108.3 489.2 L108.5 488.5 L108.8 487.9 L109.1 487.2 L109.4 486.6 L109.7 486.0 L109.9 485.4 L110.2 484.8 L110.5 484.2 L110.8 483.7 L111.1 483.1 L111.3 482.5 L111.6 482.0 L111.9 481.5 L112.2 480.9 L112.5 480.4 L112.7 479.9 L113.0 479.4 L113.3 478.9 L113.6 478.4 L113.9 477.9 L114.1 477.5 L114.4 477.0 L114.7 476.6 L115.0 476.1 L115.3 475.7 L115.5 475.2 L115.8 474.8 L116.1 474.4 L116.4 474.0 L116.7 473.6 L116.9 473.2 L117.2 472.8 L117.5 472.4 L117.8 472.0 L118.1 471.6 L118.3 471.3 L118.6 470.9 L118.9 470.5 L119.2 470.2 L119.5 469.9 L119.7 469.5 L120.0 469.2 L120.3 468.8 L120.6 468.5 L120.9 468.2 L121.1 467.9 L121.4 467.6 L121.7 467.3 L122.0 467.0 L122.3 466.7 L122.5 466.4 L122.8 466.1 L123.1 465.8 L123.4 465.6 L123.7 465.3 L123.9 465.0 L124.2 464.8 L124.5 464.5 L124.8 464.3 L125.1 464.0 L125.3 463.8 L125.6 463.5 L125.9 463.3 L126.2 463.1 L126.5 462.8 L126.8 462.6 L127.0 462.4 L127.3 462.2 L127.6 461.9 L127.9 461.7 L128.2 461.5 L128.4 461.3 L128.7 461.1 L129.0 460.9 L129.3 460.7 L129.6 460.5 L129.8 460.3 L130.1 460.2 L130.4 460.0 L130.7 459.8 L131.0 459.6 L131.2 459.5 L131.5 459.3 L131.8 459.1 L132.1 458.9 L132.4 458.8 L132.6 458.6 L132.9 458.5 L133.2 458.3 L133.5 458.2 L133.8 458.0 L134.0 457.9 L134.3 457.7 L134.6 457.6 L134.9 457.4 L135.2 457.3 L135.4 457.2 L135.7 457.0 L136.0 456.9 L136.3 456.8 L136.6 456.6 L136.8 456.5 L137.1 456.4 L137.4 456.3 L137.7 456.1 L138.0 456.0 L138.2 455.9 L138.5 455.8 L138.8 455.7 L139.1 455.6 L139.4 455.5 L139.6 455.4 L139.9 455.3 L140.2 455.2 L140.5 455.1 L140.8 455.0 L141.0 454.9 L141.3 454.8 L141.6 454.7 L141.9 454.6 L142.2 454.5 L142.4 454.4 L142.7 454.3 L143.0 454.2 L143.3 454.1 L143.6 454.0 L143.8 454.0 L144.1 453.9 L144.4 453.8 L144.7 453.7 L145.0 453.6 L145.2 453.6 L145.5 453.5 L145.8 453.4 L146.1 453.3 L146.4 453.3 L146.6 453.2 L146.9 453.1 L147.2 453.1 L147.5 453.0 L147.8 452.9 L148.0 452.9 L148.3 452.8 L148.6 452.7 L148.9 452.7 L149.2 452.6 L149.4 452.5 L149.7 452.5 L150.0 452.4 L150.3 452.4 L150.6 452.3 L150.8 452.3 L151.1 452.2 L151.4 452.2 L151.7 452.1 L152.0 452.1 L152.2 452.0 L152.5 451.9 L152.8 451.9 L153.1 451.9 L153.4 451.8 L153.6 451.8 L153.9 451.7 L154.2 451.7 L154.5 451.6 L154.8 451.6 L155.0 451.5 L155.3 451.5 L155.6 451.4 L155.9 451.4 L156.2 451.4 L156.4 451.3 L156.7 451.3 L157.0 451.2 L157.3 451.2 L157.6 451.2 L157.8 451.1 L158.1 451.9 L158.4 457.4 L158.7 463.0 L159.0 468.5 L159.3 474.0 L159.5 479.6 L159.8 485.1 L160.1 490.6 L160.4 496.2 L160.7 501.7 L160.9 507.3 L161.2 511.5 L161.5 510.5 L161.8 509.5 L162.1 508.5 L162.3 507.5 L162.6 506.6 L162.9 505.6 L163.2 504.7 L163.5 503.8 L163.7 502.9 L164.0 502.1 L164.3 501.2 L164.6 500.3 L164.9 499.5 L165.1 498.7 L165.4 497.9 L165.7 497.1 L166.0 496.3 L166.3 495.5 L166.5 494.8 L166.8 494.0 L167.1 493.3 L167.4 492.6 L167.7 491.9 L167.9 491.2 L168.2 490.5 L168.5 489.8 L168.8 489.2 L169.1 488.5 L169.3 487.9 L169.6 487.2 L169.9 486.6 L170.2 486.0 L170.5 485.4 L170.7 484.8 L171.0 484.2 L171.3 483.7 L171.6 483.1 L171.9 482.5 L172.1 482.0 L172.4 481.5 L172.7 480.9 L173.0 480.4 L173.3 479.9 L173.5 479.4 L173.8 478.9 L174.1 478.4 L174.4 477.9 L174.7 477.5 L174.9 477.0 L175.2 476.6 L175.5 476.1 L175.8 475.7 L176.1 475.2 L176.3 474.8 L176.6 474.4 L176.9 474.0 L177.2 473.6 L177.5 473.2 L177.7 472.8 L178.0 472.4 L178.3 472.0 L178.6 471.6 L178.9 471.3 L179.1 470.9 L179.4 470.5 L179.7 470.2 L180.0 469.9 L180.3 469.5 L180.5 469.2 L180.8 468.8 L181.1 468.5 L181.4 468.2 L181.7 467.9 L181.9 467.6 L182.2 467.3 L182.5 467.0 L182.8 466.7 L183.1 466.4 L183.3 466.1 L183.6 465.8 L183.9 465.6 L184.2 465.3 L184.5 465.0 L184.7 464.8 L185.0 464.5 L185.3 464.3 L185.6 464.0 L185.9 463.8 L186.1 463.5 L186.4 463.3 L186.7 463.1 L187.0 462.8 L187.3 462.6 L187.5 462.4 L187.8 462.2 L188.1 461.9 L188.4 461.7 L188.7 461.5 L188.9 461.3 L189.2 461.1 L189.5 460.9 L189.8 460.7 L190.1 460.5 L190.3 460.3 L190.6 460.2 L190.9 460.0 L191.2 459.8 L191.5 459.6 L191.7 459.5 L192.0 459.3 L192.3 459.1 L192.6 458.9 L192.9 458.8 L193.2 458.6 L193.4 458.5 L193.7 458.3 L194.0 458.2 L194.3 458.0 L194.6 457.9 L194.8 457.7 L195.1 457.6 L195.4 457.4 L195.7 457.3 L196.0 457.2 L196.2 457.0 L196.5 456.9 L196.8 456.8 L197.1 456.6 L197.4 456.5 L197.6 456.4 L197.9 456.3 L198.2 456.1 L198.5 456.0 L198.8 455.9 L199.0 455.8 L199.3 455.7 L199.6 455.6 L199.9 455.5 L200.2 455.4 L200.4 455.3 L200.7 455.2 L201.0 455.1 L201.3 455.0 L201.6 454.9 L201.8 454.8 L202.1 454.7 L202.4 454.6 L202.7 454.5 L203.0 454.4 L203.2 454.3 L203.5 454.2 L203.8 454.1 L204.1 454.0 L204.4 454.0 L204.6 453.9 L204.9 453.8 L205.2 453.7 L205.5 453.6 L205.8 453.6 L206.0 453.5 L206.3 453.4 L206.6 453.3 L206.9 453.3 L207.2 453.2 L207.4 453.1 L207.7 453.1 L208.0 453.0 L208.3 452.9 L208.6 452.9 L208.8 452.8 L209.1 452.7 L209.4 452.7" fill="none" stroke="#666666" stroke-width="4.40" stroke-linecap="round" stroke-linejoin="round"/>
<path d="M41.3 544.6 L41.3 508.7" fill="none" stroke="#ae0535" stroke-width="4.40" stroke-linecap="round" stroke-linejoin="round"/>
<path d="M41.3 568.5 L41.6 568.5 L41.9 568.5 L42.1 568.5 L42.4 568.5 L42.7 568.5 L43.0 568.5 L43.3 568.5 L43.5 568.5 L43.8 568.5 L44.1 568.5 L44.4 568.5 L44.7 568.5 L44.9 568.5 L45.2 568.5 L45.5 568.5 L45.8 568.5 L46.1 568.5 L46.3 568.5 L46.6 568.5 L46.9 568.5 L47.2 568.5 L47.5 568.5 L47.7 568.5 L48.0 568.5 L48.3 568.5 L48.6 568.5 L48.9 568.5 L49.1 568.5 L49.4 568.5 L49.7 568.5 L50.0 568.5 L50.3 568.5 L50.5 568.5 L50.8 568.5 L51.1 568.5 L51.4 568.5 L51.7 568.5 L51.9 568.5 L52.2 568.5 L52.5 568.5 L52.8 568.5 L53.1 568.5 L53.3 568.5 L53.6 568.5 L53.9 568.5 L54.2 568.5 L54.5 568.5 L54.7 568.5 L55.0 568.5 L55.3 568.5 L55.6 568.5 L55.9 568.5 L56.1 568.5 L56.4 568.5 L56.7 568.5 L57.0 568.5 L57.3 568.5 L57.5 568.5 L57.8 568.5 L58.1 568.5 L58.4 568.5 L58.7 568.5 L59.0 568.5 L59.2 568.5 L59.5 568.5 L59.8 568.5 L60.1 568.5 L60.4 568.5 L60.6 568.5 L60.9 568.5 L61.2 568.5 L61.5 568.5 L61.8 568.5 L62.0 568.5 L62.3 568.5 L62.6 568.5 L62.9 568.5 L63.2 568.5 L63.4 568.5 L63.7 568.5 L64.0 568.5 L64.3 568.5 L64.6 568.5 L64.8 568.5 L65.1 568.5 L65.4 568.5 L65.7 568.5 L66.0 568.5 L66.2 568.5 L66.5 568.5 L66.8 568.5 L67.1 568.5 L67.4 568.5 L67.6 568.5 L67.9 568.5 L68.2 568.5 L68.5 568.5 L68.8 568.5 L69.0 568.5 L69.3 568.5 L69.6 568.5 L69.9 568.5 L70.2 568.5 L70.4 568.5 L70.7 568.5 L71.0 568.5 L71.3 568.5 L71.6 568.5 L71.8 568.5 L72.1 568.5 L72.4 568.5 L72.7 568.5 L73.0 568.5 L73.2 568.5 L73.5 568.5 L73.8 568.5 L74.1 568.5 L74.4 568.5 L74.6 568.5 L74.9 568.5 L75.2 568.5 L75.5 568.5 L75.8 568.5 L76.0 568.5 L76.3 568.5 L76.6 568.5 L76.9 568.5 L77.2 568.5 L77.4 568.5 L77.7 568.5 L78.0 568.5 L78.3 568.5 L78.6 568.5 L78.8 568.5 L79.1 568.5 L79.4 568.5 L79.7 568.5 L80.0 568.5 L80.2 568.5 L80.5 568.5 L80.8 568.5 L81.1 568.5 L81.4 568.5 L81.6 568.5 L81.9 568.5 L82.2 568.5 L82.5 568.5 L82.8 568.5 L83.0 568.5 L83.3 568.5 L83.6 568.5 L83.9 568.5 L84.2 568.5 L84.4 568.5 L84.7 568.5 L85.0 568.5 L85.3 568.5 L85.6 568.5 L85.8 568.5 L86.1 568.5 L86.4 568.5 L86.7 568.5 L87.0 568.5 L87.2 568.5 L87.5 568.5 L87.8 568.5 L88.1 568.5 L88.4 568.5 L88.6 568.5 L88.9 568.5 L89.2 568.5 L89.5 568.5 L89.8 568.5 L90.0 568.5 L90.3 568.5 L90.6 568.5 L90.9 568.5 L91.2 568.5 L91.4 568.5 L91.7 568.5 L92.0 568.5 L92.3 568.5 L92.6 568.5 L92.9 568.5 L93.1 568.5 L93.4 568.5 L93.7 568.5 L94.0 568.4 L94.3 568.3 L94.5 568.2 L94.8 567.8 L95.1 567.3 L95.4 566.3 L95.7 564.7 L95.9 562.2 L96.2 558.5 L96.5 553.3 L96.8 546.4 L97.1 537.7 L97.3 527.4 L97.6 515.8 L97.9 503.8 L98.2 492.3 L98.5 482.4 L98.7 475.2 L99.0 471.7 L99.3 472.1 L99.6 476.4 L99.9 484.2 L100.1 494.5 L100.4 506.2 L100.7 518.2 L101.0 529.6 L101.3 539.6 L101.5 547.9 L101.8 554.5 L102.1 559.3 L102.4 562.7 L102.7 565.0 L102.9 566.5 L103.2 567.4 L103.5 567.9 L103.8 568.2 L104.1 568.4 L104.3 568.4 L104.6 568.5 L104.9 568.5 L105.2 568.5 L105.5 568.5 L105.7 568.5 L106.0 568.5 L106.3 568.5 L106.6 568.5 L106.9 568.5 L107.1 568.5 L107.4 568.5 L107.7 568.5 L108.0 568.5 L108.3 568.5 L108.5 568.5 L108.8 568.5 L109.1 568.5 L109.4 568.5 L109.7 568.5 L109.9 568.5 L110.2 568.5 L110.5 568.5 L110.8 568.5 L111.1 568.5 L111.3 568.5 L111.6 568.5 L111.9 568.5 L112.2 568.5 L112.5 568.5 L112.7 568.5 L113.0 568.5 L113.3 568.5 L113.6 568.5 L113.9 568.5 L114.1 568.5 L114.4 568.5 L114.7 568.5 L115.0 568.5 L115.3 568.5 L115.5 568.5 L115.8 568.5 L116.1 568.5 L116.4 568.5 L116.7 568.5 L116.9 568.5 L117.2 568.5 L117.5 568.5 L117.8 568.5 L118.1 568.5 L118.3 568.5 L118.6 568.5 L118.9 568.5 L119.2 568.5 L119.5 568.5 L119.7 568.5 L120.0 568.5 L120.3 568.5 L120.6 568.5 L120.9 568.5 L121.1 568.5 L121.4 568.5 L121.7 568.5 L122.0 568.5 L122.3 568.5 L122.5 568.5 L122.8 568.5 L123.1 568.5 L123.4 568.5 L123.7 568.5 L123.9 568.5 L124.2 568.5 L124.5 568.5 L124.8 568.5 L125.1 568.5 L125.3 568.5 L125.6 568.5 L125.9 568.5 L126.2 568.5 L126.5 568.5 L126.8 568.5 L127.0 568.5 L127.3 568.5 L127.6 568.5 L127.9 568.5 L128.2 568.5 L128.4 568.5 L128.7 568.5 L129.0 568.5 L129.3 568.5 L129.6 568.5 L129.8 568.5 L130.1 568.5 L130.4 568.5 L130.7 568.5 L131.0 568.5 L131.2 568.5 L131.5 568.5 L131.8 568.5 L132.1 568.5 L132.4 568.5 L132.6 568.5 L132.9 568.5 L133.2 568.5 L133.5 568.5 L133.8 568.5 L134.0 568.5 L134.3 568.5 L134.6 568.5 L134.9 568.5 L135.2 568.5 L135.4 568.5 L135.7 568.5 L136.0 568.5 L136.3 568.5 L136.6 568.5 L136.8 568.5 L137.1 568.5 L137.4 568.5 L137.7 568.5 L138.0 568.5 L138.2 568.5 L138.5 568.5 L138.8 568.5 L139.1 568.5 L139.4 568.5 L139.6 568.5 L139.9 568.5 L140.2 568.5 L140.5 568.5 L140.8 568.5 L141.0 568.5 L141.3 568.5 L141.6 568.5 L141.9 568.5 L142.2 568.5 L142.4 568.5 L142.7 568.5 L143.0 568.5 L143.3 568.5 L143.6 568.5 L143.8 568.5 L144.1 568.5 L144.4 568.5 L144.7 568.5 L145.0 568.5 L145.2 568.5 L145.5 568.5 L145.8 568.5 L146.1 568.5 L146.4 568.5 L146.6 568.5 L146.9 568.5 L147.2 568.5 L147.5 568.5 L147.8 568.5 L148.0 568.5 L148.3 568.5 L148.6 568.5 L148.9 568.5 L149.2 568.5 L149.4 568.5 L149.7 568.5 L150.0 568.5 L150.3 568.5 L150.6 568.5 L150.8 568.5 L151.1 568.5 L151.4 568.5 L151.7 568.5 L152.0 568.5 L152.2 568.5 L152.5 568.5 L152.8 568.5 L153.1 568.5 L153.4 568.5 L153.6 568.5 L153.9 568.5 L154.2 568.5 L154.5 568.4 L154.8 568.3 L155.0 568.2 L155.3 567.8 L155.6 567.3 L155.9 566.3 L156.2 564.7 L156.4 562.2 L156.7 558.5 L157.0 553.3 L157.3 546.4 L157.6 537.7 L157.8 527.4 L158.1 515.8 L158.4 503.8 L158.7 492.3 L159.0 482.4 L159.3 475.2 L159.5 471.7 L159.8 472.1 L160.1 476.4 L160.4 484.2 L160.7 494.5 L160.9 506.2 L161.2 518.2 L161.5 529.6 L161.8 539.6 L162.1 547.9 L162.3 554.5 L162.6 559.3 L162.9 562.7 L163.2 565.0 L163.5 566.5 L163.7 567.4 L164.0 567.9 L164.3 568.2 L164.6 568.4 L164.9 568.4 L165.1 568.5 L165.4 568.5 L165.7 568.5 L166.0 568.5 L166.3 568.5 L166.5 568.5 L166.8 568.5 L167.1 568.5 L167.4 568.5 L167.7 568.5 L167.9 568.5 L168.2 568.5 L168.5 568.5 L168.8 568.5 L169.1 568.5 L169.3 568.5 L169.6 568.5 L169.9 568.5 L170.2 568.5 L170.5 568.5 L170.7 568.5 L171.0 568.5 L171.3 568.5 L171.6 568.5 L171.9 568.5 L172.1 568.5 L172.4 568.5 L172.7 568.5 L173.0 568.5 L173.3 568.5 L173.5 568.5 L173.8 568.5 L174.1 568.5 L174.4 568.5 L174.7 568.5 L174.9 568.5 L175.2 568.5 L175.5 568.5 L175.8 568.5 L176.1 568.5 L176.3 568.5 L176.6 568.5 L176.9 568.5 L177.2 568.5 L177.5 568.5 L177.7 568.5 L178.0 568.5 L178.3 568.5 L178.6 568.5 L178.9 568.5 L179.1 568.5 L179.4 568.5 L179.7 568.5 L180.0 568.5 L180.3 568.5 L180.5 568.5 L180.8 568.5 L181.1 568.5 L181.4 568.5 L181.7 568.5 L181.9 568.5 L182.2 568.5 L182.5 568.5 L182.8 568.5 L183.1 568.5 L183.3 568.5 L183.6 568.5 L183.9 568.5 L184.2 568.5 L184.5 568.5 L184.7 568.5 L185.0 568.5 L185.3 568.5 L185.6 568.5 L185.9 568.5 L186.1 568.5 L186.4 568.5 L186.7 568.5 L187.0 568.5 L187.3 568.5 L187.5 568.5 L187.8 568.5 L188.1 568.5 L188.4 568.5 L188.7 568.5 L188.9 568.5 L189.2 568.5 L189.5 568.5 L189.8 568.5 L190.1 568.5 L190.3 568.5 L190.6 568.5 L190.9 568.5 L191.2 568.5 L191.5 568.5 L191.7 568.5 L192.0 568.5 L192.3 568.5 L192.6 568.5 L192.9 568.5 L193.2 568.5 L193.4 568.5 L193.7 568.5 L194.0 568.5 L194.3 568.5 L194.6 568.5 L194.8 568.5 L195.1 568.5 L195.4 568.5 L195.7 568.5 L196.0 568.5 L196.2 568.5 L196.5 568.5 L196.8 568.5 L197.1 568.5 L197.4 568.5 L197.6 568.5 L197.9 568.5 L198.2 568.5 L198.5 568.5 L198.8 568.5 L199.0 568.5 L199.3 568.5 L199.6 568.5 L199.9 568.5 L200.2 568.5 L200.4 568.5 L200.7 568.5 L201.0 568.5 L201.3 568.5 L201.6 568.5 L201.8 568.5 L202.1 568.5 L202.4 568.5 L202.7 568.5 L203.0 568.5 L203.2 568.5 L203.5 568.5 L203.8 568.5 L204.1 568.5 L204.4 568.5 L204.6 568.5 L204.9 568.5 L205.2 568.5 L205.5 568.5 L205.8 568.5 L206.0 568.5 L206.3 568.5 L206.6 568.5 L206.9 568.5 L207.2 568.5 L207.4 568.5 L207.7 568.5 L208.0 568.5 L208.3 568.5 L208.6 568.5 L208.8 568.5 L209.1 568.5 L209.4 568.5" fill="none" stroke="#ae0535" stroke-width="4.40" stroke-linecap="round" stroke-linejoin="round"/>
<path d="M41.3 519.2 L41.6 512.6 L41.9 506.5 L42.1 501.2 L42.4 497.2 L42.7 494.6 L43.0 493.8 L43.3 495.0 L43.5 496.3 L43.8 497.5 L44.1 498.8 L44.4 500.0 L44.7 501.1 L44.9 502.3 L45.2 503.4 L45.5 504.6 L45.8 505.7 L46.1 506.7 L46.3 507.8 L46.6 508.8 L46.9 509.9 L47.2 510.9 L47.5 511.9 L47.7 512.8 L48.0 513.8 L48.3 514.7 L48.6 515.6 L48.9 516.6 L49.1 517.4 L49.4 518.3 L49.7 519.2 L50.0 520.0 L50.3 520.9 L50.5 521.7 L50.8 522.5 L51.1 523.3 L51.4 524.0 L51.7 524.8 L51.9 525.5 L52.2 526.3 L52.5 527.0 L52.8 527.7 L53.1 528.4 L53.3 529.1 L53.6 529.8 L53.9 530.4 L54.2 531.1 L54.5 531.7 L54.7 532.3 L55.0 533.0 L55.3 533.6 L55.6 534.2 L55.9 534.7 L56.1 535.3 L56.4 535.9 L56.7 536.4 L57.0 537.0 L57.3 537.5 L57.5 538.1 L57.8 538.6 L58.1 539.1 L58.4 539.6 L58.7 540.1 L59.0 540.6 L59.2 541.0 L59.5 541.5 L59.8 542.0 L60.1 542.4 L60.4 542.8 L60.6 543.3 L60.9 543.7 L61.2 544.1 L61.5 544.5 L61.8 544.9 L62.0 545.3 L62.3 545.7 L62.6 546.1 L62.9 546.5 L63.2 546.9 L63.4 547.2 L63.7 547.6 L64.0 547.9 L64.3 548.3 L64.6 548.6 L64.8 549.0 L65.1 549.3 L65.4 549.6 L65.7 549.9 L66.0 550.2 L66.2 550.6 L66.5 550.9 L66.8 551.1 L67.1 551.4 L67.4 551.7 L67.6 552.0 L67.9 552.3 L68.2 552.6 L68.5 552.8 L68.8 553.1 L69.0 553.3 L69.3 553.6 L69.6 553.8 L69.9 554.1 L70.2 554.3 L70.4 554.6 L70.7 554.8 L71.0 555.0 L71.3 555.2 L71.6 555.5 L71.8 555.7 L72.1 555.9 L72.4 556.1 L72.7 556.3 L73.0 556.5 L73.2 556.7 L73.5 556.9 L73.8 557.1 L74.1 557.3 L74.4 557.5 L74.6 557.6 L74.9 557.8 L75.2 558.0 L75.5 558.2 L75.8 558.3 L76.0 558.5 L76.3 558.7 L76.6 558.8 L76.9 559.0 L77.2 559.1 L77.4 559.3 L77.7 559.4 L78.0 559.6 L78.3 559.7 L78.6 559.9 L78.8 560.0 L79.1 560.1 L79.4 560.3 L79.7 560.4 L80.0 560.5 L80.2 560.7 L80.5 560.8 L80.8 560.9 L81.1 561.0 L81.4 561.2 L81.6 561.3 L81.9 561.4 L82.2 561.5 L82.5 561.6 L82.8 561.7 L83.0 561.8 L83.3 561.9 L83.6 562.0 L83.9 562.1 L84.2 562.2 L84.4 562.3 L84.7 562.4 L85.0 562.5 L85.3 562.6 L85.6 562.7 L85.8 562.8 L86.1 562.9 L86.4 563.0 L86.7 563.1 L87.0 563.1 L87.2 563.2 L87.5 563.3 L87.8 563.4 L88.1 563.5 L88.4 563.5 L88.6 563.6 L88.9 563.7 L89.2 563.8 L89.5 563.8 L89.8 563.9 L90.0 564.0 L90.3 564.0 L90.6 564.1 L90.9 564.2 L91.2 564.2 L91.4 564.3 L91.7 564.4 L92.0 564.4 L92.3 564.5 L92.6 564.6 L92.9 564.6 L93.1 564.7 L93.4 564.7 L93.7 564.8 L94.0 564.8 L94.3 564.9 L94.5 564.9 L94.8 565.0 L95.1 565.0 L95.4 565.1 L95.7 565.1 L95.9 565.2 L96.2 565.2 L96.5 565.3 L96.8 565.3 L97.1 565.4 L97.3 565.4 L97.6 565.5 L97.9 565.5 L98.2 565.5 L98.5 565.6 L98.7 565.6 L99.0 565.7 L99.3 565.7 L99.6 565.7 L99.9 559.1 L100.1 551.2 L100.4 543.5 L100.7 536.1 L101.0 529.0 L101.3 522.4 L101.5 516.4 L101.8 511.0 L102.1 506.3 L102.4 502.4 L102.7 499.3 L102.9 497.1 L103.2 495.7 L103.5 495.2 L103.8 496.5 L104.1 497.7 L104.3 499.0 L104.6 500.2 L104.9 501.3 L105.2 502.5 L105.5 503.6 L105.7 504.7 L106.0 505.8 L106.3 506.9 L106.6 508.0 L106.9 509.0 L107.1 510.0 L107.4 511.0 L107.7 512.0 L108.0 513.0 L108.3 513.9 L108.5 514.9 L108.8 515.8 L109.1 516.7 L109.4 517.6 L109.7 518.5 L109.9 519.3 L110.2 520.2 L110.5 521.0 L110.8 521.8 L111.1 522.6 L111.3 523.4 L111.6 524.2 L111.9 524.9 L112.2 525.7 L112.5 526.4 L112.7 527.1 L113.0 527.8 L113.3 528.5 L113.6 529.2 L113.9 529.9 L114.1 530.5 L114.4 531.2 L114.7 531.8 L115.0 532.4 L115.3 533.1 L115.5 533.7 L115.8 534.3 L116.1 534.8 L116.4 535.4 L116.7 536.0 L116.9 536.5 L117.2 537.1 L117.5 537.6 L117.8 538.1 L118.1 538.7 L118.3 539.2 L118.6 539.7 L118.9 540.2 L119.2 540.6 L119.5 541.1 L119.7 541.6 L120.0 542.0 L120.3 542.5 L120.6 542.9 L120.9 543.4 L121.1 543.8 L121.4 544.2 L121.7 544.6 L122.0 545.0 L122.3 545.4 L122.5 545.8 L122.8 546.2 L123.1 546.6 L123.4 546.9 L123.7 547.3 L123.9 547.7 L124.2 548.0 L124.5 548.3 L124.8 548.7 L125.1 549.0 L125.3 549.3 L125.6 549.7 L125.9 550.0 L126.2 550.3 L126.5 550.6 L126.8 550.9 L127.0 551.2 L127.3 551.5 L127.6 551.8 L127.9 552.1 L128.2 552.3 L128.4 552.6 L128.7 552.9 L129.0 553.1 L129.3 553.4 L129.6 553.6 L129.8 553.9 L130.1 554.1 L130.4 554.4 L130.7 554.6 L131.0 554.8 L131.2 555.1 L131.5 555.3 L131.8 555.5 L132.1 555.7 L132.4 555.9 L132.6 556.1 L132.9 556.3 L133.2 556.5 L133.5 556.7 L133.8 556.9 L134.0 557.1 L134.3 557.3 L134.6 557.5 L134.9 557.7 L135.2 557.8 L135.4 558.0 L135.7 558.2 L136.0 558.4 L136.3 558.5 L136.6 558.7 L136.8 558.8 L137.1 559.0 L137.4 559.2 L137.7 559.3 L138.0 559.5 L138.2 559.6 L138.5 559.8 L138.8 559.9 L139.1 560.0 L139.4 560.2 L139.6 560.3 L139.9 560.4 L140.2 560.6 L140.5 560.7 L140.8 560.8 L141.0 560.9 L141.3 561.1 L141.6 561.2 L141.9 561.3 L142.2 561.4 L142.4 561.5 L142.7 561.6 L143.0 561.7 L143.3 561.8 L143.6 562.0 L143.8 562.1 L144.1 562.2 L144.4 562.3 L144.7 562.4 L145.0 562.5 L145.2 562.5 L145.5 562.6 L145.8 562.7 L146.1 562.8 L146.4 562.9 L146.6 563.0 L146.9 563.1 L147.2 563.2 L147.5 563.2 L147.8 563.3 L148.0 563.4 L148.3 563.5 L148.6 563.6 L148.9 563.6 L149.2 563.7 L149.4 563.8 L149.7 563.9 L150.0 563.9 L150.3 564.0 L150.6 564.1 L150.8 564.1 L151.1 564.2 L151.4 564.3 L151.7 564.3 L152.0 564.4 L152.2 564.4 L152.5 564.5 L152.8 564.6 L153.1 564.6 L153.4 564.7 L153.6 564.7 L153.9 564.8 L154.2 564.8 L154.5 564.9 L154.8 564.9 L155.0 565.0 L155.3 565.0 L155.6 565.1 L155.9 565.1 L156.2 565.2 L156.4 565.2 L156.7 565.3 L157.0 565.3 L157.3 565.4 L157.6 565.4 L157.8 565.5 L158.1 565.5 L158.4 565.5 L158.7 565.6 L159.0 565.6 L159.3 565.7 L159.5 565.7 L159.8 565.7 L160.1 565.8 L160.4 559.1 L160.7 551.2 L160.9 543.5 L161.2 536.1 L161.5 529.0 L161.8 522.4 L162.1 516.4 L162.3 511.0 L162.6 506.3 L162.9 502.4 L163.2 499.3 L163.5 497.1 L163.7 495.7 L164.0 495.2 L164.3 496.5 L164.6 497.7 L164.9 499.0 L165.1 500.2 L165.4 501.3 L165.7 502.5 L166.0 503.6 L166.3 504.7 L166.5 505.8 L166.8 506.9 L167.1 508.0 L167.4 509.0 L167.7 510.0 L167.9 511.0 L168.2 512.0 L168.5 513.0 L168.8 513.9 L169.1 514.9 L169.3 515.8 L169.6 516.7 L169.9 517.6 L170.2 518.5 L170.5 519.3 L170.7 520.2 L171.0 521.0 L171.3 521.8 L171.6 522.6 L171.9 523.4 L172.1 524.2 L172.4 524.9 L172.7 525.7 L173.0 526.4 L173.3 527.1 L173.5 527.8 L173.8 528.5 L174.1 529.2 L174.4 529.9 L174.7 530.5 L174.9 531.2 L175.2 531.8 L175.5 532.4 L175.8 533.1 L176.1 533.7 L176.3 534.3 L176.6 534.8 L176.9 535.4 L177.2 536.0 L177.5 536.5 L177.7 537.1 L178.0 537.6 L178.3 538.1 L178.6 538.7 L178.9 539.2 L179.1 539.7 L179.4 540.2 L179.7 540.6 L180.0 541.1 L180.3 541.6 L180.5 542.0 L180.8 542.5 L181.1 542.9 L181.4 543.4 L181.7 543.8 L181.9 544.2 L182.2 544.6 L182.5 545.0 L182.8 545.4 L183.1 545.8 L183.3 546.2 L183.6 546.6 L183.9 546.9 L184.2 547.3 L184.5 547.7 L184.7 548.0 L185.0 548.3 L185.3 548.7 L185.6 549.0 L185.9 549.3 L186.1 549.7 L186.4 550.0 L186.7 550.3 L187.0 550.6 L187.3 550.9 L187.5 551.2 L187.8 551.5 L188.1 551.8 L188.4 552.1 L188.7 552.3 L188.9 552.6 L189.2 552.9 L189.5 553.1 L189.8 553.4 L190.1 553.6 L190.3 553.9 L190.6 554.1 L190.9 554.4 L191.2 554.6 L191.5 554.8 L191.7 555.1 L192.0 555.3 L192.3 555.5 L192.6 555.7 L192.9 555.9 L193.2 556.1 L193.4 556.3 L193.7 556.5 L194.0 556.7 L194.3 556.9 L194.6 557.1 L194.8 557.3 L195.1 557.5 L195.4 557.7 L195.7 557.8 L196.0 558.0 L196.2 558.2 L196.5 558.4 L196.8 558.5 L197.1 558.7 L197.4 558.8 L197.6 559.0 L197.9 559.2 L198.2 559.3 L198.5 559.5 L198.8 559.6 L199.0 559.8 L199.3 559.9 L199.6 560.0 L199.9 560.2 L200.2 560.3 L200.4 560.4 L200.7 560.6 L201.0 560.7 L201.3 560.8 L201.6 560.9 L201.8 561.1 L202.1 561.2 L202.4 561.3 L202.7 561.4 L203.0 561.5 L203.2 561.6 L203.5 561.7 L203.8 561.8 L204.1 562.0 L204.4 562.1 L204.6 562.2 L204.9 562.3 L205.2 562.4 L205.5 562.5 L205.8 562.5 L206.0 562.6 L206.3 562.7 L206.6 562.8 L206.9 562.9 L207.2 563.0 L207.4 563.1 L207.7 563.2 L208.0 563.2 L208.3 563.3 L208.6 563.4 L208.8 563.5 L209.1 563.6 L209.4 563.6" fill="none" stroke="#0d6b92" stroke-width="4.40" stroke-linecap="round" stroke-linejoin="round"/>
<path d="M41.3 544.6 L41.8 568.5 L42.1 568.5 L42.4 568.5 L42.7 568.5 L43.0 568.5 L43.3 568.5 L43.5 568.5 L43.8 568.5 L44.1 568.5 L44.4 568.5 L44.7 568.5 L44.9 568.5 L45.2 568.5 L45.5 568.5 L45.8 568.5 L46.1 568.5 L46.3 568.5 L46.6 568.5 L46.9 568.5 L47.2 568.5 L47.5 568.5 L47.7 568.5 L48.0 568.5 L48.3 568.5 L48.6 568.5 L48.9 568.5 L49.1 568.5 L49.4 568.5 L49.7 568.5 L50.0 568.5 L50.3 568.5 L50.5 568.5 L50.8 568.5 L51.1 568.5 L51.4 568.5 L51.7 568.5 L51.9 568.5 L52.2 568.5 L52.5 568.5 L52.8 568.5 L53.1 568.5 L53.3 568.5 L53.6 568.5 L53.9 568.5 L54.2 568.5 L54.5 568.5 L54.7 568.5 L55.0 568.5 L55.3 568.5 L55.6 568.5 L55.9 568.5 L56.1 568.5 L56.4 568.5 L56.7 568.5 L57.0 568.5 L57.3 568.5 L57.5 568.5 L57.8 568.5 L58.1 568.5 L58.4 568.5 L58.7 568.5 L59.0 568.5 L59.2 568.5 L59.5 568.5 L59.8 568.5 L60.1 568.5 L60.4 568.5 L60.6 568.5 L60.9 568.5 L61.2 568.5 L61.5 568.5 L61.8 568.5 L62.0 568.5 L62.3 568.5 L62.6 568.5 L62.9 568.5 L63.2 568.5 L63.4 568.5 L63.7 568.5 L64.0 568.5 L64.3 568.5 L64.6 568.5 L64.8 568.5 L65.1 568.5 L65.4 568.5 L65.7 568.5 L66.0 568.5 L66.2 568.5 L66.5 568.5 L66.8 568.5 L67.1 568.5 L67.4 568.5 L67.6 568.5 L67.9 568.5 L68.2 568.5 L68.5 568.5 L68.8 568.5 L69.0 568.5 L69.3 568.5 L69.6 568.5 L69.9 568.5 L70.2 568.5 L70.4 568.5 L70.7 568.5 L71.0 568.5 L71.3 568.5 L71.6 568.5 L71.8 568.5 L72.1 568.5 L72.4 568.5 L72.7 568.5 L73.0 568.5 L73.2 568.5 L73.5 568.5 L73.8 568.5 L74.1 568.5 L74.4 568.5 L74.6 568.5 L74.9 568.5 L75.2 568.5 L75.5 568.5 L75.8 568.5 L76.0 568.5 L76.3 568.5 L76.6 568.5 L76.9 568.5 L77.2 568.5 L77.4 568.5 L77.7 568.5 L78.0 568.5 L78.3 568.5 L78.6 568.5 L78.8 568.5 L79.1 568.5 L79.4 568.5 L79.7 568.5 L80.0 568.5 L80.2 568.5 L80.5 568.5 L80.8 568.5 L81.1 568.5 L81.4 568.5 L81.6 568.5 L81.9 568.5 L82.2 568.5 L82.5 568.5 L82.8 568.5 L83.0 568.5 L83.3 568.5 L83.6 568.5 L83.9 568.5 L84.2 568.5 L84.4 568.5 L84.7 568.5 L85.0 568.5 L85.3 568.5 L85.6 568.5 L85.8 568.5 L86.1 568.5 L86.4 568.5 L86.7 568.5 L87.0 568.5 L87.2 568.5 L87.5 568.5 L87.8 568.5 L88.1 568.5 L88.4 568.5 L88.6 568.5 L88.9 568.5 L89.2 568.5 L89.5 568.5 L89.8 568.5 L90.0 568.5 L90.3 568.5 L90.6 568.5 L90.9 568.5 L91.2 568.5 L91.4 568.5 L91.7 568.5 L92.0 568.5 L92.3 568.5 L92.6 568.5 L92.9 568.5 L93.1 568.5 L93.4 568.5 L93.7 568.5 L94.0 568.5 L94.3 568.5 L94.5 568.5 L94.8 568.5 L95.1 568.5 L95.4 568.5 L95.7 568.5 L95.9 568.5 L96.2 568.5 L96.5 568.5 L96.8 568.5 L97.1 568.5 L97.3 568.5 L97.6 568.4 L97.9 568.4 L98.2 568.2 L98.5 567.8 L98.7 567.2 L99.0 566.1 L99.3 564.2 L99.6 561.4 L99.9 557.4 L100.1 552.0 L100.4 545.4 L100.7 537.8 L101.0 529.9 L101.3 522.7 L101.5 517.0 L101.8 513.7 L102.1 513.4 L102.4 516.1 L102.7 521.4 L102.9 528.4 L103.2 536.2 L103.5 543.9 L103.8 550.8 L104.1 556.4 L104.3 560.7 L104.6 563.7 L104.9 565.8 L105.2 567.0 L105.5 567.7 L105.7 568.1 L106.0 568.3 L106.3 568.4 L106.6 568.5 L106.9 568.5 L107.1 568.5 L107.4 568.5 L107.7 568.5 L108.0 568.5 L108.3 568.5 L108.5 568.5 L108.8 568.5 L109.1 568.5 L109.4 568.5 L109.7 568.5 L109.9 568.5 L110.2 568.5 L110.5 568.5 L110.8 568.5 L111.1 568.5 L111.3 568.5 L111.6 568.5 L111.9 568.5 L112.2 568.5 L112.5 568.5 L112.7 568.5 L113.0 568.5 L113.3 568.5 L113.6 568.5 L113.9 568.5 L114.1 568.5 L114.4 568.5 L114.7 568.5 L115.0 568.5 L115.3 568.5 L115.5 568.5 L115.8 568.5 L116.1 568.5 L116.4 568.5 L116.7 568.5 L116.9 568.5 L117.2 568.5 L117.5 568.5 L117.8 568.5 L118.1 568.5 L118.3 568.5 L118.6 568.5 L118.9 568.5 L119.2 568.5 L119.5 568.5 L119.7 568.5 L120.0 568.5 L120.3 568.5 L120.6 568.5 L120.9 568.5 L121.1 568.5 L121.4 568.5 L121.7 568.5 L122.0 568.5 L122.3 568.5 L122.5 568.5 L122.8 568.5 L123.1 568.5 L123.4 568.5 L123.7 568.5 L123.9 568.5 L124.2 568.5 L124.5 568.5 L124.8 568.5 L125.1 568.5 L125.3 568.5 L125.6 568.5 L125.9 568.5 L126.2 568.5 L126.5 568.5 L126.8 568.5 L127.0 568.5 L127.3 568.5 L127.6 568.5 L127.9 568.5 L128.2 568.5 L128.4 568.5 L128.7 568.5 L129.0 568.5 L129.3 568.5 L129.6 568.5 L129.8 568.5 L130.1 568.5 L130.4 568.5 L130.7 568.5 L131.0 568.5 L131.2 568.5 L131.5 568.5 L131.8 568.5 L132.1 568.5 L132.4 568.5 L132.6 568.5 L132.9 568.5 L133.2 568.5 L133.5 568.5 L133.8 568.5 L134.0 568.5 L134.3 568.5 L134.6 568.5 L134.9 568.5 L135.2 568.5 L135.4 568.5 L135.7 568.5 L136.0 568.5 L136.3 568.5 L136.6 568.5 L136.8 568.5 L137.1 568.5 L137.4 568.5 L137.7 568.5 L138.0 568.5 L138.2 568.5 L138.5 568.5 L138.8 568.5 L139.1 568.5 L139.4 568.5 L139.6 568.5 L139.9 568.5 L140.2 568.5 L140.5 568.5 L140.8 568.5 L141.0 568.5 L141.3 568.5 L141.6 568.5 L141.9 568.5 L142.2 568.5 L142.4 568.5 L142.7 568.5 L143.0 568.5 L143.3 568.5 L143.6 568.5 L143.8 568.5 L144.1 568.5 L144.4 568.5 L144.7 568.5 L145.0 568.5 L145.2 568.5 L145.5 568.5 L145.8 568.5 L146.1 568.5 L146.4 568.5 L146.6 568.5 L146.9 568.5 L147.2 568.5 L147.5 568.5 L147.8 568.5 L148.0 568.5 L148.3 568.5 L148.6 568.5 L148.9 568.5 L149.2 568.5 L149.4 568.5 L149.7 568.5 L150.0 568.5 L150.3 568.5 L150.6 568.5 L150.8 568.5 L151.1 568.5 L151.4 568.5 L151.7 568.5 L152.0 568.5 L152.2 568.5 L152.5 568.5 L152.8 568.5 L153.1 568.5 L153.4 568.5 L153.6 568.5 L153.9 568.5 L154.2 568.5 L154.5 568.5 L154.8 568.5 L155.0 568.5 L155.3 568.5 L155.6 568.5 L155.9 568.5 L156.2 568.5 L156.4 568.5 L156.7 568.5 L157.0 568.5 L157.3 568.5 L157.6 568.5 L157.8 568.5 L158.1 568.4 L158.4 568.4 L158.7 568.2 L159.0 567.8 L159.3 567.2 L159.5 566.1 L159.8 564.2 L160.1 561.4 L160.4 557.4 L160.7 552.0 L160.9 545.4 L161.2 537.8 L161.5 529.9 L161.8 522.7 L162.1 517.0 L162.3 513.7 L162.6 513.4 L162.9 516.1 L163.2 521.4 L163.5 528.4 L163.7 536.2 L164.0 543.9 L164.3 550.8 L164.6 556.4 L164.9 560.7 L165.1 563.7 L165.4 565.8 L165.7 567.0 L166.0 567.7 L166.3 568.1 L166.5 568.3 L166.8 568.4 L167.1 568.5 L167.4 568.5 L167.7 568.5 L167.9 568.5 L168.2 568.5 L168.5 568.5 L168.8 568.5 L169.1 568.5 L169.3 568.5 L169.6 568.5 L169.9 568.5 L170.2 568.5 L170.5 568.5 L170.7 568.5 L171.0 568.5 L171.3 568.5 L171.6 568.5 L171.9 568.5 L172.1 568.5 L172.4 568.5 L172.7 568.5 L173.0 568.5 L173.3 568.5 L173.5 568.5 L173.8 568.5 L174.1 568.5 L174.4 568.5 L174.7 568.5 L174.9 568.5 L175.2 568.5 L175.5 568.5 L175.8 568.5 L176.1 568.5 L176.3 568.5 L176.6 568.5 L176.9 568.5 L177.2 568.5 L177.5 568.5 L177.7 568.5 L178.0 568.5 L178.3 568.5 L178.6 568.5 L178.9 568.5 L179.1 568.5 L179.4 568.5 L179.7 568.5 L180.0 568.5 L180.3 568.5 L180.5 568.5 L180.8 568.5 L181.1 568.5 L181.4 568.5 L181.7 568.5 L181.9 568.5 L182.2 568.5 L182.5 568.5 L182.8 568.5 L183.1 568.5 L183.3 568.5 L183.6 568.5 L183.9 568.5 L184.2 568.5 L184.5 568.5 L184.7 568.5 L185.0 568.5 L185.3 568.5 L185.6 568.5 L185.9 568.5 L186.1 568.5 L186.4 568.5 L186.7 568.5 L187.0 568.5 L187.3 568.5 L187.5 568.5 L187.8 568.5 L188.1 568.5 L188.4 568.5 L188.7 568.5 L188.9 568.5 L189.2 568.5 L189.5 568.5 L189.8 568.5 L190.1 568.5 L190.3 568.5 L190.6 568.5 L190.9 568.5 L191.2 568.5 L191.5 568.5 L191.7 568.5 L192.0 568.5 L192.3 568.5 L192.6 568.5 L192.9 568.5 L193.2 568.5 L193.4 568.5 L193.7 568.5 L194.0 568.5 L194.3 568.5 L194.6 568.5 L194.8 568.5 L195.1 568.5 L195.4 568.5 L195.7 568.5 L196.0 568.5 L196.2 568.5 L196.5 568.5 L196.8 568.5 L197.1 568.5 L197.4 568.5 L197.6 568.5 L197.9 568.5 L198.2 568.5 L198.5 568.5 L198.8 568.5 L199.0 568.5 L199.3 568.5 L199.6 568.5 L199.9 568.5 L200.2 568.5 L200.4 568.5 L200.7 568.5 L201.0 568.5 L201.3 568.5 L201.6 568.5 L201.8 568.5 L202.1 568.5 L202.4 568.5 L202.7 568.5 L203.0 568.5 L203.2 568.5 L203.5 568.5 L203.8 568.5 L204.1 568.5 L204.4 568.5 L204.6 568.5 L204.9 568.5 L205.2 568.5 L205.5 568.5 L205.8 568.5 L206.0 568.5 L206.3 568.5 L206.6 568.5 L206.9 568.5 L207.2 568.5 L207.4 568.5 L207.7 568.5 L208.0 568.5 L208.3 568.5 L208.6 568.5 L208.8 568.5 L209.1 568.5 L209.4 568.5" fill="none" stroke="#a8a21f" stroke-width="4.40" stroke-linecap="round" stroke-linejoin="round"/>
<rect x="33.5" y="444.5" width="184.0" height="131.0" fill="none" stroke="#9a9a9a" stroke-width="1"/>
<path d="M41.3 575.5 v3.8" stroke="#222" stroke-width="1.2"/>
<text x="41.3" y="590.5" font-family="&quot;Liberation Sans&quot;, Arial, sans-serif" font-size="14.80" font-weight="normal" fill="#1a1a1a" text-anchor="middle" >0</text>
<path d="M83.3 575.5 v3.8" stroke="#222" stroke-width="1.2"/>
<text x="83.3" y="590.5" font-family="&quot;Liberation Sans&quot;, Arial, sans-serif" font-size="14.80" font-weight="normal" fill="#1a1a1a" text-anchor="middle" >25</text>
<path d="M125.3 575.5 v3.8" stroke="#222" stroke-width="1.2"/>
<text x="125.3" y="590.5" font-family="&quot;Liberation Sans&quot;, Arial, sans-serif" font-size="14.80" font-weight="normal" fill="#1a1a1a" text-anchor="middle" >50</text>
<path d="M167.4 575.5 v3.8" stroke="#222" stroke-width="1.2"/>
<text x="167.4" y="590.5" font-family="&quot;Liberation Sans&quot;, Arial, sans-serif" font-size="14.80" font-weight="normal" fill="#1a1a1a" text-anchor="middle" >75</text>
<path d="M209.4 575.5 v3.8" stroke="#222" stroke-width="1.2"/>
<text x="209.4" y="590.5" font-family="&quot;Liberation Sans&quot;, Arial, sans-serif" font-size="14.80" font-weight="normal" fill="#1a1a1a" text-anchor="middle" >100</text>
<path d="M33.5 568.5 h-3.8" stroke="#222" stroke-width="1.2"/>
<text x="27.5" y="574.2" font-family="&quot;Liberation Sans&quot;, Arial, sans-serif" font-size="14.80" font-weight="normal" fill="#1a1a1a" text-anchor="end" >0</text>
<path d="M33.5 538.6 h-3.8" stroke="#222" stroke-width="1.2"/>
<text x="27.5" y="544.3" font-family="&quot;Liberation Sans&quot;, Arial, sans-serif" font-size="14.80" font-weight="normal" fill="#1a1a1a" text-anchor="end" >1</text>
<path d="M33.5 508.7 h-3.8" stroke="#222" stroke-width="1.2"/>
<text x="27.5" y="514.4" font-family="&quot;Liberation Sans&quot;, Arial, sans-serif" font-size="14.80" font-weight="normal" fill="#1a1a1a" text-anchor="end" >2</text>
<path d="M33.5 478.8 h-3.8" stroke="#222" stroke-width="1.2"/>
<text x="27.5" y="484.5" font-family="&quot;Liberation Sans&quot;, Arial, sans-serif" font-size="14.80" font-weight="normal" fill="#1a1a1a" text-anchor="end" >3</text>
<path d="M33.5 448.9 h-3.8" stroke="#222" stroke-width="1.2"/>
<text x="27.5" y="454.6" font-family="&quot;Liberation Sans&quot;, Arial, sans-serif" font-size="14.80" font-weight="normal" fill="#1a1a1a" text-anchor="end" >4</text>
<text x="125.0" y="605.5" font-family="&quot;Liberation Sans&quot;, Arial, sans-serif" font-size="15.00" font-weight="normal" fill="#111" text-anchor="middle" textLength="67" lengthAdjust="spacingAndGlyphs">Time (AU)</text>
<text transform="translate(12.4,508.3) rotate(-90)" text-anchor="middle" font-family="&quot;Liberation Sans&quot;, Arial, sans-serif" font-size="15" fill="#111" textLength="129.5" lengthAdjust="spacingAndGlyphs">Concentration (AU)</text>
<text x="233.0" y="476.5" font-family="&quot;Liberation Sans&quot;, Arial, sans-serif" font-size="18.60" font-weight="bold" fill="#000" text-anchor="start" >Form</text>
<rect x="234" y="482.0" width="18.5" height="19.2" fill="#fefdfd" stroke="#d6d0d0" stroke-width="1"/>
<path d="M235.7 491.8 H251" stroke="#ae0535" stroke-width="4.5"/>
<text x="255.4" y="498.1" font-family="&quot;Liberation Sans&quot;, Arial, sans-serif" font-size="17.50" font-weight="normal" fill="#111" text-anchor="start" >OO</text>
<rect x="234" y="501.2" width="18.5" height="19.2" fill="#fefdfd" stroke="#d6d0d0" stroke-width="1"/>
<path d="M235.7 511.0 H251" stroke="#666666" stroke-width="4.5"/>
<text x="255.4" y="517.3" font-family="&quot;Liberation Sans&quot;, Arial, sans-serif" font-size="17.50" font-weight="normal" fill="#111" text-anchor="start" >PO</text>
<rect x="234" y="520.4" width="18.5" height="19.2" fill="#fefdfd" stroke="#d6d0d0" stroke-width="1"/>
<path d="M235.7 530.2 H251" stroke="#0d6b92" stroke-width="4.5"/>
<text x="255.4" y="536.5" font-family="&quot;Liberation Sans&quot;, Arial, sans-serif" font-size="17.50" font-weight="normal" fill="#111" text-anchor="start" >PP</text>
<rect x="234" y="539.6" width="18.5" height="19.2" fill="#fefdfd" stroke="#d6d0d0" stroke-width="1"/>
<path d="M235.7 549.4 H251" stroke="#a8a21f" stroke-width="4.5"/>
<text x="255.4" y="555.7" font-family="&quot;Liberation Sans&quot;, Arial, sans-serif" font-size="17.50" font-weight="normal" fill="#111" text-anchor="start" >OP</text>
<text x="310.8" y="214.4" font-family="&quot;Liberation Sans&quot;, Arial, sans-serif" font-size="28.00" font-weight="bold" fill="#000" text-anchor="start" >c</text>
<rect x="348.2" y="216.4" width="111.5" height="19.6" fill="#d2cdcd" stroke="#a29e9e" stroke-width="0.9"/>
<path d="M351.0 232.2 L392.7 220.3 L377.8 219.6" fill="none" stroke="#0d6b92" stroke-width="2.5" stroke-linejoin="bevel"/>
<text x="396.0" y="230.8" font-family="&quot;Liberation Sans&quot;, Arial, sans-serif" font-size="14.00" font-weight="normal" fill="#111" text-anchor="start" >p0</text>
<rect x="348.2" y="236.3" width="111.5" height="67.4" fill="#fff"/>
<path d="M369.9 236.3 V303.7" stroke="#fdf1f2" stroke-width="0.6"/>
<path d="M403.9 236.3 V303.7" stroke="#fdf1f2" stroke-width="0.6"/>
<path d="M437.9 236.3 V303.7" stroke="#fdf1f2" stroke-width="0.6"/>
<path d="M348.2 293.3 H459.7" stroke="#fdf1f2" stroke-width="0.6"/>
<path d="M348.2 277.8 H459.7" stroke="#fdf1f2" stroke-width="0.6"/>
<path d="M348.2 262.2 H459.7" stroke="#fdf1f2" stroke-width="0.6"/>
<path d="M348.2 246.7 H459.7" stroke="#fdf1f2" stroke-width="0.6"/>
<path d="M352.9 236.3 V303.7" stroke="#efebeb" stroke-width="0.9"/>
<path d="M386.9 236.3 V303.7" stroke="#efebeb" stroke-width="0.9"/>
<path d="M420.9 236.3 V303.7" stroke="#efebeb" stroke-width="0.9"/>
<path d="M454.9 236.3 V303.7" stroke="#efebeb" stroke-width="0.9"/>
<path d="M348.2 301.1 H459.7" stroke="#efebeb" stroke-width="0.9"/>
<path d="M348.2 285.6 H459.7" stroke="#efebeb" stroke-width="0.9"/>
<path d="M348.2 270.0 H459.7" stroke="#efebeb" stroke-width="0.9"/>
<path d="M348.2 254.5 H459.7" stroke="#efebeb" stroke-width="0.9"/>
<path d="M348.2 238.9 H459.7" stroke="#efebeb" stroke-width="0.9"/>
<clipPath id="cc00"><rect x="348.2" y="236.3" width="111.5" height="67.4"/></clipPath>
<path d="M352.9 279.6 L353.2 279.4 L353.5 279.1 L353.9 278.8 L354.3 278.5 L354.8 278.1 L355.3 277.6 L355.9 277.2 L356.4 276.8 L357.0 276.3 L357.6 275.9 L358.1 275.5 L358.7 275.1 L359.2 274.7 L359.7 274.4 L360.2 274.0 L360.7 273.8 L361.1 273.5 L361.6 273.2 L362.0 272.9 L362.5 272.7 L363.0 272.5 L363.4 272.2 L363.9 272.0 L364.4 271.8 L364.9 271.6 L365.4 271.3 L366.0 271.1 L366.5 270.9 L367.1 270.7 L367.6 270.5 L368.2 270.3 L368.9 270.1 L369.5 269.9 L370.1 269.8 L370.8 269.6 L371.4 269.4 L372.0 269.3 L372.7 269.1 L373.4 269.0 L374.0 268.8 L374.7 268.7 L375.3 268.6 L376.0 268.5 L376.7 268.4 L377.3 268.3 L378.0 268.3 L378.7 268.2 L379.4 268.2 L380.1 268.2 L380.8 268.1 L381.5 268.1 L382.2 268.1 L382.9 268.1 L383.5 268.1 L384.2 268.1 L384.9 268.1 L385.5 268.2 L386.1 268.2 L386.8 268.2 L387.4 268.3 L388.0 268.3 L388.6 268.4 L389.2 268.5 L389.8 268.6 L390.4 268.6 L391.0 268.7 L391.7 268.8 L392.3 269.0 L393.0 269.1 L393.7 269.2 L394.4 269.4 L395.2 269.5 L395.9 269.7 L396.7 269.8 L397.5 270.0 L398.3 270.2 L399.2 270.4 L400.0 270.6 L400.8 270.8 L401.6 271.0 L402.5 271.3 L403.3 271.5 L404.1 271.8 L404.9 272.0 L405.7 272.3 L406.5 272.6 L407.3 272.8 L408.1 273.1 L408.9 273.4 L409.7 273.8 L410.5 274.1 L411.3 274.4 L412.1 274.7 L412.9 275.1 L413.7 275.4 L414.5 275.8 L415.3 276.2 L416.1 276.5 L416.9 276.9 L417.7 277.3 L418.5 277.7 L419.3 278.1 L420.1 278.5 L420.9 278.9 L421.6 279.3 L422.4 279.7 L423.3 280.1 L424.1 280.6 L424.9 281.0 L425.8 281.5 L426.7 282.0 L427.7 282.4 L428.7 282.9 L429.8 283.5 L430.9 284.0 L432.0 284.6 L433.2 285.2 L434.3 285.7 L435.5 286.3 L436.7 286.9 L437.9 287.5 L439.0 288.0 L440.2 288.6 L441.3 289.1 L442.3 289.6 L443.3 290.1 L444.3 290.5 L445.3 290.9 L446.3 291.3 L447.3 291.7 L448.2 292.1 L449.2 292.5 L450.1 292.9 L451.0 293.2 L451.8 293.5 L452.6 293.8 L453.3 294.1 L453.9 294.3 L454.4 294.5 L454.9 294.7" fill="none" stroke="#ae0535" stroke-width="5.30" stroke-linecap="butt" stroke-linejoin="round" clip-path="url(#cc00)"/>
<path d="M352.9 301.1 L454.9 295.5" fill="none" stroke="#0d6b92" stroke-width="5.30" stroke-linecap="butt" stroke-linejoin="round" clip-path="url(#cc00)"/>
<rect x="348.2" y="236.3" width="111.5" height="67.4" fill="none" stroke="#9a9a9a" stroke-width="1"/>
<path d="M348.2 301.1 h-5.5" stroke="#222" stroke-width="1.3"/>
<text x="340.6" y="306.6" font-family="&quot;Liberation Sans&quot;, Arial, sans-serif" font-size="15.40" font-weight="normal" fill="#111" text-anchor="end" >0</text>
<path d="M348.2 285.6 h-5.5" stroke="#222" stroke-width="1.3"/>
<text x="340.6" y="291.1" font-family="&quot;Liberation Sans&quot;, Arial, sans-serif" font-size="15.40" font-weight="normal" fill="#111" text-anchor="end" >1</text>
<path d="M348.2 270.0 h-5.5" stroke="#222" stroke-width="1.3"/>
<text x="340.6" y="275.5" font-family="&quot;Liberation Sans&quot;, Arial, sans-serif" font-size="15.40" font-weight="normal" fill="#111" text-anchor="end" >2</text>
<path d="M348.2 254.5 h-5.5" stroke="#222" stroke-width="1.3"/>
<text x="340.6" y="260.0" font-family="&quot;Liberation Sans&quot;, Arial, sans-serif" font-size="15.40" font-weight="normal" fill="#111" text-anchor="end" >3</text>
<path d="M348.2 238.9 h-5.5" stroke="#222" stroke-width="1.3"/>
<text x="340.6" y="244.4" font-family="&quot;Liberation Sans&quot;, Arial, sans-serif" font-size="15.40" font-weight="normal" fill="#111" text-anchor="end" >4</text>
<rect x="464.5" y="216.4" width="111.5" height="19.6" fill="#d2cdcd" stroke="#a29e9e" stroke-width="0.9"/>
<path d="M466.8 219.6 L509.2 231.8 L494.0 232.2" fill="none" stroke="#0d6b92" stroke-width="2.5" stroke-linejoin="bevel"/>
<text x="511.8" y="230.8" font-family="&quot;Liberation Sans&quot;, Arial, sans-serif" font-size="14.00" font-weight="normal" fill="#111" text-anchor="start" >p1</text>
<rect x="464.5" y="236.3" width="111.5" height="67.4" fill="#fff"/>
<path d="M486.2 236.3 V303.7" stroke="#fdf1f2" stroke-width="0.6"/>
<path d="M520.2 236.3 V303.7" stroke="#fdf1f2" stroke-width="0.6"/>
<path d="M554.2 236.3 V303.7" stroke="#fdf1f2" stroke-width="0.6"/>
<path d="M464.5 293.3 H576.0" stroke="#fdf1f2" stroke-width="0.6"/>
<path d="M464.5 277.8 H576.0" stroke="#fdf1f2" stroke-width="0.6"/>
<path d="M464.5 262.2 H576.0" stroke="#fdf1f2" stroke-width="0.6"/>
<path d="M464.5 246.7 H576.0" stroke="#fdf1f2" stroke-width="0.6"/>
<path d="M469.2 236.3 V303.7" stroke="#efebeb" stroke-width="0.9"/>
<path d="M503.2 236.3 V303.7" stroke="#efebeb" stroke-width="0.9"/>
<path d="M537.2 236.3 V303.7" stroke="#efebeb" stroke-width="0.9"/>
<path d="M571.2 236.3 V303.7" stroke="#efebeb" stroke-width="0.9"/>
<path d="M464.5 301.1 H576.0" stroke="#efebeb" stroke-width="0.9"/>
<path d="M464.5 285.6 H576.0" stroke="#efebeb" stroke-width="0.9"/>
<path d="M464.5 270.0 H576.0" stroke="#efebeb" stroke-width="0.9"/>
<path d="M464.5 254.5 H576.0" stroke="#efebeb" stroke-width="0.9"/>
<path d="M464.5 238.9 H576.0" stroke="#efebeb" stroke-width="0.9"/>
<clipPath id="cc01"><rect x="464.5" y="236.3" width="111.5" height="67.4"/></clipPath>
<path d="M486.9 300.8 L571.2 300.8" fill="none" stroke="#ae0535" stroke-width="4.40" stroke-linecap="butt" stroke-linejoin="round" stroke-dasharray="2.5 3.9 9 3.9" clip-path="url(#cc01)"/>
<path d="M484.8 301.6 L571.2 301.6" fill="none" stroke="#0d6b92" stroke-width="3.30" stroke-linecap="butt" stroke-linejoin="round" stroke-dasharray="1.5 1.7" clip-path="url(#cc01)"/>
<path d="M482.8 285.6 L482.9 285.8 L482.9 286.0 L483.0 286.4 L483.1 286.7 L483.2 287.1 L483.3 287.5 L483.4 287.9 L483.5 288.4 L483.6 288.8 L483.7 289.3 L483.8 289.7 L483.9 290.2 L484.0 290.6 L484.2 291.0 L484.3 291.4 L484.4 291.8 L484.5 292.2 L484.6 292.6 L484.7 293.0 L484.8 293.4 L484.9 293.9 L485.0 294.3 L485.1 294.7 L485.3 295.1 L485.4 295.4 L485.5 295.8 L485.7 296.1 L485.9 296.4 L486.0 296.7 L486.3 297.0 L486.5 297.3 L486.7 297.6 L487.0 297.8 L487.2 298.1 L487.5 298.3 L487.8 298.6 L488.0 298.8 L488.2 299.0 L488.4 299.1 L488.6 299.3 L488.8 299.4 L488.9 299.5" fill="none" stroke="#ae0535" stroke-width="4.20" stroke-linecap="butt" stroke-linejoin="round" stroke-dasharray="3 2.5" clip-path="url(#cc01)"/>
<path d="M469.2 280.1 L469.4 280.1 L469.7 280.1 L470.0 280.1 L470.4 280.1 L470.8 280.1 L471.3 280.1 L471.7 280.1 L472.2 280.2 L472.6 280.2 L473.1 280.2 L473.5 280.2 L473.9 280.2 L474.3 280.2 L474.6 280.3 L474.9 280.3 L475.2 280.3 L475.5 280.3 L475.8 280.4 L476.0 280.4 L476.3 280.4 L476.5 280.5 L476.7 280.5 L477.0 280.6 L477.2 280.6 L477.4 280.7 L477.6 280.7 L477.8 280.8 L478.0 280.9 L478.3 281.0 L478.5 281.0 L478.7 281.1 L478.9 281.2 L479.1 281.3 L479.3 281.4 L479.5 281.5 L479.7 281.6 L479.9 281.7 L480.1 281.9 L480.2 282.0 L480.4 282.1 L480.6 282.3 L480.8 282.4 L480.9 282.6 L481.1 282.8 L481.2 283.0 L481.4 283.2 L481.5 283.4 L481.7 283.7 L481.8 283.9 L481.9 284.1 L482.1 284.4 L482.2 284.6 L482.3 284.9 L482.4 285.1 L482.6 285.3 L482.7 285.6 L482.8 285.8 L482.9 286.0 L483.0 286.3 L483.1 286.5 L483.2 286.8 L483.3 287.0 L483.4 287.3 L483.4 287.5 L483.5 287.8 L483.6 288.0 L483.7 288.2 L483.7 288.4 L483.8 288.5 L483.8 288.7" fill="none" stroke="#ae0535" stroke-width="5.20" stroke-linecap="butt" stroke-linejoin="round" clip-path="url(#cc01)"/>
<path d="M469.2 301.1 L469.4 301.1 L469.6 301.1 L469.8 301.0 L470.1 301.0 L470.4 301.0 L470.7 301.0 L471.0 300.9 L471.4 300.9 L471.7 300.9 L472.1 300.8 L472.4 300.8 L472.7 300.7 L473.0 300.7 L473.3 300.6 L473.5 300.6 L473.8 300.5 L474.0 300.4 L474.3 300.4 L474.5 300.3 L474.8 300.2 L475.0 300.2 L475.2 300.1 L475.4 300.0 L475.7 299.9 L475.9 299.8 L476.1 299.7 L476.3 299.6 L476.5 299.5 L476.8 299.4 L477.0 299.3 L477.2 299.2 L477.4 299.1 L477.6 299.0 L477.9 298.9 L478.1 298.8 L478.3 298.7 L478.5 298.6 L478.7 298.4 L478.9 298.3 L479.1 298.2 L479.2 298.1 L479.4 298.0 L479.6 297.9 L479.7 297.8 L479.8 297.7 L480.0 297.6 L480.1 297.5 L480.2 297.4 L480.3 297.3 L480.4 297.2 L480.6 297.1 L480.7 297.0 L480.8 296.9 L480.9 296.7 L481.0 296.6 L481.1 296.4 L481.2 296.3 L481.3 296.0 L481.5 295.8 L481.6 295.6 L481.7 295.3 L481.9 295.0 L482.0 294.8 L482.1 294.5 L482.2 294.3 L482.3 294.0 L482.4 293.8 L482.5 293.6 L482.6 293.5 L482.7 293.3" fill="none" stroke="#0d6b92" stroke-width="5.20" stroke-linecap="butt" stroke-linejoin="round" clip-path="url(#cc01)"/>
<path d="M485.9 280.4 L486.3 280.5 L486.8 280.7 L487.3 280.8 L487.9 281.0 L488.6 281.2 L489.3 281.3 L490.0 281.6 L490.8 281.8 L491.7 282.0 L492.6 282.2 L493.5 282.5 L494.4 282.7 L495.4 283.0 L496.4 283.2 L497.4 283.5 L498.5 283.7 L499.7 284.0 L500.9 284.3 L502.1 284.6 L503.4 285.0 L504.7 285.3 L506.0 285.6 L507.3 285.9 L508.7 286.2 L510.0 286.5 L511.4 286.8 L512.7 287.1 L514.1 287.4 L515.4 287.7 L516.8 288.0 L518.2 288.2 L519.5 288.5 L520.9 288.8 L522.4 289.1 L523.8 289.3 L525.2 289.6 L526.6 289.8 L528.1 290.1 L529.5 290.3 L530.9 290.6 L532.4 290.8 L533.8 291.0 L535.2 291.2 L536.7 291.4 L538.2 291.6 L539.7 291.8 L541.2 291.9 L542.7 292.1 L544.2 292.3 L545.7 292.4 L547.2 292.6 L548.6 292.8 L550.1 292.9 L551.5 293.0 L552.9 293.2 L554.2 293.3 L555.5 293.5 L556.9 293.6 L558.3 293.7 L559.6 293.9 L561.0 294.0 L562.3 294.1 L563.6 294.2 L564.9 294.4 L566.1 294.5 L567.2 294.6 L568.2 294.7 L569.1 294.7 L569.9 294.8 L570.5 294.9" fill="none" stroke="#0d6b92" stroke-width="4.60" stroke-linecap="butt" stroke-linejoin="round" stroke-dasharray="2.5 3.8 9 3.8" clip-path="url(#cc01)"/>
<path d="M483.1 299.5 L483.1 298.8 L483.1 298.0 L483.1 297.0 L483.1 295.9 L483.1 294.6 L483.1 293.3 L483.1 292.0 L483.1 290.6 L483.1 289.1 L483.1 287.7 L483.1 286.3 L483.1 285.0 L483.1 283.7 L483.1 282.4 L483.1 281.3 L483.1 280.0 L483.1 278.8 L483.1 277.6 L483.1 276.3 L483.1 275.1 L483.1 273.9 L483.2 272.7 L483.2 271.6 L483.2 270.5 L483.2 269.5 L483.2 268.5 L483.3 267.7 L483.3 266.9 L483.4 266.2 L483.5 265.6 L483.5 265.2 L483.6 264.7 L483.6 264.4 L483.7 264.1 L483.8 263.8 L483.9 263.6 L484.0 263.4 L484.1 263.2 L484.2 263.0 L484.4 262.7 L484.6 262.5 L484.8 262.2 L485.1 261.9 L485.4 261.6 L485.7 261.3 L486.1 261.0 L486.5 260.7 L486.9 260.5 L487.3 260.2 L487.7 259.9 L488.1 259.6 L488.6 259.4 L489.0 259.2 L489.4 258.9 L489.9 258.7 L490.3 258.5 L490.7 258.3 L491.1 258.1 L491.5 258.0 L491.9 257.8 L492.4 257.6 L492.8 257.5 L493.2 257.4 L493.6 257.3 L494.1 257.1 L494.5 257.0 L495.0 256.9 L495.4 256.8 L495.9 256.7 L496.4 256.6 L496.9 256.5 L497.3 256.4 L497.8 256.4 L498.3 256.3 L498.7 256.2 L499.2 256.1 L499.7 256.1 L500.2 256.0 L500.8 255.9 L501.3 255.9 L501.9 255.9 L502.5 255.9 L503.2 255.8 L503.9 255.8 L504.6 255.9 L505.4 255.9 L506.2 255.9 L507.0 255.9 L507.8 256.0 L508.7 256.0 L509.6 256.1 L510.5 256.2 L511.5 256.3 L512.5 256.4 L513.5 256.5 L514.5 256.6 L515.7 256.8 L516.8 256.9 L518.0 257.1 L519.3 257.3 L520.6 257.5 L522.0 257.8 L523.4 258.0 L524.9 258.3 L526.4 258.5 L527.9 258.8 L529.3 259.1 L530.8 259.4 L532.3 259.7 L533.8 260.0 L535.2 260.3 L536.5 260.7 L537.9 261.0 L539.2 261.4 L540.5 261.7 L541.8 262.1 L543.1 262.5 L544.4 262.9 L545.7 263.3 L546.9 263.7 L548.2 264.1 L549.4 264.5 L550.6 264.9 L551.8 265.3 L553.0 265.7 L554.2 266.1 L555.4 266.5 L556.6 267.0 L557.9 267.4 L559.1 267.9 L560.4 268.4 L561.6 268.9 L562.8 269.3 L563.9 269.8 L565.0 270.2 L566.1 270.6 L567.0 271.0 L567.8 271.3 L568.6 271.6 L569.2 271.9" fill="none" stroke="#ae0535" stroke-width="3.50" stroke-linecap="butt" stroke-linejoin="round" stroke-dasharray="1.6 1.55" clip-path="url(#cc01)"/>
<path d="M484.2 299.5 L484.2 298.9 L484.2 298.0 L484.2 297.1 L484.2 296.0 L484.2 294.8 L484.2 293.6 L484.2 292.3 L484.2 290.9 L484.2 289.5 L484.2 288.1 L484.2 286.6 L484.2 285.2 L484.2 283.8 L484.2 282.4 L484.2 281.1 L484.1 279.6 L484.1 278.0 L484.1 276.4 L484.1 274.7 L484.1 273.1 L484.0 271.4 L484.0 269.8 L484.0 268.3 L484.0 266.8 L484.0 265.5 L484.1 264.2 L484.1 263.1 L484.2 262.2 L484.2 261.5 L484.3 260.9 L484.4 260.5 L484.5 260.1 L484.7 259.9 L484.8 259.8 L484.9 259.7 L485.1 259.7 L485.2 259.7 L485.4 259.7 L485.6 259.7 L485.8 259.7 L486.0 259.6 L486.2 259.4 L486.4 259.2 L486.6 259.1 L486.9 258.9 L487.1 258.7 L487.4 258.5 L487.6 258.4 L487.9 258.2 L488.2 258.0 L488.5 257.9 L488.8 257.7 L489.1 257.5 L489.5 257.3 L489.9 257.1 L490.3 256.9 L490.7 256.7 L491.2 256.5 L491.7 256.3 L492.2 256.0 L492.7 255.8 L493.2 255.5 L493.8 255.3 L494.4 255.0 L494.9 254.8 L495.5 254.5 L496.1 254.3 L496.6 254.1 L497.2 253.9 L497.8 253.7 L498.3 253.5 L498.8 253.3 L499.4 253.1 L499.9 252.9 L500.4 252.8 L500.9 252.6 L501.4 252.4 L502.0 252.3 L502.5 252.1 L503.1 252.0 L503.7 251.9 L504.3 251.7 L504.9 251.6 L505.6 251.5 L506.3 251.4 L507.0 251.3 L507.8 251.2 L508.5 251.1 L509.3 251.0 L510.1 251.0 L511.0 250.9 L511.8 250.8 L512.6 250.8 L513.5 250.7 L514.3 250.7 L515.1 250.6 L516.0 250.6 L516.8 250.6 L517.6 250.5 L518.4 250.5 L519.2 250.5 L520.1 250.5 L520.9 250.5 L521.7 250.5 L522.5 250.5 L523.3 250.6 L524.2 250.6 L525.0 250.6 L525.8 250.6 L526.7 250.7 L527.5 250.7 L528.4 250.7 L529.2 250.8 L530.1 250.8 L531.0 250.8 L531.8 250.9 L532.7 250.9 L533.6 251.0 L534.5 251.0 L535.4 251.1 L536.3 251.2 L537.2 251.2 L538.1 251.3 L538.9 251.4 L539.8 251.4 L540.6 251.5 L541.4 251.6 L542.2 251.6 L542.9 251.7 L543.6 251.7 L544.3 251.8 L545.0 251.8 L545.7 251.9 L546.4 252.0 L547.1 252.1 L547.9 252.2 L548.7 252.3 L549.6 252.4 L550.5 252.6 L551.5 252.7 L552.6 253.0 L553.8 253.2 L555.1 253.5 L556.6 253.8 L558.0 254.2 L559.5 254.6 L561.0 254.9 L562.5 255.3 L563.9 255.6 L565.2 256.0 L566.4 256.3 L567.5 256.5 L568.4 256.8 L569.2 256.9" fill="none" stroke="#0d6b92" stroke-width="3.50" stroke-linecap="butt" stroke-linejoin="round" stroke-dasharray="1.6 1.55" clip-path="url(#cc01)"/>
<rect x="464.5" y="236.3" width="111.5" height="67.4" fill="none" stroke="#9a9a9a" stroke-width="1"/>
<rect x="580.6" y="216.4" width="111.5" height="19.6" fill="#d2cdcd" stroke="#a29e9e" stroke-width="0.9"/>
<path d="M648.0 219.9 L689.7 231.0 L678.2 225.6" fill="none" stroke="#0d6b92" stroke-width="2.5" stroke-linejoin="bevel"/>
<text x="645.0" y="230.8" font-family="&quot;Liberation Sans&quot;, Arial, sans-serif" font-size="14.00" font-weight="normal" fill="#111" text-anchor="end" >p3</text>
<rect x="580.6" y="236.3" width="111.5" height="67.4" fill="#fff"/>
<path d="M602.3 236.3 V303.7" stroke="#fdf1f2" stroke-width="0.6"/>
<path d="M636.3 236.3 V303.7" stroke="#fdf1f2" stroke-width="0.6"/>
<path d="M670.3 236.3 V303.7" stroke="#fdf1f2" stroke-width="0.6"/>
<path d="M580.6 293.3 H692.1" stroke="#fdf1f2" stroke-width="0.6"/>
<path d="M580.6 277.8 H692.1" stroke="#fdf1f2" stroke-width="0.6"/>
<path d="M580.6 262.2 H692.1" stroke="#fdf1f2" stroke-width="0.6"/>
<path d="M580.6 246.7 H692.1" stroke="#fdf1f2" stroke-width="0.6"/>
<path d="M585.3 236.3 V303.7" stroke="#efebeb" stroke-width="0.9"/>
<path d="M619.3 236.3 V303.7" stroke="#efebeb" stroke-width="0.9"/>
<path d="M653.3 236.3 V303.7" stroke="#efebeb" stroke-width="0.9"/>
<path d="M687.3 236.3 V303.7" stroke="#efebeb" stroke-width="0.9"/>
<path d="M580.6 301.1 H692.1" stroke="#efebeb" stroke-width="0.9"/>
<path d="M580.6 285.6 H692.1" stroke="#efebeb" stroke-width="0.9"/>
<path d="M580.6 270.0 H692.1" stroke="#efebeb" stroke-width="0.9"/>
<path d="M580.6 254.5 H692.1" stroke="#efebeb" stroke-width="0.9"/>
<path d="M580.6 238.9 H692.1" stroke="#efebeb" stroke-width="0.9"/>
<clipPath id="cc02"><rect x="580.6" y="236.3" width="111.5" height="67.4"/></clipPath>
<path d="M603.0 300.8 L687.3 300.8" fill="none" stroke="#ae0535" stroke-width="4.40" stroke-linecap="butt" stroke-linejoin="round" stroke-dasharray="2.5 3.9 9 3.9" clip-path="url(#cc02)"/>
<path d="M600.9 301.6 L687.3 301.6" fill="none" stroke="#0d6b92" stroke-width="3.30" stroke-linecap="butt" stroke-linejoin="round" stroke-dasharray="1.5 1.7" clip-path="url(#cc02)"/>
<path d="M585.3 280.9 L598.8 296.3" fill="none" stroke="#ae0535" stroke-width="5.60" stroke-linecap="butt" stroke-linejoin="round" clip-path="url(#cc02)"/>
<path d="M585.3 300.8 L585.5 300.8 L585.7 300.8 L586.0 300.7 L586.3 300.7 L586.7 300.7 L587.0 300.7 L587.4 300.6 L587.8 300.6 L588.2 300.6 L588.6 300.5 L589.0 300.5 L589.4 300.4 L589.7 300.4 L590.1 300.3 L590.4 300.3 L590.7 300.2 L591.0 300.1 L591.3 300.1 L591.6 300.0 L591.9 299.9 L592.2 299.9 L592.5 299.8 L592.8 299.7 L593.0 299.6 L593.3 299.5 L593.6 299.4 L593.9 299.3 L594.1 299.2 L594.4 299.1 L594.7 299.0 L594.9 298.9 L595.2 298.8 L595.4 298.6 L595.6 298.5 L595.9 298.3 L596.1 298.2 L596.4 298.1 L596.6 297.9 L596.8 297.8 L597.1 297.6 L597.3 297.5 L597.5 297.4 L597.8 297.2 L598.0 297.1 L598.3 297.0 L598.5 296.8 L598.8 296.7 L599.0 296.6 L599.3 296.4 L599.5 296.3 L599.7 296.1 L600.0 296.0 L600.2 295.9 L600.5 295.8 L600.7 295.6 L600.9 295.5 L601.2 295.4 L601.4 295.2 L601.7 295.1 L601.9 295.0 L602.2 294.9 L602.5 294.7 L602.7 294.6 L603.0 294.5 L603.2 294.4 L603.4 294.3 L603.6 294.2 L603.8 294.1 L603.9 294.0 L604.1 293.9" fill="none" stroke="#0d6b92" stroke-width="5.20" stroke-linecap="butt" stroke-linejoin="round" clip-path="url(#cc02)"/>
<path d="M605.0 293.6 L605.4 293.6 L605.8 293.6 L606.4 293.5 L606.9 293.4 L607.6 293.4 L608.3 293.3 L609.0 293.2 L609.7 293.2 L610.4 293.1 L611.2 293.0 L611.9 293.0 L612.6 292.9 L613.2 292.9 L613.9 292.9 L614.4 292.8 L614.9 292.8 L615.4 292.8 L615.9 292.8 L616.3 292.8 L616.7 292.8 L617.2 292.8 L617.6 292.8 L618.1 292.8 L618.6 292.8 L619.2 292.9 L619.9 292.9 L620.6 293.0 L621.3 293.0 L622.2 293.1 L623.2 293.2 L624.2 293.3 L625.2 293.4 L626.4 293.5 L627.5 293.6 L628.7 293.8 L629.9 293.9 L631.1 294.1 L632.3 294.2 L633.5 294.3 L634.7 294.5 L635.9 294.6 L637.0 294.7 L638.1 294.8 L639.1 295.0 L640.2 295.1 L641.2 295.2 L642.2 295.3 L643.3 295.4 L644.3 295.5 L645.3 295.7 L646.4 295.8 L647.4 295.9 L648.5 296.0 L649.6 296.1 L650.8 296.2 L651.9 296.3 L653.2 296.4 L654.4 296.5 L655.7 296.6 L657.0 296.6 L658.3 296.7 L659.7 296.8 L661.0 296.9 L662.4 297.0 L663.8 297.0 L665.1 297.1 L666.4 297.2 L667.8 297.2 L669.0 297.3 L670.3 297.4 L671.6 297.4 L672.9 297.5 L674.2 297.5 L675.6 297.6 L676.9 297.7 L678.3 297.7 L679.6 297.7 L680.9 297.8 L682.1 297.8 L683.2 297.9 L684.2 297.9 L685.2 297.9 L686.0 298.0 L686.6 298.0" fill="none" stroke="#0d6b92" stroke-width="4.60" stroke-linecap="butt" stroke-linejoin="round" stroke-dasharray="2.5 3.8 9 3.8" clip-path="url(#cc02)"/>
<path d="M598.8 298.0 L598.8 297.5 L598.8 297.0 L598.8 296.3 L598.9 295.6 L598.9 294.8 L598.9 294.0 L599.0 293.1 L599.0 292.2 L599.1 291.3 L599.1 290.4 L599.1 289.5 L599.2 288.7 L599.2 287.9 L599.2 287.1 L599.3 286.4 L599.3 285.7 L599.3 285.0 L599.3 284.3 L599.4 283.7 L599.4 283.0 L599.4 282.3 L599.4 281.7 L599.4 281.0 L599.5 280.4 L599.5 279.7 L599.5 279.1 L599.5 278.4 L599.6 277.8 L599.6 277.1 L599.7 276.4 L599.7 275.7 L599.7 275.0 L599.8 274.3 L599.8 273.6 L599.9 272.9 L600.0 272.2 L600.0 271.5 L600.1 270.9 L600.1 270.2 L600.2 269.6 L600.2 269.0 L600.3 268.4 L600.3 267.9 L600.3 267.4 L600.4 266.9 L600.4 266.4 L600.4 266.0 L600.5 265.5 L600.5 265.1 L600.6 264.7 L600.6 264.3 L600.6 263.9 L600.7 263.6 L600.8 263.2 L600.8 262.9 L600.9 262.5 L601.0 262.2 L601.1 261.9 L601.3 261.6 L601.4 261.4 L601.5 261.1 L601.6 260.9 L601.8 260.6 L601.9 260.4 L602.1 260.2 L602.3 260.0 L602.4 259.8 L602.6 259.5 L602.8 259.3 L603.0 259.1 L603.2 258.9 L603.4 258.7 L603.6 258.5 L603.8 258.3 L604.0 258.1 L604.3 257.9 L604.5 257.8 L604.8 257.6 L605.0 257.4 L605.3 257.2 L605.5 257.0 L605.8 256.9 L606.1 256.7 L606.4 256.5 L606.7 256.3 L607.0 256.1 L607.3 255.9 L607.7 255.6 L608.0 255.4 L608.3 255.2 L608.7 255.0 L609.1 254.8 L609.4 254.6 L609.8 254.4 L610.1 254.2 L610.5 254.0 L610.8 253.8 L611.1 253.7 L611.5 253.5 L611.8 253.4 L612.1 253.2 L612.5 253.1 L612.8 252.9 L613.2 252.8 L613.5 252.6 L613.8 252.5 L614.1 252.4 L614.5 252.3 L614.8 252.3 L615.0 252.3 L615.3 252.2 L615.6 252.3 L615.8 252.3 L616.0 252.5 L616.2 252.6 L616.4 252.8 L616.5 253.1 L616.7 253.3 L616.8 253.5 L617.0 253.8 L617.1 254.0 L617.2 254.3 L617.4 254.4 L617.6 254.6 L617.7 254.7 L617.9 254.8 L618.2 254.8 L618.4 254.7 L618.6 254.6 L618.8 254.5 L619.1 254.3 L619.3 254.2 L619.6 254.0 L619.8 253.8 L620.1 253.6 L620.3 253.4 L620.6 253.2 L620.8 253.1 L621.1 253.0 L621.3 252.9 L621.6 252.8 L621.8 252.8 L621.9 252.7 L622.1 252.7 L622.2 252.6 L622.4 252.6 L622.5 252.6 L622.7 252.6 L622.9 252.6 L623.2 252.6 L623.5 252.7 L623.8 252.7 L624.2 252.8 L624.7 252.9 L625.3 253.0 L625.9 253.2 L626.6 253.3 L627.3 253.5 L628.1 253.7 L628.9 254.0 L629.8 254.2 L630.6 254.4 L631.5 254.7 L632.5 254.9 L633.4 255.2 L634.4 255.5 L635.3 255.7 L636.3 256.0 L637.3 256.3 L638.3 256.5 L639.3 256.8 L640.4 257.1 L641.5 257.3 L642.6 257.6 L643.7 257.9 L644.8 258.2 L646.0 258.5 L647.2 258.8 L648.3 259.1 L649.5 259.5 L650.7 259.8 L651.9 260.2 L653.2 260.6 L654.4 261.0 L655.7 261.4 L657.1 261.9 L658.4 262.4 L659.8 262.8 L661.1 263.3 L662.5 263.8 L663.8 264.3 L665.2 264.8 L666.5 265.2 L667.8 265.7 L669.1 266.1 L670.3 266.6 L671.5 267.0 L672.8 267.5 L674.1 267.9 L675.4 268.4 L676.7 268.8 L678.0 269.3 L679.3 269.7 L680.5 270.1 L681.6 270.5 L682.7 270.9 L683.7 271.2 L684.6 271.5 L685.3 271.8 L685.9 272.0" fill="none" stroke="#ae0535" stroke-width="3.50" stroke-linecap="butt" stroke-linejoin="round" stroke-dasharray="1.6 1.55" clip-path="url(#cc02)"/>
<path d="M598.8 293.3 L598.9 293.0 L599.0 292.5 L599.1 292.0 L599.3 291.3 L599.5 290.7 L599.7 290.0 L599.9 289.2 L600.1 288.5 L600.3 287.8 L600.5 287.1 L600.8 286.4 L601.1 285.8 L601.3 285.2 L601.6 284.8 L601.9 284.4 L602.2 284.0 L602.6 283.7 L602.9 283.5 L603.3 283.2 L603.7 283.0 L604.1 282.8 L604.5 282.7 L604.9 282.5 L605.3 282.3 L605.8 282.2 L606.2 282.0 L606.6 281.8 L607.1 281.7 L607.5 281.5 L608.0 281.3 L608.4 281.1 L608.9 280.9 L609.4 280.7 L609.8 280.6 L610.3 280.4 L610.8 280.2 L611.3 280.1 L611.8 279.9 L612.3 279.8 L612.8 279.6 L613.4 279.5 L613.9 279.3 L614.4 279.2 L614.9 279.1 L615.4 278.9 L615.9 278.8 L616.5 278.7 L617.0 278.6 L617.5 278.5 L618.1 278.4 L618.6 278.3 L619.1 278.2 L619.7 278.1 L620.2 278.0 L620.8 277.9 L621.3 277.8 L621.9 277.7 L622.5 277.6 L623.0 277.5 L623.6 277.4 L624.1 277.3 L624.7 277.1 L625.3 277.0 L625.8 276.9 L626.4 276.8 L627.0 276.7 L627.6 276.7 L628.2 276.6 L628.9 276.5 L629.5 276.4 L630.2 276.3 L630.8 276.2 L631.5 276.1 L632.2 276.0 L632.9 275.9 L633.6 275.9 L634.3 275.8 L635.1 275.7 L635.8 275.6 L636.6 275.5 L637.3 275.5 L638.1 275.4 L638.9 275.3 L639.7 275.3 L640.5 275.2 L641.3 275.2 L642.1 275.1 L642.9 275.1 L643.7 275.0 L644.5 275.0 L645.3 274.9 L646.2 274.9 L647.0 274.9 L647.9 274.9 L648.9 274.8 L649.9 274.8 L650.9 274.8 L651.9 274.8 L653.1 274.8 L654.3 274.8 L655.5 274.9 L656.8 274.9 L658.2 274.9 L659.6 275.0 L661.0 275.0 L662.3 275.1 L663.7 275.2 L665.1 275.2 L666.5 275.3 L667.8 275.3 L669.1 275.4 L670.3 275.4 L671.5 275.5 L672.7 275.6 L674.0 275.6 L675.3 275.7 L676.5 275.8 L677.7 275.9 L678.9 275.9 L680.1 276.0 L681.2 276.1 L682.2 276.2 L683.1 276.2 L683.9 276.3 L684.7 276.3 L685.3 276.4" fill="none" stroke="#0d6b92" stroke-width="3.50" stroke-linecap="butt" stroke-linejoin="round" stroke-dasharray="1.6 1.55" clip-path="url(#cc02)"/>
<rect x="580.6" y="236.3" width="111.5" height="67.4" fill="none" stroke="#9a9a9a" stroke-width="1"/>
<rect x="348.2" y="308.8" width="111.5" height="19.6" fill="#d2cdcd" stroke="#a29e9e" stroke-width="0.9"/>
<path d="M349.6 324.8 L390.9 313.3 L376.7 312.6" fill="none" stroke="#666" stroke-width="2.5" stroke-linejoin="bevel"/>
<text x="392.0" y="323.2" font-family="&quot;Liberation Sans&quot;, Arial, sans-serif" font-size="14.00" font-weight="normal" fill="#111" text-anchor="start" >bp0</text>
<rect x="348.2" y="328.8" width="111.5" height="67.4" fill="#fff"/>
<path d="M369.9 328.8 V396.1" stroke="#fdf1f2" stroke-width="0.6"/>
<path d="M403.9 328.8 V396.1" stroke="#fdf1f2" stroke-width="0.6"/>
<path d="M437.9 328.8 V396.1" stroke="#fdf1f2" stroke-width="0.6"/>
<path d="M348.2 385.8 H459.7" stroke="#fdf1f2" stroke-width="0.6"/>
<path d="M348.2 370.2 H459.7" stroke="#fdf1f2" stroke-width="0.6"/>
<path d="M348.2 354.7 H459.7" stroke="#fdf1f2" stroke-width="0.6"/>
<path d="M348.2 339.1 H459.7" stroke="#fdf1f2" stroke-width="0.6"/>
<path d="M352.9 328.8 V396.1" stroke="#efebeb" stroke-width="0.9"/>
<path d="M386.9 328.8 V396.1" stroke="#efebeb" stroke-width="0.9"/>
<path d="M420.9 328.8 V396.1" stroke="#efebeb" stroke-width="0.9"/>
<path d="M454.9 328.8 V396.1" stroke="#efebeb" stroke-width="0.9"/>
<path d="M348.2 393.5 H459.7" stroke="#efebeb" stroke-width="0.9"/>
<path d="M348.2 378.0 H459.7" stroke="#efebeb" stroke-width="0.9"/>
<path d="M348.2 362.4 H459.7" stroke="#efebeb" stroke-width="0.9"/>
<path d="M348.2 346.9 H459.7" stroke="#efebeb" stroke-width="0.9"/>
<path d="M348.2 331.3 H459.7" stroke="#efebeb" stroke-width="0.9"/>
<clipPath id="cc10"><rect x="348.2" y="328.8" width="111.5" height="67.4"/></clipPath>
<path d="M371.9 393.2 L454.9 393.2" fill="none" stroke="#ae0535" stroke-width="4.40" stroke-linecap="butt" stroke-linejoin="round" stroke-dasharray="2.5 3.9 9 3.9" clip-path="url(#cc10)"/>
<path d="M369.9 394.0 L454.9 394.0" fill="none" stroke="#0d6b92" stroke-width="3.30" stroke-linecap="butt" stroke-linejoin="round" stroke-dasharray="1.5 1.7" clip-path="url(#cc10)"/>
<path d="M352.9 393.5 L368.2 393.5" fill="none" stroke="#0d6b92" stroke-width="5.40" stroke-linecap="butt" stroke-linejoin="round" clip-path="url(#cc10)"/>
<path d="M366.5 393.5 L366.5 379.6" fill="none" stroke="#0d6b92" stroke-width="3.50" stroke-linecap="butt" stroke-linejoin="round" stroke-dasharray="1.6 1.55" clip-path="url(#cc10)"/>
<path d="M366.5 380.3 L366.5 371.8" fill="none" stroke="#ae0535" stroke-width="4.40" stroke-linecap="butt" stroke-linejoin="round" stroke-dasharray="1.6 1.55" clip-path="url(#cc10)"/>
<path d="M368.5 390.4 L368.6 390.5 L368.8 390.6 L368.9 390.6 L369.1 390.7 L369.3 390.8 L369.4 390.9 L369.6 391.0 L369.9 391.1 L370.1 391.2 L370.3 391.3 L370.5 391.4 L370.8 391.5 L371.0 391.6 L371.3 391.7 L371.5 391.8 L371.8 391.9 L372.1 392.0 L372.4 392.1 L372.8 392.2 L373.1 392.3 L373.5 392.4 L373.8 392.5 L374.1 392.6 L374.4 392.7 L374.7 392.7 L375.0 392.8 L375.2 392.9 L375.3 392.9" fill="none" stroke="#ae0535" stroke-width="3.40" stroke-linecap="butt" stroke-linejoin="round" clip-path="url(#cc10)"/>
<path d="M352.6 332.4 H366.4 V372.6" fill="none" stroke="#ae0535" stroke-width="5.2" stroke-linejoin="round" clip-path="url(#cc10)"/>
<path d="M368.2 378.0 L368.4 378.1 L368.7 378.2 L368.9 378.3 L369.3 378.4 L369.6 378.5 L370.0 378.7 L370.4 378.8 L370.8 379.0 L371.2 379.1 L371.7 379.3 L372.1 379.5 L372.5 379.6 L372.9 379.7 L373.3 379.9 L373.7 380.0 L374.0 380.1 L374.3 380.2 L374.5 380.3 L374.8 380.4 L375.1 380.5 L375.4 380.6 L375.7 380.7 L376.0 380.8 L376.4 380.9 L376.9 381.0 L377.4 381.1 L378.0 381.3 L378.7 381.4 L379.5 381.6 L380.4 381.8 L381.4 382.0 L382.4 382.3 L383.5 382.5 L384.6 382.7 L385.8 383.0 L387.0 383.3 L388.2 383.5 L389.4 383.8 L390.7 384.0 L391.9 384.3 L393.2 384.5 L394.4 384.7 L395.6 384.9 L396.8 385.1 L398.1 385.3 L399.3 385.4 L400.6 385.6 L401.8 385.8 L403.1 385.9 L404.4 386.1 L405.8 386.2 L407.1 386.4 L408.5 386.6 L409.9 386.7 L411.3 386.9 L412.7 387.0 L414.2 387.2 L415.8 387.3 L417.3 387.5 L419.0 387.6 L420.6 387.8 L422.3 388.0 L423.9 388.1 L425.6 388.3 L427.2 388.4 L428.9 388.5 L430.5 388.7 L432.1 388.8 L433.7 388.9 L435.2 389.0 L436.7 389.1 L438.2 389.3 L439.8 389.4 L441.4 389.5 L443.0 389.5 L444.6 389.6 L446.1 389.7 L447.6 389.8 L449.0 389.9 L450.3 389.9 L451.5 390.0 L452.5 390.0 L453.5 390.1 L454.2 390.1" fill="none" stroke="#0d6b92" stroke-width="4.60" stroke-linecap="butt" stroke-linejoin="round" stroke-dasharray="2.5 3.8 9 3.8" clip-path="url(#cc10)"/>
<path d="M369.2 341.3 L369.3 341.2 L369.4 341.1 L369.5 341.0 L369.6 340.9 L369.8 340.8 L369.9 340.7 L370.1 340.5 L370.2 340.4 L370.4 340.2 L370.6 340.1 L370.7 340.0 L370.9 339.8 L371.1 339.7 L371.3 339.6 L371.4 339.5 L371.6 339.4 L371.7 339.3 L371.9 339.2 L372.1 339.1 L372.2 339.0 L372.4 338.9 L372.6 338.8 L372.8 338.7 L373.0 338.6 L373.2 338.5 L373.4 338.4 L373.7 338.3 L374.0 338.2 L374.3 338.1 L374.6 338.0 L374.9 337.9 L375.3 337.8 L375.7 337.7 L376.0 337.6 L376.4 337.5 L376.9 337.3 L377.3 337.2 L377.7 337.1 L378.1 337.1 L378.5 337.0 L379.0 336.9 L379.4 336.8 L379.8 336.7 L380.3 336.6 L380.7 336.6 L381.0 336.5 L381.4 336.4 L381.8 336.4 L382.3 336.3 L382.7 336.3 L383.2 336.2 L383.7 336.2 L384.2 336.1 L384.8 336.1 L385.5 336.1 L386.2 336.0 L387.0 336.0 L387.9 335.9 L388.8 335.9 L389.8 335.9 L390.9 335.8 L391.9 335.8 L393.0 335.8 L394.1 335.8 L395.2 335.8 L396.4 335.7 L397.4 335.7 L398.5 335.7 L399.5 335.7 L400.5 335.7 L401.4 335.7 L402.3 335.7 L403.1 335.7 L403.9 335.7 L404.6 335.8 L405.4 335.8 L406.2 335.8 L406.9 335.8 L407.7 335.8 L408.6 335.9 L409.5 335.9 L410.5 335.9 L411.6 336.0 L412.7 336.0 L414.0 336.1 L415.4 336.1 L416.8 336.2 L418.3 336.2 L419.9 336.3 L421.5 336.3 L423.2 336.4 L424.9 336.4 L426.5 336.5 L428.2 336.6 L429.8 336.6 L431.5 336.7 L433.0 336.7 L434.5 336.8 L436.0 336.8 L437.5 336.9 L439.1 337.0 L440.7 337.0 L442.3 337.1 L443.8 337.2 L445.4 337.2 L446.9 337.3 L448.3 337.3 L449.6 337.4 L450.8 337.5 L451.8 337.5 L452.8 337.5 L453.5 337.6" fill="none" stroke="#ae0535" stroke-width="3.50" stroke-linecap="butt" stroke-linejoin="round" stroke-dasharray="1.6 1.55" clip-path="url(#cc10)"/>
<path d="M369.2 360.0 L369.3 359.9 L369.4 359.9 L369.5 359.8 L369.6 359.7 L369.8 359.6 L369.9 359.6 L370.1 359.5 L370.2 359.4 L370.4 359.3 L370.6 359.2 L370.7 359.1 L370.9 359.0 L371.1 358.9 L371.3 358.9 L371.4 358.8 L371.6 358.7 L371.8 358.7 L371.9 358.6 L372.1 358.6 L372.3 358.5 L372.4 358.5 L372.6 358.4 L372.8 358.3 L373.0 358.3 L373.2 358.2 L373.5 358.2 L373.7 358.1 L374.0 358.1 L374.3 358.0 L374.6 358.0 L374.9 357.9 L375.2 357.9 L375.5 357.8 L375.9 357.8 L376.2 357.7 L376.6 357.7 L377.0 357.7 L377.3 357.6 L377.7 357.6 L378.0 357.5 L378.4 357.5 L378.7 357.5 L379.1 357.4 L379.3 357.4 L379.6 357.4 L379.8 357.4 L380.1 357.3 L380.3 357.3 L380.6 357.3 L380.8 357.3 L381.1 357.3 L381.5 357.3 L381.9 357.3 L382.4 357.3 L382.9 357.3 L383.5 357.3 L384.2 357.4 L385.0 357.4 L385.8 357.4 L386.7 357.5 L387.6 357.6 L388.6 357.6 L389.6 357.7 L390.7 357.8 L391.7 357.9 L392.8 357.9 L393.9 358.0 L395.0 358.1 L396.0 358.2 L397.1 358.3 L398.1 358.3 L399.2 358.4 L400.2 358.5 L401.2 358.6 L402.3 358.7 L403.3 358.7 L404.4 358.8 L405.5 358.9 L406.6 359.0 L407.8 359.1 L408.9 359.2 L410.2 359.3 L411.4 359.4 L412.7 359.5 L414.1 359.6 L415.6 359.7 L417.0 359.8 L418.6 360.0 L420.2 360.1 L421.8 360.2 L423.4 360.3 L425.0 360.5 L426.7 360.6 L428.3 360.7 L429.9 360.9 L431.5 361.0 L433.0 361.1 L434.5 361.2 L436.0 361.3 L437.5 361.4 L439.1 361.6 L440.7 361.7 L442.3 361.8 L443.8 361.9 L445.4 362.0 L446.9 362.1 L448.3 362.2 L449.6 362.3 L450.8 362.4 L451.8 362.5 L452.8 362.5 L453.5 362.6" fill="none" stroke="#0d6b92" stroke-width="3.50" stroke-linecap="butt" stroke-linejoin="round" stroke-dasharray="1.6 1.55" clip-path="url(#cc10)"/>
<rect x="348.2" y="328.8" width="111.5" height="67.4" fill="none" stroke="#9a9a9a" stroke-width="1"/>
<path d="M348.2 393.5 h-5.5" stroke="#222" stroke-width="1.3"/>
<text x="340.6" y="399.1" font-family="&quot;Liberation Sans&quot;, Arial, sans-serif" font-size="15.40" font-weight="normal" fill="#111" text-anchor="end" >0</text>
<path d="M348.2 378.0 h-5.5" stroke="#222" stroke-width="1.3"/>
<text x="340.6" y="383.5" font-family="&quot;Liberation Sans&quot;, Arial, sans-serif" font-size="15.40" font-weight="normal" fill="#111" text-anchor="end" >1</text>
<path d="M348.2 362.4 h-5.5" stroke="#222" stroke-width="1.3"/>
<text x="340.6" y="368.0" font-family="&quot;Liberation Sans&quot;, Arial, sans-serif" font-size="15.40" font-weight="normal" fill="#111" text-anchor="end" >2</text>
<path d="M348.2 346.9 h-5.5" stroke="#222" stroke-width="1.3"/>
<text x="340.6" y="352.4" font-family="&quot;Liberation Sans&quot;, Arial, sans-serif" font-size="15.40" font-weight="normal" fill="#111" text-anchor="end" >3</text>
<path d="M348.2 331.3 h-5.5" stroke="#222" stroke-width="1.3"/>
<text x="340.6" y="336.9" font-family="&quot;Liberation Sans&quot;, Arial, sans-serif" font-size="15.40" font-weight="normal" fill="#111" text-anchor="end" >4</text>
<rect x="464.5" y="308.8" width="111.5" height="19.6" fill="#d2cdcd" stroke="#a29e9e" stroke-width="0.9"/>
<path d="M466.8 312.2 L508.5 323.6 L494.0 324.3" fill="none" stroke="#666" stroke-width="2.5" stroke-linejoin="bevel"/>
<text x="508.5" y="323.2" font-family="&quot;Liberation Sans&quot;, Arial, sans-serif" font-size="14.00" font-weight="normal" fill="#111" text-anchor="start" >bp1</text>
<rect x="464.5" y="328.8" width="111.5" height="67.4" fill="#fff"/>
<path d="M486.2 328.8 V396.1" stroke="#fdf1f2" stroke-width="0.6"/>
<path d="M520.2 328.8 V396.1" stroke="#fdf1f2" stroke-width="0.6"/>
<path d="M554.2 328.8 V396.1" stroke="#fdf1f2" stroke-width="0.6"/>
<path d="M464.5 385.8 H576.0" stroke="#fdf1f2" stroke-width="0.6"/>
<path d="M464.5 370.2 H576.0" stroke="#fdf1f2" stroke-width="0.6"/>
<path d="M464.5 354.7 H576.0" stroke="#fdf1f2" stroke-width="0.6"/>
<path d="M464.5 339.1 H576.0" stroke="#fdf1f2" stroke-width="0.6"/>
<path d="M469.2 328.8 V396.1" stroke="#efebeb" stroke-width="0.9"/>
<path d="M503.2 328.8 V396.1" stroke="#efebeb" stroke-width="0.9"/>
<path d="M537.2 328.8 V396.1" stroke="#efebeb" stroke-width="0.9"/>
<path d="M571.2 328.8 V396.1" stroke="#efebeb" stroke-width="0.9"/>
<path d="M464.5 393.5 H576.0" stroke="#efebeb" stroke-width="0.9"/>
<path d="M464.5 378.0 H576.0" stroke="#efebeb" stroke-width="0.9"/>
<path d="M464.5 362.4 H576.0" stroke="#efebeb" stroke-width="0.9"/>
<path d="M464.5 346.9 H576.0" stroke="#efebeb" stroke-width="0.9"/>
<path d="M464.5 331.3 H576.0" stroke="#efebeb" stroke-width="0.9"/>
<clipPath id="cc11"><rect x="464.5" y="328.8" width="111.5" height="67.4"/></clipPath>
<path d="M484.8 393.2 L571.2 393.2" fill="none" stroke="#ae0535" stroke-width="4.40" stroke-linecap="butt" stroke-linejoin="round" stroke-dasharray="2.5 3.9 9 3.9" clip-path="url(#cc11)"/>
<path d="M482.8 394.0 L571.2 394.0" fill="none" stroke="#0d6b92" stroke-width="3.30" stroke-linecap="butt" stroke-linejoin="round" stroke-dasharray="1.5 1.7" clip-path="url(#cc11)"/>
<path d="M482.8 378.0 L482.9 378.2 L483.0 378.5 L483.1 378.8 L483.2 379.2 L483.4 379.6 L483.5 380.0 L483.7 380.4 L483.9 380.9 L484.0 381.3 L484.2 381.8 L484.4 382.2 L484.5 382.6 L484.7 383.1 L484.8 383.4 L485.0 383.8 L485.1 384.2 L485.3 384.6 L485.4 384.9 L485.5 385.3 L485.6 385.7 L485.8 386.0 L485.9 386.4 L486.1 386.8 L486.2 387.1 L486.4 387.5 L486.5 387.8 L486.7 388.1 L486.9 388.4 L487.1 388.7 L487.3 389.0 L487.6 389.3 L487.9 389.6 L488.1 389.9 L488.4 390.2 L488.7 390.5 L489.0 390.8 L489.3 391.0 L489.5 391.3 L489.8 391.5 L490.0 391.7 L490.1 391.9 L490.3 392.0" fill="none" stroke="#ae0535" stroke-width="4.20" stroke-linecap="butt" stroke-linejoin="round" stroke-dasharray="3 2.5" clip-path="url(#cc11)"/>
<path d="M469.2 373.0 L469.4 373.0 L469.6 373.1 L469.9 373.1 L470.3 373.1 L470.6 373.1 L471.0 373.1 L471.4 373.2 L471.8 373.2 L472.2 373.2 L472.6 373.2 L473.0 373.3 L473.4 373.3 L473.7 373.3 L474.0 373.3 L474.2 373.4 L474.4 373.4 L474.7 373.4 L474.9 373.4 L475.1 373.5 L475.3 373.5 L475.4 373.5 L475.6 373.5 L475.8 373.6 L475.9 373.6 L476.1 373.6 L476.2 373.7 L476.4 373.7 L476.5 373.8 L476.7 373.9 L476.9 373.9 L477.0 374.0 L477.1 374.1 L477.3 374.2 L477.4 374.3 L477.5 374.4 L477.7 374.5 L477.8 374.6 L477.9 374.7 L478.0 374.9 L478.2 375.0 L478.3 375.1 L478.4 375.2 L478.5 375.3 L478.6 375.4 L478.7 375.5 L478.8 375.7 L478.9 375.8 L479.0 375.9 L479.0 376.0 L479.1 376.1 L479.2 376.3 L479.3 376.4 L479.4 376.6 L479.4 376.7 L479.5 376.9 L479.6 377.1 L479.7 377.3 L479.8 377.5 L479.8 377.7 L479.9 377.9 L480.0 378.1 L480.1 378.4 L480.2 378.6 L480.2 378.9 L480.3 379.1 L480.4 379.4 L480.4 379.6 L480.5 379.9 L480.6 380.1 L480.6 380.3 L480.7 380.6 L480.7 380.8 L480.8 381.0 L480.8 381.2 L480.9 381.5 L480.9 381.7 L480.9 381.9 L481.0 382.2 L481.0 382.4 L481.0 382.5 L481.0 382.7 L481.1 382.9 L481.1 383.0 L481.1 383.1" fill="none" stroke="#ae0535" stroke-width="5.20" stroke-linecap="butt" stroke-linejoin="round" clip-path="url(#cc11)"/>
<path d="M469.2 393.1 L469.4 393.1 L469.6 393.0 L469.8 393.0 L470.1 393.0 L470.4 393.0 L470.7 392.9 L471.0 392.9 L471.4 392.9 L471.7 392.8 L472.1 392.8 L472.4 392.8 L472.7 392.7 L473.0 392.7 L473.3 392.6 L473.5 392.6 L473.8 392.5 L474.1 392.4 L474.3 392.4 L474.6 392.3 L474.8 392.2 L475.1 392.1 L475.3 392.0 L475.5 392.0 L475.7 391.9 L476.0 391.8 L476.2 391.7 L476.4 391.6 L476.5 391.5 L476.7 391.4 L476.9 391.3 L477.0 391.3 L477.2 391.2 L477.3 391.1 L477.5 391.0 L477.6 390.9 L477.7 390.8 L477.8 390.7 L477.9 390.5 L478.1 390.4 L478.2 390.3 L478.3 390.2 L478.4 390.1 L478.5 390.0 L478.6 389.9 L478.7 389.8 L478.8 389.7 L478.9 389.6 L478.9 389.6 L479.0 389.5 L479.1 389.4 L479.2 389.3 L479.3 389.1 L479.3 389.0 L479.4 388.9 L479.5 388.7 L479.6 388.6 L479.7 388.4 L479.8 388.2 L479.9 388.0 L480.1 387.7 L480.2 387.5 L480.3 387.2 L480.4 386.9 L480.5 386.7 L480.7 386.4 L480.8 386.2 L480.9 386.0 L481.0 385.8 L481.0 385.6 L481.1 385.5" fill="none" stroke="#0d6b92" stroke-width="5.20" stroke-linecap="butt" stroke-linejoin="round" clip-path="url(#cc11)"/>
<path d="M487.9 378.5 L488.1 378.5 L488.2 378.6 L488.5 378.7 L488.7 378.9 L488.9 379.0 L489.2 379.1 L489.5 379.3 L489.8 379.4 L490.1 379.6 L490.5 379.7 L490.9 379.9 L491.3 380.0 L491.8 380.2 L492.3 380.3 L492.9 380.5 L493.4 380.6 L494.0 380.8 L494.6 381.0 L495.2 381.1 L495.9 381.3 L496.5 381.4 L497.3 381.6 L498.0 381.8 L498.8 382.0 L499.7 382.1 L500.6 382.3 L501.5 382.5 L502.5 382.7 L503.6 382.9 L504.7 383.0 L506.0 383.2 L507.3 383.5 L508.6 383.7 L510.0 383.9 L511.4 384.1 L512.8 384.3 L514.2 384.5 L515.6 384.7 L517.0 384.9 L518.4 385.1 L519.7 385.3 L520.9 385.5 L522.0 385.6 L523.2 385.8 L524.2 386.0 L525.3 386.1 L526.3 386.3 L527.4 386.4 L528.4 386.5 L529.4 386.7 L530.4 386.8 L531.4 387.0 L532.5 387.1 L533.6 387.2 L534.7 387.4 L535.8 387.5 L537.1 387.6 L538.3 387.8 L539.6 387.9 L540.9 388.0 L542.2 388.2 L543.6 388.3 L544.9 388.4 L546.3 388.5 L547.7 388.7 L549.0 388.8 L550.3 388.9 L551.7 389.0 L552.9 389.1 L554.2 389.2 L555.5 389.3 L556.8 389.4 L558.1 389.5 L559.5 389.5 L560.8 389.6 L562.2 389.7 L563.5 389.8 L564.8 389.8 L566.0 389.9 L567.1 390.0 L568.1 390.0 L569.1 390.1 L569.9 390.1 L570.5 390.1" fill="none" stroke="#0d6b92" stroke-width="4.60" stroke-linecap="butt" stroke-linejoin="round" stroke-dasharray="2.5 3.8 9 3.8" clip-path="url(#cc11)"/>
<path d="M481.3 392.0 L481.3 391.1 L481.3 390.0 L481.3 388.7 L481.3 387.3 L481.3 385.7 L481.3 384.0 L481.3 382.3 L481.3 380.5 L481.3 378.7 L481.3 376.9 L481.3 375.1 L481.3 373.4 L481.3 371.7 L481.3 370.2 L481.3 368.8 L481.3 367.3 L481.3 365.8 L481.3 364.3 L481.3 362.8 L481.3 361.3 L481.3 359.8 L481.3 358.4 L481.3 357.1 L481.3 355.8 L481.3 354.6 L481.4 353.5 L481.4 352.5 L481.4 351.6 L481.5 350.8 L481.5 350.1 L481.6 349.6 L481.6 349.2 L481.7 348.8 L481.8 348.5 L481.9 348.2 L481.9 348.0 L482.0 347.8 L482.1 347.7 L482.2 347.5 L482.3 347.3 L482.4 347.1 L482.5 346.9 L482.6 346.6 L482.6 346.4 L482.7 346.2 L482.8 346.0 L482.9 345.8 L483.0 345.6 L483.1 345.4 L483.2 345.2 L483.3 345.0 L483.4 344.9 L483.6 344.7 L483.8 344.6 L483.9 344.4 L484.2 344.3 L484.4 344.1 L484.7 344.0 L485.0 343.8 L485.3 343.7 L485.6 343.5 L485.9 343.4 L486.3 343.3 L486.6 343.2 L487.0 343.0 L487.4 342.9 L487.8 342.8 L488.1 342.7 L488.5 342.6 L488.9 342.5 L489.3 342.5 L489.7 342.4 L490.1 342.3 L490.5 342.2 L490.8 342.1 L491.2 342.0 L491.6 342.0 L492.1 341.9 L492.5 341.9 L493.0 341.8 L493.4 341.8 L493.9 341.8 L494.5 341.8 L495.0 341.8 L495.6 341.8 L496.3 341.8 L496.9 341.8 L497.6 341.9 L498.3 341.9 L499.1 342.0 L499.8 342.1 L500.6 342.1 L501.3 342.2 L502.1 342.3 L502.9 342.4 L503.7 342.6 L504.5 342.7 L505.2 342.9 L506.0 343.0 L506.8 343.2 L507.6 343.4 L508.4 343.6 L509.3 343.8 L510.1 344.1 L510.9 344.3 L511.8 344.6 L512.6 344.8 L513.5 345.1 L514.3 345.4 L515.1 345.6 L516.0 345.9 L516.8 346.1 L517.6 346.4 L518.4 346.6 L519.1 346.8 L519.8 347.0 L520.5 347.2 L521.1 347.5 L521.9 347.7 L522.6 347.9 L523.4 348.2 L524.2 348.4 L525.1 348.7 L526.1 349.0 L527.2 349.3 L528.4 349.7 L529.7 350.1 L531.1 350.5 L532.6 351.0 L534.2 351.4 L535.9 351.9 L537.7 352.4 L539.5 353.0 L541.3 353.5 L543.1 354.0 L544.8 354.5 L546.6 355.1 L548.3 355.6 L549.9 356.1 L551.5 356.5 L553.0 357.0 L554.6 357.5 L556.2 358.0 L557.8 358.5 L559.4 359.0 L560.9 359.5 L562.4 360.0 L563.9 360.5 L565.3 360.9 L566.6 361.3 L567.8 361.7 L568.8 362.1 L569.8 362.4 L570.5 362.6" fill="none" stroke="#ae0535" stroke-width="3.50" stroke-linecap="butt" stroke-linejoin="round" stroke-dasharray="1.6 1.55" clip-path="url(#cc11)"/>
<path d="M482.8 392.0 L482.8 391.3 L482.8 390.4 L482.8 389.4 L482.8 388.3 L482.8 387.0 L482.8 385.7 L482.8 384.3 L482.8 382.9 L482.8 381.5 L482.8 380.0 L482.8 378.7 L482.8 377.3 L482.8 376.1 L482.8 374.9 L482.8 373.8 L482.8 372.6 L482.8 371.5 L482.8 370.4 L482.8 369.3 L482.8 368.2 L482.8 367.1 L482.8 366.1 L482.8 365.1 L482.8 364.1 L482.8 363.2 L482.9 362.4 L482.9 361.6 L483.0 360.9 L483.1 360.3 L483.2 359.7 L483.2 359.3 L483.3 358.9 L483.4 358.5 L483.5 358.2 L483.6 357.9 L483.8 357.7 L483.9 357.5 L484.1 357.3 L484.2 357.1 L484.4 356.9 L484.6 356.7 L484.8 356.5 L485.1 356.3 L485.4 356.2 L485.7 356.0 L486.0 355.9 L486.3 355.7 L486.6 355.6 L487.0 355.5 L487.4 355.5 L487.7 355.4 L488.1 355.3 L488.5 355.2 L488.9 355.1 L489.2 355.1 L489.6 355.0 L490.0 354.9 L490.3 354.8 L490.7 354.8 L491.0 354.7 L491.4 354.6 L491.7 354.6 L492.1 354.5 L492.5 354.4 L492.9 354.4 L493.3 354.4 L493.7 354.3 L494.1 354.3 L494.6 354.2 L495.0 354.2 L495.5 354.2 L496.0 354.2 L496.6 354.1 L497.1 354.1 L497.7 354.1 L498.2 354.1 L498.8 354.1 L499.4 354.1 L500.0 354.1 L500.6 354.2 L501.3 354.2 L501.9 354.2 L502.5 354.2 L503.2 354.2 L503.8 354.2 L504.4 354.2 L505.0 354.3 L505.6 354.3 L506.2 354.3 L506.8 354.3 L507.4 354.3 L508.1 354.4 L508.8 354.4 L509.5 354.4 L510.4 354.5 L511.3 354.5 L512.3 354.6 L513.4 354.7 L514.6 354.8 L516.0 354.9 L517.5 355.0 L519.0 355.1 L520.7 355.2 L522.4 355.3 L524.1 355.5 L525.9 355.6 L527.6 355.8 L529.4 355.9 L531.1 356.1 L532.7 356.2 L534.3 356.4 L535.8 356.5 L537.3 356.7 L538.7 356.9 L540.1 357.0 L541.4 357.2 L542.8 357.4 L544.1 357.5 L545.4 357.7 L546.7 357.9 L548.0 358.1 L549.2 358.3 L550.5 358.5 L551.7 358.7 L553.0 358.8 L554.2 359.0 L555.5 359.2 L556.8 359.4 L558.1 359.7 L559.5 359.9 L560.8 360.1 L562.2 360.4 L563.5 360.6 L564.8 360.8 L566.0 361.0 L567.1 361.2 L568.1 361.4 L569.1 361.6 L569.9 361.7 L570.5 361.8" fill="none" stroke="#0d6b92" stroke-width="3.50" stroke-linecap="butt" stroke-linejoin="round" stroke-dasharray="1.6 1.55" clip-path="url(#cc11)"/>
<rect x="464.5" y="328.8" width="111.5" height="67.4" fill="none" stroke="#9a9a9a" stroke-width="1"/>
<rect x="580.6" y="308.8" width="111.5" height="19.6" fill="#d2cdcd" stroke="#a29e9e" stroke-width="0.9"/>
<path d="M650.0 312.2 L690.8 323.0 L680.5 317.2" fill="none" stroke="#666" stroke-width="2.5" stroke-linejoin="bevel"/>
<text x="648.0" y="323.2" font-family="&quot;Liberation Sans&quot;, Arial, sans-serif" font-size="14.00" font-weight="normal" fill="#111" text-anchor="end" >bp3</text>
<rect x="580.6" y="328.8" width="111.5" height="67.4" fill="#fff"/>
<path d="M602.3 328.8 V396.1" stroke="#fdf1f2" stroke-width="0.6"/>
<path d="M636.3 328.8 V396.1" stroke="#fdf1f2" stroke-width="0.6"/>
<path d="M670.3 328.8 V396.1" stroke="#fdf1f2" stroke-width="0.6"/>
<path d="M580.6 385.8 H692.1" stroke="#fdf1f2" stroke-width="0.6"/>
<path d="M580.6 370.2 H692.1" stroke="#fdf1f2" stroke-width="0.6"/>
<path d="M580.6 354.7 H692.1" stroke="#fdf1f2" stroke-width="0.6"/>
<path d="M580.6 339.1 H692.1" stroke="#fdf1f2" stroke-width="0.6"/>
<path d="M585.3 328.8 V396.1" stroke="#efebeb" stroke-width="0.9"/>
<path d="M619.3 328.8 V396.1" stroke="#efebeb" stroke-width="0.9"/>
<path d="M653.3 328.8 V396.1" stroke="#efebeb" stroke-width="0.9"/>
<path d="M687.3 328.8 V396.1" stroke="#efebeb" stroke-width="0.9"/>
<path d="M580.6 393.5 H692.1" stroke="#efebeb" stroke-width="0.9"/>
<path d="M580.6 378.0 H692.1" stroke="#efebeb" stroke-width="0.9"/>
<path d="M580.6 362.4 H692.1" stroke="#efebeb" stroke-width="0.9"/>
<path d="M580.6 346.9 H692.1" stroke="#efebeb" stroke-width="0.9"/>
<path d="M580.6 331.3 H692.1" stroke="#efebeb" stroke-width="0.9"/>
<clipPath id="cc12"><rect x="580.6" y="328.8" width="111.5" height="67.4"/></clipPath>
<path d="M588.0 393.2 L687.3 393.2" fill="none" stroke="#ae0535" stroke-width="4.40" stroke-linecap="butt" stroke-linejoin="round" stroke-dasharray="2.5 3.9 9 3.9" clip-path="url(#cc12)"/>
<path d="M586.0 394.0 L687.3 394.0" fill="none" stroke="#0d6b92" stroke-width="3.30" stroke-linecap="butt" stroke-linejoin="round" stroke-dasharray="1.5 1.7" clip-path="url(#cc12)"/>
<path d="M585.3 392.3 L585.4 392.2 L585.5 392.0 L585.6 391.8 L585.7 391.6 L585.9 391.4 L586.0 391.1 L586.2 390.9 L586.3 390.6 L586.5 390.3 L586.7 390.0 L586.9 389.7 L587.0 389.4 L587.2 389.2 L587.3 388.9 L587.5 388.6 L587.6 388.3 L587.8 388.0 L588.0 387.7 L588.1 387.4 L588.3 387.1 L588.4 386.8 L588.6 386.5 L588.8 386.2 L588.9 385.9 L589.1 385.6 L589.2 385.3 L589.4 385.0 L589.6 384.7 L589.8 384.4 L589.9 384.1 L590.1 383.9 L590.3 383.6 L590.4 383.3 L590.6 383.1 L590.8 382.8 L590.9 382.5 L591.1 382.3 L591.3 382.0 L591.5 381.8 L591.7 381.6 L591.9 381.3 L592.1 381.1 L592.3 380.9 L592.5 380.7 L592.8 380.4 L593.0 380.2 L593.2 380.0 L593.5 379.8 L593.7 379.6 L594.0 379.4 L594.2 379.2 L594.5 379.1 L594.8 378.9 L595.0 378.8 L595.3 378.7 L595.5 378.6 L595.7 378.6 L596.0 378.5 L596.2 378.5 L596.5 378.5 L596.7 378.6 L597.0 378.6 L597.2 378.7 L597.5 378.7 L597.7 378.8 L598.0 378.9 L598.2 379.1 L598.4 379.2 L598.7 379.4 L598.9 379.6 L599.1 379.8 L599.3 380.0 L599.5 380.3 L599.7 380.6 L599.9 380.9 L600.1 381.2 L600.3 381.6 L600.5 381.9 L600.7 382.3 L600.9 382.6 L601.1 383.0 L601.3 383.3 L601.4 383.6 L601.6 383.9 L601.8 384.2 L602.0 384.5 L602.2 384.8 L602.3 385.0 L602.5 385.3 L602.7 385.6 L602.8 385.9 L603.0 386.1 L603.2 386.4 L603.3 386.6 L603.5 386.9 L603.7 387.1 L603.8 387.4 L604.0 387.6 L604.2 387.9 L604.3 388.1 L604.5 388.4 L604.7 388.6 L604.8 388.8 L605.0 389.1 L605.1 389.3 L605.3 389.5 L605.5 389.7 L605.6 389.9 L605.8 390.2 L606.0 390.4 L606.2 390.6 L606.4 390.8 L606.6 390.9 L606.8 391.1 L607.1 391.3 L607.4 391.5 L607.7 391.7 L607.9 391.9 L608.2 392.0 L608.5 392.2 L608.8 392.3 L609.0 392.5 L609.3 392.6 L609.5 392.7 L609.6 392.8 L609.8 392.9" fill="none" stroke="#ae0535" stroke-width="4.60" stroke-linecap="butt" stroke-linejoin="round" stroke-dasharray="6 3.5 2.5 3.5" clip-path="url(#cc12)"/>
<path d="M593.5 393.5 L593.7 393.3 L594.0 393.0 L594.3 392.6 L594.6 392.2 L595.0 391.7 L595.4 391.3 L595.9 390.8 L596.3 390.2 L596.8 389.7 L597.2 389.2 L597.7 388.7 L598.1 388.2 L598.5 387.8 L598.9 387.3 L599.3 386.9 L599.6 386.5 L600.0 386.1 L600.3 385.7 L600.7 385.4 L601.1 385.0 L601.4 384.6 L601.8 384.2 L602.1 383.9 L602.4 383.6 L602.7 383.2 L603.1 382.9 L603.4 382.6 L603.7 382.4 L603.9 382.1 L604.2 381.8 L604.5 381.6 L604.7 381.4 L605.0 381.1 L605.2 380.9 L605.4 380.7 L605.7 380.5 L605.9 380.4 L606.1 380.2 L606.4 380.1 L606.6 380.0 L606.8 379.9 L607.1 379.9 L607.3 379.8 L607.5 379.8 L607.8 379.9 L608.0 379.9 L608.2 380.0 L608.4 380.1 L608.6 380.2 L608.9 380.4 L609.1 380.5 L609.3 380.6 L609.6 380.8 L609.9 380.9 L610.2 381.0 L610.5 381.1 L610.8 381.2 L611.1 381.3 L611.5 381.4 L611.9 381.5 L612.3 381.7 L612.6 381.8 L613.1 381.9 L613.5 382.0 L613.9 382.1 L614.3 382.2 L614.7 382.4 L615.1 382.5 L615.5 382.6 L615.9 382.7 L616.3 382.8 L616.6 382.8 L616.9 382.9 L617.2 383.0 L617.4 383.0 L617.7 383.1 L618.0 383.2 L618.3 383.2 L618.6 383.3 L619.0 383.4 L619.5 383.4 L620.0 383.5 L620.6 383.6 L621.3 383.8 L622.1 383.9 L623.0 384.0 L623.9 384.2 L624.8 384.4 L625.9 384.5 L626.9 384.7 L628.1 384.9 L629.2 385.1 L630.4 385.3 L631.7 385.5 L632.9 385.7 L634.3 385.9 L635.6 386.1 L637.0 386.2 L638.4 386.4 L639.9 386.6 L641.4 386.8 L642.9 387.1 L644.5 387.3 L646.2 387.5 L647.9 387.7 L649.6 387.9 L651.3 388.1 L653.0 388.3 L654.8 388.5 L656.6 388.7 L658.3 388.9 L660.1 389.0 L662.0 389.2 L663.9 389.3 L666.0 389.5 L668.2 389.6 L670.4 389.7 L672.6 389.8 L674.8 389.9 L676.9 390.0 L679.0 390.1 L680.9 390.2 L682.6 390.3 L684.2 390.3 L685.5 390.4 L686.6 390.4" fill="none" stroke="#0d6b92" stroke-width="4.60" stroke-linecap="butt" stroke-linejoin="round" stroke-dasharray="7 3.8 2.5 3.8 9 3.8 2.5 3.8" clip-path="url(#cc12)"/>
<path d="M588.7 348.9 L588.8 348.8 L588.9 348.6 L589.1 348.4 L589.3 348.2 L589.5 348.0 L589.7 347.7 L589.9 347.5 L590.1 347.2 L590.3 346.9 L590.6 346.7 L590.8 346.4 L591.0 346.1 L591.2 345.9 L591.4 345.7 L591.6 345.4 L591.8 345.2 L592.0 345.0 L592.1 344.8 L592.3 344.6 L592.5 344.4 L592.7 344.2 L592.8 344.0 L593.0 343.8 L593.2 343.6 L593.4 343.4 L593.6 343.2 L593.9 343.0 L594.1 342.9 L594.4 342.7 L594.7 342.5 L595.0 342.3 L595.3 342.1 L595.6 341.9 L595.9 341.7 L596.2 341.5 L596.6 341.3 L596.9 341.1 L597.3 341.0 L597.7 340.8 L598.1 340.7 L598.5 340.6 L598.9 340.5 L599.3 340.5 L599.8 340.5 L600.2 340.5 L600.7 340.5 L601.1 340.5 L601.6 340.6 L602.1 340.6 L602.7 340.7 L603.2 340.8 L603.8 340.9 L604.4 341.0 L605.0 341.1 L605.7 341.2 L606.4 341.3 L607.1 341.4 L607.9 341.6 L608.7 341.7 L609.5 341.9 L610.4 342.0 L611.3 342.2 L612.2 342.4 L613.1 342.6 L614.1 342.8 L615.1 342.9 L616.1 343.2 L617.2 343.4 L618.2 343.6 L619.3 343.8 L620.4 344.0 L621.6 344.2 L622.8 344.5 L624.0 344.8 L625.3 345.0 L626.6 345.3 L627.9 345.5 L629.2 345.8 L630.6 346.1 L631.9 346.4 L633.2 346.6 L634.5 346.9 L635.7 347.1 L637.0 347.4 L638.2 347.6 L639.4 347.8 L640.6 348.1 L641.8 348.3 L643.0 348.5 L644.2 348.7 L645.4 348.9 L646.5 349.1 L647.7 349.3 L648.8 349.5 L650.0 349.7 L651.1 349.9 L652.2 350.1 L653.3 350.3 L654.4 350.5 L655.4 350.7 L656.4 350.8 L657.4 351.0 L658.3 351.1 L659.3 351.3 L660.2 351.4 L661.2 351.6 L662.2 351.7 L663.2 351.9 L664.2 352.1 L665.3 352.2 L666.4 352.4 L667.6 352.7 L668.9 352.9 L670.3 353.2 L671.8 353.5 L673.4 353.8 L675.0 354.1 L676.7 354.4 L678.3 354.7 L679.9 355.1 L681.5 355.4 L682.9 355.7 L684.3 355.9 L685.5 356.2 L686.5 356.4 L687.3 356.5" fill="none" stroke="#ae0535" stroke-width="3.50" stroke-linecap="butt" stroke-linejoin="round" stroke-dasharray="1.6 1.55" clip-path="url(#cc12)"/>
<path d="M592.6 342.1 L592.9 342.0 L593.2 342.0 L593.6 341.9 L594.0 341.9 L594.4 341.8 L594.9 341.7 L595.3 341.6 L595.9 341.6 L596.4 341.5 L596.9 341.4 L597.4 341.4 L597.9 341.3 L598.4 341.3 L598.9 341.3 L599.4 341.3 L599.8 341.3 L600.3 341.4 L600.8 341.4 L601.2 341.5 L601.7 341.5 L602.2 341.6 L602.7 341.7 L603.1 341.8 L603.6 341.9 L604.1 342.0 L604.7 342.1 L605.2 342.1 L605.7 342.2 L606.2 342.3 L606.7 342.4 L607.1 342.5 L607.5 342.6 L607.9 342.7 L608.3 342.8 L608.8 342.8 L609.2 342.9 L609.8 343.1 L610.4 343.2 L611.1 343.3 L611.9 343.5 L612.8 343.6 L613.9 343.8 L615.1 344.0 L616.4 344.2 L617.8 344.4 L619.4 344.7 L621.0 345.0 L622.7 345.2 L624.5 345.5 L626.3 345.8 L628.1 346.1 L629.9 346.4 L631.8 346.6 L633.5 346.9 L635.3 347.1 L637.0 347.4 L638.7 347.6 L640.4 347.8 L642.1 348.0 L643.9 348.2 L645.6 348.4 L647.4 348.5 L649.1 348.7 L650.9 348.9 L652.5 349.0 L654.2 349.2 L655.8 349.3 L657.3 349.5 L658.7 349.6 L660.1 349.7 L661.4 349.8 L662.6 349.9 L663.7 350.0 L664.7 350.0 L665.7 350.1 L666.7 350.2 L667.6 350.2 L668.5 350.3 L669.3 350.3 L670.2 350.3 L671.0 350.4 L671.9 350.4 L672.8 350.4 L673.7 350.5 L674.6 350.5 L675.6 350.5 L676.6 350.6 L677.7 350.6 L678.7 350.6 L679.7 350.7 L680.7 350.7 L681.6 350.7 L682.5 350.7 L683.4 350.7 L684.2 350.7 L684.8 350.8 L685.4 350.8 L685.9 350.8" fill="none" stroke="#0d6b92" stroke-width="3.50" stroke-linecap="butt" stroke-linejoin="round" stroke-dasharray="1.6 1.55" clip-path="url(#cc12)"/>
<rect x="580.6" y="328.8" width="111.5" height="67.4" fill="none" stroke="#9a9a9a" stroke-width="1"/>
<rect x="348.2" y="401.3" width="111.5" height="19.6" fill="#d2cdcd" stroke="#a29e9e" stroke-width="0.9"/>
<path d="M391.6 416.8 L350.3 405.3 L364.0 404.6" fill="none" stroke="#ae0535" stroke-width="2.5" stroke-linejoin="bevel"/>
<text x="396.0" y="415.7" font-family="&quot;Liberation Sans&quot;, Arial, sans-serif" font-size="14.00" font-weight="normal" fill="#111" text-anchor="start" >d1</text>
<rect x="348.2" y="421.2" width="111.5" height="67.4" fill="#fff"/>
<path d="M369.9 421.2 V488.6" stroke="#fdf1f2" stroke-width="0.6"/>
<path d="M403.9 421.2 V488.6" stroke="#fdf1f2" stroke-width="0.6"/>
<path d="M437.9 421.2 V488.6" stroke="#fdf1f2" stroke-width="0.6"/>
<path d="M348.2 478.2 H459.7" stroke="#fdf1f2" stroke-width="0.6"/>
<path d="M348.2 462.7 H459.7" stroke="#fdf1f2" stroke-width="0.6"/>
<path d="M348.2 447.1 H459.7" stroke="#fdf1f2" stroke-width="0.6"/>
<path d="M348.2 431.6 H459.7" stroke="#fdf1f2" stroke-width="0.6"/>
<path d="M352.9 421.2 V488.6" stroke="#efebeb" stroke-width="0.9"/>
<path d="M386.9 421.2 V488.6" stroke="#efebeb" stroke-width="0.9"/>
<path d="M420.9 421.2 V488.6" stroke="#efebeb" stroke-width="0.9"/>
<path d="M454.9 421.2 V488.6" stroke="#efebeb" stroke-width="0.9"/>
<path d="M348.2 486.0 H459.7" stroke="#efebeb" stroke-width="0.9"/>
<path d="M348.2 470.4 H459.7" stroke="#efebeb" stroke-width="0.9"/>
<path d="M348.2 454.9 H459.7" stroke="#efebeb" stroke-width="0.9"/>
<path d="M348.2 439.4 H459.7" stroke="#efebeb" stroke-width="0.9"/>
<path d="M348.2 423.8 H459.7" stroke="#efebeb" stroke-width="0.9"/>
<clipPath id="cc20"><rect x="348.2" y="421.2" width="111.5" height="67.4"/></clipPath>
<path d="M352.9 486.0 L454.9 486.0" fill="none" stroke="#0d6b92" stroke-width="6.20" stroke-linecap="butt" stroke-linejoin="round" clip-path="url(#cc20)"/>
<rect x="348.2" y="421.2" width="111.5" height="67.4" fill="none" stroke="#9a9a9a" stroke-width="1"/>
<path d="M348.2 486.0 h-5.5" stroke="#222" stroke-width="1.3"/>
<text x="340.6" y="491.5" font-family="&quot;Liberation Sans&quot;, Arial, sans-serif" font-size="15.40" font-weight="normal" fill="#111" text-anchor="end" >0</text>
<path d="M348.2 470.4 h-5.5" stroke="#222" stroke-width="1.3"/>
<text x="340.6" y="476.0" font-family="&quot;Liberation Sans&quot;, Arial, sans-serif" font-size="15.40" font-weight="normal" fill="#111" text-anchor="end" >1</text>
<path d="M348.2 454.9 h-5.5" stroke="#222" stroke-width="1.3"/>
<text x="340.6" y="460.4" font-family="&quot;Liberation Sans&quot;, Arial, sans-serif" font-size="15.40" font-weight="normal" fill="#111" text-anchor="end" >2</text>
<path d="M348.2 439.4 h-5.5" stroke="#222" stroke-width="1.3"/>
<text x="340.6" y="444.9" font-family="&quot;Liberation Sans&quot;, Arial, sans-serif" font-size="15.40" font-weight="normal" fill="#111" text-anchor="end" >3</text>
<path d="M348.2 423.8 h-5.5" stroke="#222" stroke-width="1.3"/>
<text x="340.6" y="429.3" font-family="&quot;Liberation Sans&quot;, Arial, sans-serif" font-size="15.40" font-weight="normal" fill="#111" text-anchor="end" >4</text>
<rect x="464.5" y="401.3" width="111.5" height="19.6" fill="#d2cdcd" stroke="#a29e9e" stroke-width="0.9"/>
<path d="M573.9 404.9 L532.6 416.1 L543.0 409.9" fill="none" stroke="#ae0535" stroke-width="2.5" stroke-linejoin="bevel"/>
<text x="528.5" y="415.7" font-family="&quot;Liberation Sans&quot;, Arial, sans-serif" font-size="14.00" font-weight="normal" fill="#111" text-anchor="end" >d2</text>
<rect x="464.5" y="421.2" width="111.5" height="67.4" fill="#fff"/>
<path d="M486.2 421.2 V488.6" stroke="#fdf1f2" stroke-width="0.6"/>
<path d="M520.2 421.2 V488.6" stroke="#fdf1f2" stroke-width="0.6"/>
<path d="M554.2 421.2 V488.6" stroke="#fdf1f2" stroke-width="0.6"/>
<path d="M464.5 478.2 H576.0" stroke="#fdf1f2" stroke-width="0.6"/>
<path d="M464.5 462.7 H576.0" stroke="#fdf1f2" stroke-width="0.6"/>
<path d="M464.5 447.1 H576.0" stroke="#fdf1f2" stroke-width="0.6"/>
<path d="M464.5 431.6 H576.0" stroke="#fdf1f2" stroke-width="0.6"/>
<path d="M469.2 421.2 V488.6" stroke="#efebeb" stroke-width="0.9"/>
<path d="M503.2 421.2 V488.6" stroke="#efebeb" stroke-width="0.9"/>
<path d="M537.2 421.2 V488.6" stroke="#efebeb" stroke-width="0.9"/>
<path d="M571.2 421.2 V488.6" stroke="#efebeb" stroke-width="0.9"/>
<path d="M464.5 486.0 H576.0" stroke="#efebeb" stroke-width="0.9"/>
<path d="M464.5 470.4 H576.0" stroke="#efebeb" stroke-width="0.9"/>
<path d="M464.5 454.9 H576.0" stroke="#efebeb" stroke-width="0.9"/>
<path d="M464.5 439.4 H576.0" stroke="#efebeb" stroke-width="0.9"/>
<path d="M464.5 423.8 H576.0" stroke="#efebeb" stroke-width="0.9"/>
<clipPath id="cc21"><rect x="464.5" y="421.2" width="111.5" height="67.4"/></clipPath>
<path d="M474.6 485.7 L571.2 485.7" fill="none" stroke="#ae0535" stroke-width="4.40" stroke-linecap="butt" stroke-linejoin="round" stroke-dasharray="2.5 3.9 9 3.9" clip-path="url(#cc21)"/>
<path d="M472.6 486.5 L571.2 486.5" fill="none" stroke="#0d6b92" stroke-width="3.30" stroke-linecap="butt" stroke-linejoin="round" stroke-dasharray="1.5 1.7" clip-path="url(#cc21)"/>
<path d="M470.0 486.0 L470.0 485.6 L470.1 485.2 L470.1 484.6 L470.1 484.1 L470.2 483.4 L470.2 482.7 L470.3 482.0 L470.3 481.2 L470.4 480.5 L470.4 479.7 L470.4 478.9 L470.5 478.1 L470.5 477.4 L470.6 476.7 L470.6 475.9 L470.6 475.1 L470.7 474.3 L470.7 473.4 L470.7 472.6 L470.7 471.7 L470.8 470.8 L470.8 470.0 L470.8 469.1 L470.8 468.4 L470.9 467.7 L470.9 467.1 L470.9 466.5 L470.9 466.1" fill="none" stroke="#0d6b92" stroke-width="3.20" stroke-linecap="round" stroke-linejoin="round" clip-path="url(#cc21)"/>
<path d="M469.6 486.8 L469.9 486.0" fill="none" stroke="#0d6b92" stroke-width="5.40" stroke-linecap="round" stroke-linejoin="round" clip-path="url(#cc21)"/>
<path d="M474.3 457.2 L474.4 457.3 L474.5 457.5 L474.6 457.6 L474.8 457.8 L475.0 458.0 L475.1 458.2 L475.3 458.4 L475.5 458.6 L475.7 458.8 L475.9 459.0 L476.1 459.2 L476.3 459.5 L476.5 459.7 L476.7 459.9 L476.9 460.1 L477.0 460.3 L477.2 460.5 L477.4 460.7 L477.5 460.9 L477.7 461.1 L477.9 461.3 L478.1 461.5 L478.3 461.7 L478.5 461.9 L478.7 462.2 L478.9 462.4 L479.1 462.7 L479.4 463.0 L479.7 463.3 L480.0 463.6 L480.3 464.0 L480.6 464.3 L480.9 464.7 L481.2 465.1 L481.6 465.5 L481.9 465.9 L482.3 466.3 L482.6 466.7 L483.0 467.1 L483.4 467.4 L483.8 467.8 L484.2 468.1 L484.6 468.4 L485.0 468.8 L485.4 469.1 L485.8 469.4 L486.2 469.7 L486.7 470.0 L487.1 470.3 L487.5 470.6 L488.0 470.8 L488.4 471.1 L488.9 471.4 L489.4 471.6 L489.8 471.9 L490.3 472.2 L490.7 472.4 L491.2 472.6 L491.7 472.9 L492.1 473.1 L492.6 473.3 L493.1 473.5 L493.6 473.7 L494.0 473.9 L494.5 474.2 L495.0 474.3 L495.5 474.5 L496.0 474.7 L496.6 474.9 L497.1 475.1 L497.6 475.3 L498.1 475.5 L498.7 475.7 L499.2 475.8 L499.8 476.0 L500.3 476.2 L500.9 476.3 L501.4 476.5 L502.0 476.7 L502.6 476.8 L503.2 477.0 L503.9 477.1 L504.5 477.3 L505.2 477.4 L506.0 477.6 L506.7 477.7 L507.5 477.9 L508.3 478.0 L509.1 478.2 L510.0 478.3 L510.8 478.4 L511.7 478.6 L512.5 478.7 L513.4 478.8 L514.3 479.0 L515.1 479.1 L516.0 479.2 L516.8 479.3 L517.6 479.4 L518.4 479.5 L519.1 479.6 L519.8 479.7 L520.5 479.8 L521.1 479.9 L521.9 480.0 L522.6 480.0 L523.4 480.1 L524.2 480.2 L525.1 480.3 L526.1 480.4 L527.2 480.5 L528.4 480.6 L529.7 480.7 L531.1 480.8 L532.6 480.9 L534.2 481.0 L535.9 481.1 L537.7 481.2 L539.5 481.4 L541.3 481.5 L543.1 481.6 L544.8 481.7 L546.6 481.8 L548.3 481.9 L549.9 482.0 L551.5 482.1 L553.0 482.2 L554.6 482.3 L556.2 482.3 L557.8 482.4 L559.4 482.5 L560.9 482.5 L562.4 482.6 L563.9 482.7 L565.3 482.7 L566.6 482.7 L567.8 482.8 L568.8 482.8 L569.8 482.9 L570.5 482.9" fill="none" stroke="#0d6b92" stroke-width="4.60" stroke-linecap="butt" stroke-linejoin="round" stroke-dasharray="2.5 3.8 9 3.8" clip-path="url(#cc21)"/>
<path d="M472.6 484.4 L472.6 483.7 L472.6 482.8 L472.6 481.7 L472.6 480.5 L472.6 479.2 L472.6 477.8 L472.5 476.4 L472.5 474.9 L472.5 473.5 L472.5 472.0 L472.5 470.7 L472.6 469.4 L472.6 468.3 L472.6 467.3 L472.6 466.5 L472.7 465.7 L472.7 465.0 L472.8 464.4 L472.8 463.8 L472.9 463.2 L472.9 462.7 L473.0 462.3 L473.0 461.8 L473.1 461.4 L473.2 460.9 L473.3 460.5 L473.3 460.0 L473.4 459.6 L473.5 459.1 L473.6 458.7 L473.7 458.2 L473.7 457.8 L473.8 457.5 L473.9 457.1 L474.0 456.7 L474.1 456.3 L474.2 456.0 L474.3 455.6 L474.4 455.2 L474.6 454.7 L474.8 454.3 L475.0 453.8 L475.2 453.3 L475.4 452.7 L475.7 452.2 L476.0 451.6 L476.3 450.9 L476.6 450.3 L476.9 449.7 L477.2 449.0 L477.6 448.4 L477.9 447.8 L478.3 447.2 L478.7 446.6 L479.0 446.1 L479.4 445.6 L479.8 445.1 L480.2 444.6 L480.6 444.1 L481.1 443.7 L481.5 443.3 L482.0 442.8 L482.4 442.4 L482.9 442.0 L483.4 441.7 L483.8 441.3 L484.3 441.0 L484.7 440.7 L485.1 440.4 L485.5 440.1 L485.9 439.9 L486.3 439.7 L486.6 439.5 L487.0 439.4 L487.3 439.3 L487.7 439.2 L488.0 439.1 L488.3 439.1 L488.6 439.0 L489.0 438.9 L489.3 438.9 L489.6 438.8 L489.9 438.8 L490.3 438.7 L490.6 438.7 L490.9 438.6 L491.2 438.5 L491.5 438.5 L491.8 438.4 L492.0 438.4 L492.3 438.3 L492.6 438.3 L492.9 438.3 L493.3 438.3 L493.7 438.2 L494.1 438.2 L494.5 438.2 L495.0 438.3 L495.6 438.3 L496.2 438.3 L496.8 438.4 L497.5 438.4 L498.2 438.5 L499.0 438.5 L499.7 438.6 L500.5 438.7 L501.3 438.7 L502.1 438.8 L502.9 439.0 L503.7 439.1 L504.5 439.2 L505.2 439.4 L506.0 439.5 L506.8 439.7 L507.6 439.9 L508.4 440.1 L509.3 440.3 L510.1 440.5 L510.9 440.7 L511.8 441.0 L512.6 441.2 L513.5 441.5 L514.3 441.7 L515.1 442.0 L516.0 442.2 L516.8 442.5 L517.6 442.7 L518.4 442.9 L519.1 443.1 L519.8 443.3 L520.5 443.6 L521.1 443.8 L521.9 444.0 L522.6 444.2 L523.4 444.5 L524.2 444.8 L525.1 445.1 L526.1 445.4 L527.2 445.8 L528.4 446.2 L529.7 446.6 L531.1 447.2 L532.6 447.7 L534.3 448.3 L536.0 448.9 L537.7 449.5 L539.5 450.1 L541.3 450.8 L543.1 451.5 L544.9 452.1 L546.6 452.8 L548.3 453.4 L549.9 454.0 L551.5 454.6 L553.0 455.2 L554.5 455.8 L556.1 456.4 L557.6 457.0 L559.1 457.7 L560.6 458.3 L562.1 458.9 L563.5 459.5 L564.8 460.1 L566.1 460.6 L567.2 461.1 L568.2 461.5 L569.1 461.9 L569.8 462.2" fill="none" stroke="#ae0535" stroke-width="3.50" stroke-linecap="butt" stroke-linejoin="round" stroke-dasharray="1.6 1.55" clip-path="url(#cc21)"/>
<path d="M471.8 484.4 L471.8 483.6 L471.8 482.5 L471.8 481.2 L471.8 479.9 L471.8 478.3 L471.9 476.7 L471.9 475.0 L471.9 473.3 L471.9 471.5 L472.0 469.6 L472.0 467.8 L472.0 466.1 L472.0 464.3 L472.1 462.7 L472.1 461.0 L472.1 459.3 L472.2 457.4 L472.2 455.6 L472.2 453.7 L472.3 451.8 L472.3 449.9 L472.3 448.1 L472.4 446.3 L472.4 444.6 L472.5 443.1 L472.5 441.7 L472.6 440.4 L472.6 439.4 L472.6 438.5 L472.7 437.8 L472.7 437.2 L472.8 436.8 L472.8 436.5 L472.8 436.2 L472.9 436.1 L472.9 436.0 L473.0 435.9 L473.0 435.9 L473.1 435.8 L473.1 435.8 L473.2 435.6 L473.3 435.5 L473.4 435.3 L473.4 435.0 L473.5 434.9 L473.6 434.7 L473.7 434.5 L473.8 434.3 L473.9 434.2 L474.0 434.0 L474.1 433.9 L474.3 433.8 L474.4 433.6 L474.6 433.5 L474.8 433.4 L475.0 433.3 L475.2 433.2 L475.4 433.1 L475.7 433.0 L476.0 432.9 L476.3 432.8 L476.6 432.7 L476.9 432.7 L477.2 432.6 L477.5 432.5 L477.9 432.5 L478.2 432.5 L478.6 432.5 L479.0 432.5 L479.4 432.5 L479.8 432.6 L480.2 432.6 L480.6 432.7 L481.0 432.8 L481.5 432.9 L481.9 433.0 L482.4 433.1 L482.8 433.3 L483.3 433.4 L483.8 433.6 L484.4 433.7 L485.0 433.9 L485.6 434.1 L486.2 434.2 L486.9 434.4 L487.5 434.5 L488.2 434.7 L488.8 434.9 L489.5 435.0 L490.2 435.2 L491.0 435.4 L491.7 435.6 L492.6 435.8 L493.5 436.0 L494.4 436.2 L495.5 436.5 L496.6 436.7 L497.8 437.0 L499.1 437.3 L500.5 437.7 L501.9 438.0 L503.5 438.4 L505.2 438.8 L506.9 439.2 L508.6 439.6 L510.4 440.0 L512.1 440.5 L513.9 440.9 L515.7 441.3 L517.5 441.7 L519.2 442.1 L520.9 442.5 L522.5 442.8 L524.2 443.2 L525.8 443.5 L527.4 443.8 L529.0 444.2 L530.6 444.5 L532.3 444.8 L533.9 445.1 L535.5 445.4 L537.2 445.8 L538.9 446.1 L540.6 446.4 L542.3 446.8 L544.0 447.1 L545.8 447.5 L547.8 447.9 L549.8 448.3 L551.9 448.8 L554.1 449.2 L556.2 449.7 L558.4 450.1 L560.4 450.6 L562.4 451.0 L564.3 451.4 L566.0 451.7 L567.5 452.1 L568.8 452.3 L569.8 452.6" fill="none" stroke="#0d6b92" stroke-width="3.50" stroke-linecap="butt" stroke-linejoin="round" stroke-dasharray="1.6 1.55" clip-path="url(#cc21)"/>
<rect x="464.5" y="421.2" width="111.5" height="67.4" fill="none" stroke="#9a9a9a" stroke-width="1"/>
<rect x="580.6" y="401.3" width="111.5" height="19.6" fill="#d2cdcd" stroke="#a29e9e" stroke-width="0.9"/>
<path d="M689.7 416.3 L648.4 404.9 L659.9 412.2" fill="none" stroke="#ae0535" stroke-width="2.5" stroke-linejoin="bevel"/>
<text x="645.0" y="415.7" font-family="&quot;Liberation Sans&quot;, Arial, sans-serif" font-size="14.00" font-weight="normal" fill="#111" text-anchor="end" >d3</text>
<rect x="580.6" y="421.2" width="111.5" height="67.4" fill="#fff"/>
<path d="M602.3 421.2 V488.6" stroke="#fdf1f2" stroke-width="0.6"/>
<path d="M636.3 421.2 V488.6" stroke="#fdf1f2" stroke-width="0.6"/>
<path d="M670.3 421.2 V488.6" stroke="#fdf1f2" stroke-width="0.6"/>
<path d="M580.6 478.2 H692.1" stroke="#fdf1f2" stroke-width="0.6"/>
<path d="M580.6 462.7 H692.1" stroke="#fdf1f2" stroke-width="0.6"/>
<path d="M580.6 447.1 H692.1" stroke="#fdf1f2" stroke-width="0.6"/>
<path d="M580.6 431.6 H692.1" stroke="#fdf1f2" stroke-width="0.6"/>
<path d="M585.3 421.2 V488.6" stroke="#efebeb" stroke-width="0.9"/>
<path d="M619.3 421.2 V488.6" stroke="#efebeb" stroke-width="0.9"/>
<path d="M653.3 421.2 V488.6" stroke="#efebeb" stroke-width="0.9"/>
<path d="M687.3 421.2 V488.6" stroke="#efebeb" stroke-width="0.9"/>
<path d="M580.6 486.0 H692.1" stroke="#efebeb" stroke-width="0.9"/>
<path d="M580.6 470.4 H692.1" stroke="#efebeb" stroke-width="0.9"/>
<path d="M580.6 454.9 H692.1" stroke="#efebeb" stroke-width="0.9"/>
<path d="M580.6 439.4 H692.1" stroke="#efebeb" stroke-width="0.9"/>
<path d="M580.6 423.8 H692.1" stroke="#efebeb" stroke-width="0.9"/>
<clipPath id="cc22"><rect x="580.6" y="421.2" width="111.5" height="67.4"/></clipPath>
<path d="M600.9 485.7 L687.3 485.7" fill="none" stroke="#ae0535" stroke-width="4.40" stroke-linecap="butt" stroke-linejoin="round" stroke-dasharray="2.5 3.9 9 3.9" clip-path="url(#cc22)"/>
<path d="M598.9 486.5 L687.3 486.5" fill="none" stroke="#0d6b92" stroke-width="3.30" stroke-linecap="butt" stroke-linejoin="round" stroke-dasharray="1.5 1.7" clip-path="url(#cc22)"/>
<path d="M599.6 475.1 L599.7 475.3 L599.8 475.5 L599.9 475.7 L600.0 475.9 L600.1 476.2 L600.3 476.5 L600.4 476.8 L600.6 477.1 L600.8 477.5 L600.9 477.8 L601.1 478.1 L601.3 478.4 L601.4 478.7 L601.6 479.0 L601.8 479.3 L602.0 479.6 L602.1 479.9 L602.3 480.2 L602.5 480.5 L602.7 480.8 L602.9 481.1 L603.1 481.3 L603.3 481.6 L603.5 481.9 L603.7 482.2 L603.9 482.4 L604.1 482.7 L604.3 482.9 L604.6 483.1 L604.8 483.3 L605.1 483.5 L605.4 483.7 L605.6 483.9 L605.9 484.1 L606.2 484.2 L606.5 484.4 L606.7 484.5 L607.0 484.7 L607.2 484.8 L607.4 484.9 L607.6 485.0 L607.7 485.1" fill="none" stroke="#ae0535" stroke-width="4.20" stroke-linecap="butt" stroke-linejoin="round" stroke-dasharray="3 2.5" clip-path="url(#cc22)"/>
<path d="M585.3 455.4 L585.5 455.4 L585.7 455.4 L585.9 455.4 L586.2 455.5 L586.5 455.5 L586.8 455.5 L587.2 455.6 L587.5 455.6 L587.9 455.6 L588.2 455.7 L588.5 455.7 L588.8 455.7 L589.1 455.8 L589.4 455.8 L589.6 455.9 L589.8 455.9 L590.1 456.0 L590.3 456.0 L590.5 456.1 L590.7 456.1 L590.8 456.2 L591.0 456.2 L591.2 456.3 L591.4 456.3 L591.6 456.4 L591.7 456.5 L591.9 456.5 L592.1 456.6 L592.3 456.7 L592.5 456.8 L592.6 456.9 L592.8 457.0 L593.0 457.0 L593.2 457.1 L593.4 457.2 L593.5 457.3 L593.7 457.5 L593.9 457.6 L594.0 457.7 L594.2 457.8 L594.3 457.9 L594.5 458.0 L594.6 458.1 L594.7 458.2 L594.9 458.3 L595.0 458.5 L595.1 458.6 L595.2 458.7 L595.3 458.8 L595.4 458.9 L595.5 459.1 L595.6 459.2 L595.7 459.4 L595.8 459.5 L595.9 459.7 L596.0 459.9 L596.1 460.1 L596.2 460.3 L596.3 460.5 L596.4 460.8 L596.5 461.0 L596.6 461.3 L596.7 461.5 L596.8 461.8 L596.9 462.1 L597.0 462.3 L597.1 462.6 L597.2 462.9 L597.3 463.2 L597.3 463.5 L597.4 463.7 L597.5 464.0 L597.5 464.3 L597.6 464.5 L597.6 464.8 L597.7 465.1 L597.7 465.4 L597.8 465.7 L597.8 465.9 L597.9 466.2 L597.9 466.5 L597.9 466.8 L598.0 467.2 L598.0 467.5 L598.0 467.8 L598.1 468.2 L598.1 468.5 L598.1 468.9 L598.1 469.3 L598.1 469.7 L598.2 470.1 L598.2 470.4 L598.2 470.8 L598.2 471.2 L598.2 471.6 L598.2 472.0 L598.2 472.4 L598.2 472.8 L598.2 473.2 L598.2 473.6 L598.2 474.0 L598.2 474.5 L598.2 474.9 L598.2 475.4 L598.2 475.8 L598.2 476.3 L598.2 476.7 L598.2 477.1 L598.2 477.4 L598.2 477.7 L598.2 478.0 L598.2 478.2" fill="none" stroke="#ae0535" stroke-width="5.20" stroke-linecap="butt" stroke-linejoin="round" clip-path="url(#cc22)"/>
<path d="M585.3 485.5 L585.5 485.5 L585.7 485.5 L585.9 485.5 L586.2 485.4 L586.5 485.4 L586.8 485.4 L587.2 485.3 L587.5 485.3 L587.9 485.3 L588.2 485.2 L588.5 485.2 L588.8 485.2 L589.1 485.1 L589.4 485.1 L589.6 485.0 L589.8 485.0 L590.1 484.9 L590.3 484.9 L590.5 484.8 L590.7 484.8 L590.9 484.7 L591.1 484.6 L591.2 484.6 L591.4 484.5 L591.6 484.5 L591.8 484.4 L591.9 484.4 L592.1 484.3 L592.3 484.2 L592.4 484.2 L592.6 484.1 L592.7 484.0 L592.9 484.0 L593.0 483.9 L593.2 483.9 L593.3 483.8 L593.5 483.7 L593.6 483.7 L593.7 483.6 L593.9 483.5 L594.0 483.4 L594.1 483.4 L594.3 483.3 L594.4 483.2 L594.6 483.1 L594.7 483.0 L594.8 483.0 L595.0 482.9 L595.1 482.8 L595.2 482.7 L595.4 482.6 L595.5 482.5 L595.6 482.4 L595.7 482.3 L595.9 482.2 L596.0 482.1 L596.1 482.0 L596.2 481.9 L596.3 481.8 L596.4 481.6 L596.5 481.5 L596.6 481.4 L596.8 481.2 L596.9 481.1 L597.0 480.9 L597.1 480.8 L597.1 480.7 L597.2 480.5 L597.3 480.4 L597.4 480.2 L597.5 480.1 L597.6 479.9 L597.6 479.8 L597.7 479.6 L597.8 479.5 L597.8 479.3 L597.9 479.1 L598.0 479.0 L598.0 478.8 L598.1 478.7 L598.1 478.5 L598.2 478.4 L598.2 478.3 L598.2 478.2" fill="none" stroke="#0d6b92" stroke-width="5.20" stroke-linecap="butt" stroke-linejoin="round" clip-path="url(#cc22)"/>
<path d="M605.0 470.4 L605.1 470.5 L605.3 470.7 L605.4 470.8 L605.6 470.9 L605.7 471.1 L605.9 471.2 L606.1 471.4 L606.4 471.6 L606.6 471.8 L606.9 472.0 L607.2 472.2 L607.6 472.4 L608.0 472.6 L608.4 472.8 L608.9 473.0 L609.4 473.2 L609.9 473.4 L610.4 473.7 L611.0 473.9 L611.6 474.1 L612.2 474.4 L612.9 474.6 L613.6 474.9 L614.4 475.1 L615.2 475.4 L616.1 475.6 L617.0 475.8 L617.9 476.0 L619.0 476.3 L620.1 476.5 L621.2 476.7 L622.4 476.9 L623.6 477.2 L624.9 477.4 L626.3 477.6 L627.6 477.8 L629.0 478.0 L630.4 478.2 L631.9 478.4 L633.4 478.6 L634.8 478.8 L636.3 479.0 L637.8 479.2 L639.3 479.4 L640.9 479.6 L642.4 479.7 L644.0 479.9 L645.7 480.1 L647.3 480.3 L649.0 480.4 L650.7 480.6 L652.4 480.8 L654.1 480.9 L655.9 481.1 L657.6 481.2 L659.4 481.3 L661.3 481.5 L663.3 481.6 L665.5 481.7 L667.7 481.8 L669.9 481.9 L672.2 482.0 L674.5 482.1 L676.7 482.2 L678.7 482.3 L680.7 482.3 L682.5 482.4 L684.1 482.5 L685.5 482.5 L686.6 482.6" fill="none" stroke="#0d6b92" stroke-width="4.60" stroke-linecap="butt" stroke-linejoin="round" stroke-dasharray="2.5 3.8 9 3.8" clip-path="url(#cc22)"/>
<path d="M598.7 484.4 L598.7 483.8 L598.7 482.9 L598.7 482.0 L598.7 480.9 L598.7 479.7 L598.7 478.5 L598.7 477.2 L598.7 475.8 L598.7 474.4 L598.7 473.0 L598.7 471.5 L598.7 470.1 L598.7 468.7 L598.7 467.3 L598.7 466.0 L598.7 464.5 L598.7 462.9 L598.7 461.3 L598.7 459.7 L598.7 458.0 L598.8 456.4 L598.8 454.8 L598.8 453.2 L598.8 451.8 L598.8 450.4 L598.8 449.2 L598.9 448.1 L598.9 447.1 L598.9 446.4 L599.0 445.7 L599.0 445.3 L599.0 444.9 L599.1 444.6 L599.1 444.4 L599.2 444.3 L599.2 444.2 L599.3 444.1 L599.3 444.1 L599.4 444.0 L599.5 444.0 L599.5 443.9 L599.6 443.7 L599.6 443.5 L599.7 443.3 L599.7 443.2 L599.8 443.0 L599.8 442.8 L599.9 442.7 L599.9 442.6 L600.0 442.4 L600.0 442.3 L600.1 442.2 L600.2 442.0 L600.3 441.9 L600.4 441.8 L600.6 441.7 L600.8 441.6 L601.0 441.5 L601.2 441.4 L601.4 441.3 L601.7 441.2 L602.0 441.1 L602.2 441.0 L602.5 440.9 L602.8 440.8 L603.1 440.7 L603.4 440.6 L603.7 440.6 L604.0 440.5 L604.3 440.4 L604.6 440.4 L604.9 440.3 L605.2 440.3 L605.5 440.2 L605.8 440.1 L606.1 440.1 L606.4 440.0 L606.7 440.0 L607.1 440.0 L607.4 439.9 L607.8 439.9 L608.2 439.9 L608.6 439.8 L609.1 439.8 L609.6 439.8 L610.2 439.8 L610.7 439.7 L611.3 439.7 L612.0 439.7 L612.6 439.7 L613.3 439.7 L614.0 439.7 L614.7 439.7 L615.3 439.7 L616.0 439.7 L616.7 439.7 L617.3 439.8 L617.9 439.8 L618.5 439.9 L619.1 440.0 L619.7 440.1 L620.3 440.2 L620.8 440.3 L621.4 440.4 L621.9 440.6 L622.5 440.7 L623.1 440.9 L623.6 441.0 L624.2 441.2 L624.8 441.3 L625.5 441.5 L626.1 441.7 L626.7 441.9 L627.4 442.0 L628.0 442.2 L628.6 442.4 L629.3 442.5 L629.9 442.7 L630.6 442.9 L631.3 443.1 L632.0 443.3 L632.7 443.5 L633.5 443.8 L634.4 444.0 L635.3 444.3 L636.3 444.6 L637.4 445.0 L638.5 445.3 L639.7 445.7 L641.0 446.2 L642.3 446.6 L643.6 447.0 L645.0 447.5 L646.4 448.0 L647.8 448.5 L649.2 448.9 L650.6 449.4 L652.0 449.9 L653.3 450.4 L654.7 450.9 L656.0 451.3 L657.3 451.8 L658.7 452.3 L660.0 452.8 L661.4 453.4 L662.8 453.9 L664.1 454.4 L665.5 454.9 L666.8 455.4 L668.1 455.9 L669.4 456.4 L670.6 456.8 L671.9 457.3 L673.0 457.7 L674.2 458.1 L675.3 458.5 L676.5 458.9 L677.6 459.3 L678.8 459.7 L679.9 460.0 L681.0 460.4 L682.0 460.7 L683.0 461.0 L683.9 461.3 L684.7 461.6 L685.4 461.8 L686.1 462.0 L686.6 462.2" fill="none" stroke="#ae0535" stroke-width="3.50" stroke-linecap="butt" stroke-linejoin="round" stroke-dasharray="1.6 1.55" clip-path="url(#cc22)"/>
<path d="M599.7 484.4 L599.7 483.9 L599.7 483.2 L599.7 482.3 L599.7 481.4 L599.7 480.4 L599.7 479.3 L599.7 478.2 L599.7 477.1 L599.7 475.9 L599.7 474.7 L599.7 473.6 L599.7 472.5 L599.7 471.4 L599.7 470.4 L599.7 469.5 L599.7 468.5 L599.7 467.5 L599.7 466.5 L599.7 465.6 L599.7 464.6 L599.7 463.6 L599.7 462.7 L599.7 461.8 L599.7 460.9 L599.7 460.1 L599.8 459.3 L599.8 458.6 L599.9 458.0 L600.0 457.4 L600.1 457.0 L600.3 456.5 L600.4 456.1 L600.6 455.8 L600.7 455.5 L600.9 455.2 L601.1 455.0 L601.3 454.8 L601.5 454.6 L601.7 454.4 L601.9 454.2 L602.1 454.0 L602.3 453.8 L602.5 453.6 L602.7 453.5 L602.9 453.3 L603.2 453.2 L603.4 453.1 L603.6 453.0 L603.9 452.9 L604.1 452.8 L604.3 452.8 L604.6 452.7 L604.9 452.6 L605.1 452.6 L605.4 452.5 L605.7 452.4 L606.0 452.3 L606.3 452.3 L606.5 452.2 L606.8 452.1 L607.0 452.0 L607.3 452.0 L607.6 451.9 L607.9 451.8 L608.3 451.8 L608.6 451.7 L609.0 451.6 L609.4 451.6 L609.9 451.5 L610.5 451.5 L611.0 451.4 L611.7 451.4 L612.4 451.3 L613.1 451.3 L613.9 451.2 L614.7 451.2 L615.5 451.1 L616.3 451.1 L617.2 451.1 L618.0 451.0 L618.9 451.0 L619.7 451.0 L620.5 451.0 L621.3 451.0 L622.1 451.0 L623.0 451.1 L623.8 451.1 L624.6 451.1 L625.4 451.2 L626.3 451.2 L627.1 451.3 L627.9 451.4 L628.8 451.4 L629.6 451.5 L630.4 451.6 L631.3 451.6 L632.1 451.7 L632.9 451.8 L633.7 451.9 L634.4 451.9 L635.1 452.0 L635.8 452.0 L636.5 452.1 L637.1 452.1 L637.8 452.2 L638.5 452.3 L639.3 452.4 L640.1 452.4 L641.0 452.6 L641.9 452.7 L643.0 452.9 L644.1 453.0 L645.4 453.2 L646.8 453.5 L648.3 453.7 L649.9 454.0 L651.5 454.3 L653.2 454.6 L655.0 454.9 L656.7 455.3 L658.5 455.6 L660.3 455.9 L662.0 456.3 L663.7 456.6 L665.3 456.9 L666.9 457.2 L668.4 457.5 L670.1 457.9 L671.7 458.2 L673.3 458.6 L675.0 458.9 L676.6 459.3 L678.2 459.6 L679.7 459.9 L681.2 460.2 L682.5 460.5 L683.8 460.8 L684.9 461.1 L685.8 461.3 L686.6 461.4" fill="none" stroke="#0d6b92" stroke-width="3.50" stroke-linecap="butt" stroke-linejoin="round" stroke-dasharray="1.6 1.55" clip-path="url(#cc22)"/>
<rect x="580.6" y="421.2" width="111.5" height="67.4" fill="none" stroke="#9a9a9a" stroke-width="1"/>
<path d="M585.3 488.6 v5" stroke="#222" stroke-width="1.3"/>
<text x="585.3" y="507.6" font-family="&quot;Liberation Sans&quot;, Arial, sans-serif" font-size="15.40" font-weight="normal" fill="#111" text-anchor="middle" >0</text>
<path d="M619.3 488.6 v5" stroke="#222" stroke-width="1.3"/>
<text x="619.3" y="507.6" font-family="&quot;Liberation Sans&quot;, Arial, sans-serif" font-size="15.40" font-weight="normal" fill="#111" text-anchor="middle" >5</text>
<path d="M653.3 488.6 v5" stroke="#222" stroke-width="1.3"/>
<text x="653.3" y="507.6" font-family="&quot;Liberation Sans&quot;, Arial, sans-serif" font-size="15.40" font-weight="normal" fill="#111" text-anchor="middle" >10</text>
<path d="M687.3 488.6 v5" stroke="#222" stroke-width="1.3"/>
<text x="687.3" y="507.6" font-family="&quot;Liberation Sans&quot;, Arial, sans-serif" font-size="15.40" font-weight="normal" fill="#111" text-anchor="middle" >15</text>
<rect x="348.2" y="493.8" width="111.5" height="19.6" fill="#d2cdcd" stroke="#a29e9e" stroke-width="0.9"/>
<path d="M458.1 497.9 L416.1 509.1 L428.3 502.9" fill="none" stroke="#666" stroke-width="2.5" stroke-linejoin="bevel"/>
<text x="415.5" y="508.2" font-family="&quot;Liberation Sans&quot;, Arial, sans-serif" font-size="14.00" font-weight="normal" fill="#111" text-anchor="end" >bd2</text>
<rect x="348.2" y="513.6" width="111.5" height="67.4" fill="#fff"/>
<path d="M369.9 513.6 V581.0" stroke="#fdf1f2" stroke-width="0.6"/>
<path d="M403.9 513.6 V581.0" stroke="#fdf1f2" stroke-width="0.6"/>
<path d="M437.9 513.6 V581.0" stroke="#fdf1f2" stroke-width="0.6"/>
<path d="M348.2 570.7 H459.7" stroke="#fdf1f2" stroke-width="0.6"/>
<path d="M348.2 555.1 H459.7" stroke="#fdf1f2" stroke-width="0.6"/>
<path d="M348.2 539.6 H459.7" stroke="#fdf1f2" stroke-width="0.6"/>
<path d="M348.2 524.0 H459.7" stroke="#fdf1f2" stroke-width="0.6"/>
<path d="M352.9 513.6 V581.0" stroke="#efebeb" stroke-width="0.9"/>
<path d="M386.9 513.6 V581.0" stroke="#efebeb" stroke-width="0.9"/>
<path d="M420.9 513.6 V581.0" stroke="#efebeb" stroke-width="0.9"/>
<path d="M454.9 513.6 V581.0" stroke="#efebeb" stroke-width="0.9"/>
<path d="M348.2 578.5 H459.7" stroke="#efebeb" stroke-width="0.9"/>
<path d="M348.2 562.9 H459.7" stroke="#efebeb" stroke-width="0.9"/>
<path d="M348.2 547.4 H459.7" stroke="#efebeb" stroke-width="0.9"/>
<path d="M348.2 531.8 H459.7" stroke="#efebeb" stroke-width="0.9"/>
<path d="M348.2 516.2 H459.7" stroke="#efebeb" stroke-width="0.9"/>
<clipPath id="cc30"><rect x="348.2" y="513.6" width="111.5" height="67.4"/></clipPath>
<path d="M353.6 578.0 L353.7 578.0 L354.0 577.9 L354.2 577.9 L354.5 577.9 L354.8 577.8 L355.1 577.8 L355.4 577.7 L355.7 577.7 L356.1 577.6 L356.4 577.6 L356.8 577.5 L357.1 577.5 L357.4 577.4 L357.7 577.4 L357.9 577.3 L358.2 577.3 L358.5 577.2 L358.7 577.1 L359.0 577.1 L359.2 577.0 L359.5 577.0 L359.7 576.9 L360.0 576.8 L360.2 576.8 L360.4 576.7 L360.7 576.6 L360.9 576.5 L361.1 576.4 L361.3 576.3 L361.4 576.2 L361.6 576.1 L361.8 575.9 L362.0 575.8 L362.1 575.6 L362.3 575.4 L362.4 575.3 L362.6 575.1 L362.7 575.0 L362.8 574.9 L362.9 574.7 L363.0 574.6 L363.1 574.6" fill="none" stroke="#0d6b92" stroke-width="5.60" stroke-linecap="butt" stroke-linejoin="round" clip-path="url(#cc30)"/>
<path d="M363.6 575.3 L363.6 539.6" fill="none" stroke="#0d6b92" stroke-width="5.00" stroke-linecap="round" stroke-linejoin="round" clip-path="url(#cc30)"/>
<path d="M363.9 541.9 L364.0 542.0 L364.0 542.1 L364.1 542.3 L364.2 542.5 L364.3 542.7 L364.3 542.9 L364.4 543.1 L364.5 543.3 L364.6 543.5 L364.7 543.7 L364.8 543.9 L364.9 544.0 L365.0 544.1 L365.1 544.2 L365.2 544.3 L365.3 544.4 L365.4 544.4 L365.5 544.4 L365.5 544.4 L365.6 544.4 L365.7 544.4 L365.8 544.4 L365.9 544.4 L366.0 544.3 L366.1 544.2 L366.2 544.1 L366.3 544.0 L366.5 543.9 L366.7 543.8 L366.9 543.6 L367.1 543.4 L367.3 543.2 L367.5 543.0 L367.8 542.8 L368.0 542.5 L368.3 542.3 L368.6 542.0 L368.8 541.7 L369.1 541.5 L369.4 541.3 L369.6 541.0 L369.9 540.8 L370.2 540.6 L370.4 540.4 L370.7 540.2 L370.9 540.0 L371.2 539.9 L371.4 539.7 L371.7 539.5 L372.0 539.3 L372.2 539.2 L372.5 539.0 L372.9 538.8 L373.2 538.7 L373.6 538.5 L374.0 538.3 L374.4 538.2 L374.9 538.0 L375.3 537.9 L375.8 537.7 L376.4 537.5 L376.9 537.4 L377.5 537.3 L378.0 537.1 L378.6 537.0 L379.2 536.8 L379.8 536.7 L380.3 536.6 L380.9 536.4 L381.5 536.3 L382.0 536.2 L382.6 536.1 L383.1 536.0 L383.7 535.9 L384.2 535.7 L384.8 535.6 L385.3 535.5 L385.9 535.4 L386.5 535.3 L387.1 535.3 L387.7 535.2 L388.3 535.1 L389.0 535.0 L389.6 534.9 L390.3 534.8 L391.0 534.7 L391.7 534.7 L392.5 534.6 L393.2 534.5 L394.0 534.5 L394.8 534.4 L395.6 534.3 L396.4 534.3 L397.2 534.2 L398.0 534.1 L398.9 534.1 L399.7 534.0 L400.5 534.0 L401.3 533.9 L402.1 533.9 L402.9 533.8 L403.6 533.8 L404.4 533.7 L405.2 533.7 L405.9 533.6 L406.8 533.6 L407.6 533.6 L408.5 533.5 L409.5 533.5 L410.5 533.4 L411.6 533.4 L412.7 533.4 L414.0 533.3 L415.4 533.3 L416.8 533.2 L418.3 533.2 L419.9 533.2 L421.5 533.1 L423.2 533.1 L424.8 533.1 L426.5 533.0 L428.2 533.0 L429.8 533.0 L431.4 532.9 L433.0 532.9 L434.5 532.9 L436.0 532.9 L437.6 532.8 L439.2 532.8 L440.8 532.8 L442.4 532.8 L444.0 532.8 L445.5 532.8 L447.1 532.8 L448.5 532.8 L449.8 532.8 L451.1 532.8 L452.1 532.7 L453.1 532.7 L453.9 532.7" fill="none" stroke="#0d6b92" stroke-width="5.80" stroke-linecap="butt" stroke-linejoin="round" clip-path="url(#cc30)"/>
<path d="M352.9 557.8 L362.8 558.7" fill="none" stroke="#ae0535" stroke-width="5.60" stroke-linecap="round" stroke-linejoin="round" clip-path="url(#cc30)"/>
<path d="M361.1 558.4 L364.1 558.7 V578.5 H454.2" fill="none" stroke="#ae0535" stroke-width="5.0" stroke-linejoin="miter" clip-path="url(#cc30)"/>
<path d="M364.1 578.5 L454.2 578.5" fill="none" stroke="#ae0535" stroke-width="6.30" stroke-linecap="butt" stroke-linejoin="round" clip-path="url(#cc30)"/>
<rect x="348.2" y="513.6" width="111.5" height="67.4" fill="none" stroke="#9a9a9a" stroke-width="1"/>
<path d="M348.2 578.5 h-5.5" stroke="#222" stroke-width="1.3"/>
<text x="340.6" y="584.0" font-family="&quot;Liberation Sans&quot;, Arial, sans-serif" font-size="15.40" font-weight="normal" fill="#111" text-anchor="end" >0</text>
<path d="M348.2 562.9 h-5.5" stroke="#222" stroke-width="1.3"/>
<text x="340.6" y="568.4" font-family="&quot;Liberation Sans&quot;, Arial, sans-serif" font-size="15.40" font-weight="normal" fill="#111" text-anchor="end" >1</text>
<path d="M348.2 547.4 h-5.5" stroke="#222" stroke-width="1.3"/>
<text x="340.6" y="552.9" font-family="&quot;Liberation Sans&quot;, Arial, sans-serif" font-size="15.40" font-weight="normal" fill="#111" text-anchor="end" >2</text>
<path d="M348.2 531.8 h-5.5" stroke="#222" stroke-width="1.3"/>
<text x="340.6" y="537.3" font-family="&quot;Liberation Sans&quot;, Arial, sans-serif" font-size="15.40" font-weight="normal" fill="#111" text-anchor="end" >3</text>
<path d="M348.2 516.2 h-5.5" stroke="#222" stroke-width="1.3"/>
<text x="340.6" y="521.8" font-family="&quot;Liberation Sans&quot;, Arial, sans-serif" font-size="15.40" font-weight="normal" fill="#111" text-anchor="end" >4</text>
<path d="M352.9 581.0 v5" stroke="#222" stroke-width="1.3"/>
<text x="352.9" y="600.0" font-family="&quot;Liberation Sans&quot;, Arial, sans-serif" font-size="15.40" font-weight="normal" fill="#111" text-anchor="middle" >0</text>
<path d="M386.9 581.0 v5" stroke="#222" stroke-width="1.3"/>
<text x="386.9" y="600.0" font-family="&quot;Liberation Sans&quot;, Arial, sans-serif" font-size="15.40" font-weight="normal" fill="#111" text-anchor="middle" >5</text>
<path d="M420.9 581.0 v5" stroke="#222" stroke-width="1.3"/>
<text x="420.9" y="600.0" font-family="&quot;Liberation Sans&quot;, Arial, sans-serif" font-size="15.40" font-weight="normal" fill="#111" text-anchor="middle" >10</text>
<path d="M454.9 581.0 v5" stroke="#222" stroke-width="1.3"/>
<text x="454.9" y="600.0" font-family="&quot;Liberation Sans&quot;, Arial, sans-serif" font-size="15.40" font-weight="normal" fill="#111" text-anchor="middle" >15</text>
<rect x="464.5" y="493.8" width="111.5" height="19.6" fill="#d2cdcd" stroke="#a29e9e" stroke-width="0.9"/>
<path d="M573.5 508.2 L532.9 497.2 L544.4 504.5" fill="none" stroke="#666" stroke-width="2.5" stroke-linejoin="bevel"/>
<text x="531.8" y="508.2" font-family="&quot;Liberation Sans&quot;, Arial, sans-serif" font-size="14.00" font-weight="normal" fill="#111" text-anchor="end" >bd3</text>
<rect x="464.5" y="513.6" width="111.5" height="67.4" fill="#fff"/>
<path d="M486.2 513.6 V581.0" stroke="#fdf1f2" stroke-width="0.6"/>
<path d="M520.2 513.6 V581.0" stroke="#fdf1f2" stroke-width="0.6"/>
<path d="M554.2 513.6 V581.0" stroke="#fdf1f2" stroke-width="0.6"/>
<path d="M464.5 570.7 H576.0" stroke="#fdf1f2" stroke-width="0.6"/>
<path d="M464.5 555.1 H576.0" stroke="#fdf1f2" stroke-width="0.6"/>
<path d="M464.5 539.6 H576.0" stroke="#fdf1f2" stroke-width="0.6"/>
<path d="M464.5 524.0 H576.0" stroke="#fdf1f2" stroke-width="0.6"/>
<path d="M469.2 513.6 V581.0" stroke="#efebeb" stroke-width="0.9"/>
<path d="M503.2 513.6 V581.0" stroke="#efebeb" stroke-width="0.9"/>
<path d="M537.2 513.6 V581.0" stroke="#efebeb" stroke-width="0.9"/>
<path d="M571.2 513.6 V581.0" stroke="#efebeb" stroke-width="0.9"/>
<path d="M464.5 578.5 H576.0" stroke="#efebeb" stroke-width="0.9"/>
<path d="M464.5 562.9 H576.0" stroke="#efebeb" stroke-width="0.9"/>
<path d="M464.5 547.4 H576.0" stroke="#efebeb" stroke-width="0.9"/>
<path d="M464.5 531.8 H576.0" stroke="#efebeb" stroke-width="0.9"/>
<path d="M464.5 516.2 H576.0" stroke="#efebeb" stroke-width="0.9"/>
<clipPath id="cc31"><rect x="464.5" y="513.6" width="111.5" height="67.4"/></clipPath>
<path d="M484.8 578.1 L571.2 578.1" fill="none" stroke="#ae0535" stroke-width="4.40" stroke-linecap="butt" stroke-linejoin="round" stroke-dasharray="2.5 3.9 9 3.9" clip-path="url(#cc31)"/>
<path d="M482.8 578.9 L571.2 578.9" fill="none" stroke="#0d6b92" stroke-width="3.30" stroke-linecap="butt" stroke-linejoin="round" stroke-dasharray="1.5 1.7" clip-path="url(#cc31)"/>
<path d="M482.8 562.9 L482.9 563.1 L483.0 563.4 L483.1 563.7 L483.2 564.1 L483.4 564.5 L483.5 564.9 L483.7 565.3 L483.9 565.8 L484.0 566.2 L484.2 566.7 L484.4 567.1 L484.5 567.5 L484.7 568.0 L484.8 568.3 L485.0 568.7 L485.1 569.1 L485.3 569.5 L485.4 569.8 L485.5 570.2 L485.6 570.6 L485.8 570.9 L485.9 571.3 L486.1 571.7 L486.2 572.0 L486.4 572.4 L486.5 572.7 L486.7 573.0 L486.9 573.3 L487.1 573.6 L487.3 573.9 L487.6 574.2 L487.9 574.5 L488.1 574.8 L488.4 575.1 L488.7 575.4 L489.0 575.7 L489.3 575.9 L489.5 576.2 L489.8 576.4 L490.0 576.6 L490.1 576.8 L490.3 576.9" fill="none" stroke="#ae0535" stroke-width="4.20" stroke-linecap="butt" stroke-linejoin="round" stroke-dasharray="3 2.5" clip-path="url(#cc31)"/>
<path d="M469.2 557.9 L469.4 557.9 L469.6 558.0 L469.9 558.0 L470.3 558.0 L470.6 558.0 L471.0 558.0 L471.4 558.1 L471.8 558.1 L472.2 558.1 L472.6 558.1 L473.0 558.2 L473.4 558.2 L473.7 558.2 L474.0 558.2 L474.2 558.3 L474.4 558.3 L474.7 558.3 L474.9 558.3 L475.1 558.4 L475.3 558.4 L475.4 558.4 L475.6 558.4 L475.8 558.5 L475.9 558.5 L476.1 558.5 L476.2 558.6 L476.4 558.6 L476.5 558.7 L476.7 558.8 L476.9 558.8 L477.0 558.9 L477.1 559.0 L477.3 559.1 L477.4 559.2 L477.5 559.3 L477.7 559.4 L477.8 559.5 L477.9 559.6 L478.0 559.8 L478.2 559.9 L478.3 560.0 L478.4 560.1 L478.5 560.2 L478.6 560.3 L478.7 560.4 L478.8 560.6 L478.9 560.7 L479.0 560.8 L479.0 560.9 L479.1 561.0 L479.2 561.2 L479.3 561.3 L479.4 561.5 L479.4 561.6 L479.5 561.8 L479.6 562.0 L479.7 562.2 L479.8 562.4 L479.8 562.6 L479.9 562.8 L480.0 563.0 L480.1 563.3 L480.2 563.5 L480.2 563.8 L480.3 564.0 L480.4 564.3 L480.4 564.5 L480.5 564.8 L480.6 565.0 L480.6 565.2 L480.7 565.5 L480.7 565.7 L480.8 565.9 L480.8 566.1 L480.9 566.4 L480.9 566.6 L480.9 566.8 L481.0 567.1 L481.0 567.3 L481.0 567.4 L481.0 567.6 L481.1 567.8 L481.1 567.9 L481.1 568.0" fill="none" stroke="#ae0535" stroke-width="5.20" stroke-linecap="butt" stroke-linejoin="round" clip-path="url(#cc31)"/>
<path d="M469.2 578.0 L469.4 578.0 L469.6 577.9 L469.8 577.9 L470.1 577.9 L470.4 577.9 L470.7 577.8 L471.0 577.8 L471.4 577.8 L471.7 577.7 L472.1 577.7 L472.4 577.7 L472.7 577.6 L473.0 577.6 L473.3 577.5 L473.5 577.5 L473.8 577.4 L474.1 577.3 L474.3 577.3 L474.6 577.2 L474.8 577.1 L475.1 577.0 L475.3 576.9 L475.5 576.9 L475.7 576.8 L476.0 576.7 L476.2 576.6 L476.4 576.5 L476.5 576.4 L476.7 576.3 L476.9 576.2 L477.0 576.2 L477.2 576.1 L477.3 576.0 L477.5 575.9 L477.6 575.8 L477.7 575.7 L477.8 575.6 L477.9 575.4 L478.1 575.3 L478.2 575.2 L478.3 575.1 L478.4 575.0 L478.5 574.9 L478.6 574.8 L478.7 574.7 L478.8 574.6 L478.9 574.5 L478.9 574.5 L479.0 574.4 L479.1 574.3 L479.2 574.2 L479.3 574.0 L479.3 573.9 L479.4 573.8 L479.5 573.6 L479.6 573.5 L479.7 573.3 L479.8 573.1 L479.9 572.9 L480.1 572.6 L480.2 572.4 L480.3 572.1 L480.4 571.8 L480.5 571.6 L480.7 571.3 L480.8 571.1 L480.9 570.9 L481.0 570.7 L481.0 570.5 L481.1 570.4" fill="none" stroke="#0d6b92" stroke-width="5.20" stroke-linecap="butt" stroke-linejoin="round" clip-path="url(#cc31)"/>
<path d="M487.9 563.4 L488.1 563.4 L488.2 563.5 L488.5 563.6 L488.7 563.8 L488.9 563.9 L489.2 564.0 L489.5 564.2 L489.8 564.3 L490.1 564.5 L490.5 564.6 L490.9 564.8 L491.3 564.9 L491.8 565.1 L492.3 565.2 L492.9 565.4 L493.4 565.5 L494.0 565.7 L494.6 565.9 L495.2 566.0 L495.9 566.2 L496.5 566.3 L497.3 566.5 L498.0 566.7 L498.8 566.9 L499.7 567.0 L500.6 567.2 L501.5 567.4 L502.5 567.6 L503.6 567.8 L504.7 567.9 L506.0 568.1 L507.3 568.4 L508.6 568.6 L510.0 568.8 L511.4 569.0 L512.8 569.2 L514.2 569.4 L515.6 569.6 L517.0 569.8 L518.4 570.0 L519.7 570.2 L520.9 570.4 L522.0 570.5 L523.2 570.7 L524.2 570.9 L525.3 571.0 L526.3 571.2 L527.4 571.3 L528.4 571.4 L529.4 571.6 L530.4 571.7 L531.4 571.9 L532.5 572.0 L533.6 572.1 L534.7 572.3 L535.8 572.4 L537.1 572.5 L538.3 572.7 L539.6 572.8 L540.9 572.9 L542.2 573.1 L543.6 573.2 L544.9 573.3 L546.3 573.4 L547.7 573.6 L549.0 573.7 L550.3 573.8 L551.7 573.9 L552.9 574.0 L554.2 574.1 L555.5 574.2 L556.8 574.3 L558.1 574.4 L559.5 574.4 L560.8 574.5 L562.2 574.6 L563.5 574.7 L564.8 574.7 L566.0 574.8 L567.1 574.9 L568.1 574.9 L569.1 575.0 L569.9 575.0 L570.5 575.0" fill="none" stroke="#0d6b92" stroke-width="4.60" stroke-linecap="butt" stroke-linejoin="round" stroke-dasharray="2.5 3.8 9 3.8" clip-path="url(#cc31)"/>
<path d="M481.8 576.9 L481.8 576.0 L481.8 574.9 L481.8 573.6 L481.8 572.2 L481.8 570.6 L481.8 568.9 L481.8 567.2 L481.8 565.4 L481.8 563.6 L481.8 561.8 L481.8 560.0 L481.8 558.3 L481.8 556.6 L481.8 555.1 L481.8 553.7 L481.8 552.2 L481.8 550.7 L481.8 549.2 L481.8 547.7 L481.8 546.2 L481.8 544.7 L481.8 543.3 L481.8 542.0 L481.8 540.7 L481.8 539.5 L481.9 538.4 L481.9 537.4 L481.9 536.5 L482.0 535.7 L482.0 535.0 L482.0 534.5 L482.1 534.1 L482.1 533.7 L482.2 533.4 L482.2 533.1 L482.3 532.9 L482.4 532.7 L482.4 532.6 L482.5 532.4 L482.6 532.2 L482.7 532.0 L482.8 531.8 L482.9 531.5 L483.0 531.3 L483.1 531.1 L483.2 530.9 L483.4 530.6 L483.5 530.4 L483.6 530.3 L483.8 530.1 L483.9 529.9 L484.1 529.7 L484.2 529.6 L484.4 529.4 L484.6 529.3 L484.8 529.2 L485.1 529.0 L485.3 528.9 L485.6 528.8 L485.8 528.7 L486.1 528.6 L486.4 528.5 L486.7 528.5 L487.0 528.4 L487.4 528.3 L487.7 528.3 L488.0 528.2 L488.3 528.2 L488.6 528.1 L488.9 528.1 L489.2 528.0 L489.5 528.0 L489.8 527.9 L490.1 527.9 L490.4 527.9 L490.7 527.8 L491.0 527.8 L491.3 527.8 L491.6 527.8 L492.0 527.8 L492.3 527.8 L492.6 527.8 L493.0 527.8 L493.3 527.8 L493.7 527.8 L494.1 527.8 L494.5 527.8 L494.9 527.8 L495.3 527.8 L495.7 527.9 L496.1 527.9 L496.5 528.0 L496.9 528.0 L497.4 528.0 L497.8 528.1 L498.2 528.1 L498.7 528.2 L499.1 528.2 L499.5 528.3 L500.0 528.3 L500.4 528.4 L500.8 528.4 L501.2 528.4 L501.6 528.5 L502.0 528.5 L502.4 528.6 L502.9 528.6 L503.4 528.7 L503.9 528.8 L504.4 528.9 L505.0 529.0 L505.6 529.2 L506.2 529.3 L506.9 529.5 L507.7 529.7 L508.4 529.9 L509.2 530.1 L510.0 530.4 L510.9 530.6 L511.7 530.9 L512.6 531.1 L513.4 531.4 L514.3 531.7 L515.1 531.9 L516.0 532.2 L516.8 532.4 L517.6 532.7 L518.3 532.9 L519.0 533.1 L519.7 533.3 L520.4 533.5 L521.1 533.7 L521.8 533.9 L522.6 534.1 L523.4 534.4 L524.2 534.6 L525.1 534.9 L526.1 535.2 L527.2 535.6 L528.4 536.0 L529.7 536.5 L531.1 537.0 L532.6 537.5 L534.2 538.1 L535.9 538.7 L537.7 539.3 L539.5 539.9 L541.3 540.6 L543.1 541.3 L544.8 541.9 L546.6 542.6 L548.3 543.2 L549.9 543.8 L551.5 544.4 L553.0 545.0 L554.6 545.6 L556.2 546.2 L557.8 546.9 L559.4 547.5 L560.9 548.1 L562.4 548.7 L563.9 549.3 L565.3 549.9 L566.6 550.4 L567.8 550.9 L568.8 551.3 L569.8 551.7 L570.5 552.0" fill="none" stroke="#ae0535" stroke-width="3.50" stroke-linecap="butt" stroke-linejoin="round" stroke-dasharray="1.6 1.55" clip-path="url(#cc31)"/>
<path d="M483.1 576.9 L483.1 576.2 L483.1 575.3 L483.1 574.3 L483.1 573.2 L483.1 572.0 L483.1 570.6 L483.1 569.3 L483.1 567.9 L483.1 566.4 L483.1 565.0 L483.1 563.6 L483.1 562.3 L483.1 561.0 L483.1 559.8 L483.1 558.6 L483.2 557.5 L483.2 556.3 L483.2 555.1 L483.2 553.9 L483.2 552.7 L483.2 551.6 L483.2 550.4 L483.2 549.4 L483.2 548.4 L483.3 547.4 L483.3 546.5 L483.4 545.7 L483.5 545.0 L483.6 544.4 L483.7 543.9 L483.7 543.5 L483.8 543.1 L483.9 542.8 L484.1 542.6 L484.2 542.4 L484.3 542.2 L484.5 542.1 L484.6 542.0 L484.8 541.9 L485.0 541.7 L485.3 541.6 L485.5 541.4 L485.8 541.3 L486.1 541.1 L486.4 541.0 L486.8 540.9 L487.2 540.8 L487.5 540.7 L487.9 540.6 L488.4 540.5 L488.8 540.5 L489.2 540.4 L489.6 540.4 L490.1 540.3 L490.5 540.3 L491.0 540.2 L491.4 540.1 L491.8 540.1 L492.3 540.0 L492.7 540.0 L493.1 540.0 L493.6 539.9 L494.0 539.9 L494.5 539.9 L495.0 539.9 L495.5 539.9 L496.0 539.9 L496.6 539.9 L497.1 539.9 L497.8 539.9 L498.4 539.9 L499.1 539.9 L499.8 540.0 L500.5 540.0 L501.3 540.1 L502.1 540.1 L502.9 540.2 L503.7 540.2 L504.5 540.3 L505.3 540.4 L506.1 540.4 L507.0 540.5 L507.8 540.6 L508.6 540.7 L509.4 540.7 L510.2 540.8 L511.0 540.9 L511.7 540.9 L512.5 541.0 L513.2 541.0 L514.0 541.1 L514.8 541.2 L515.6 541.3 L516.6 541.4 L517.5 541.5 L518.5 541.6 L519.7 541.7 L520.9 541.9 L522.2 542.1 L523.6 542.3 L525.1 542.5 L526.6 542.7 L528.2 542.9 L529.8 543.2 L531.5 543.4 L533.3 543.7 L535.0 544.0 L536.8 544.2 L538.6 544.5 L540.4 544.8 L542.2 545.2 L544.0 545.5 L545.9 545.8 L547.8 546.2 L549.9 546.7 L552.1 547.1 L554.3 547.6 L556.5 548.0 L558.7 548.5 L560.8 549.0 L562.9 549.4 L564.8 549.8 L566.5 550.2 L568.1 550.6 L569.4 550.8 L570.5 551.1" fill="none" stroke="#0d6b92" stroke-width="3.50" stroke-linecap="butt" stroke-linejoin="round" stroke-dasharray="1.6 1.55" clip-path="url(#cc31)"/>
<rect x="464.5" y="513.6" width="111.5" height="67.4" fill="none" stroke="#9a9a9a" stroke-width="1"/>
<path d="M469.2 581.0 v5" stroke="#222" stroke-width="1.3"/>
<text x="469.2" y="600.0" font-family="&quot;Liberation Sans&quot;, Arial, sans-serif" font-size="15.40" font-weight="normal" fill="#111" text-anchor="middle" >0</text>
<path d="M503.2 581.0 v5" stroke="#222" stroke-width="1.3"/>
<text x="503.2" y="600.0" font-family="&quot;Liberation Sans&quot;, Arial, sans-serif" font-size="15.40" font-weight="normal" fill="#111" text-anchor="middle" >5</text>
<path d="M537.2 581.0 v5" stroke="#222" stroke-width="1.3"/>
<text x="537.2" y="600.0" font-family="&quot;Liberation Sans&quot;, Arial, sans-serif" font-size="15.40" font-weight="normal" fill="#111" text-anchor="middle" >10</text>
<path d="M571.2 581.0 v5" stroke="#222" stroke-width="1.3"/>
<text x="571.2" y="600.0" font-family="&quot;Liberation Sans&quot;, Arial, sans-serif" font-size="15.40" font-weight="normal" fill="#111" text-anchor="middle" >15</text>
<text x="520.7" y="617.3" font-family="&quot;Liberation Sans&quot;, Arial, sans-serif" font-size="17.60" font-weight="normal" fill="#111" text-anchor="middle" textLength="209.5" lengthAdjust="spacingAndGlyphs">Phosphate Donor (nt) (AU)</text>
<text transform="translate(320.9,406.8) rotate(-90)" text-anchor="middle" font-family="&quot;Liberation Sans&quot;, Arial, sans-serif" font-size="17.7" fill="#111" textLength="154" lengthAdjust="spacingAndGlyphs">Concentration (AU)</text>
<text x="711.8" y="320.5" font-family="&quot;Liberation Sans&quot;, Arial, sans-serif" font-size="20.00" font-weight="bold" fill="#000" text-anchor="start" >Form</text>
<rect x="711.5" y="328.6" width="29.2" height="28.7" fill="#fefdfd" stroke="#d6d0d0" stroke-width="1"/>
<path d="M714.4 343.0 H737.3" stroke="#ae0535" stroke-width="5.2"/>
<text x="743.6" y="350.5" font-family="&quot;Liberation Sans&quot;, Arial, sans-serif" font-size="20.30" font-weight="normal" fill="#111" text-anchor="start" >OO</text>
<rect x="711.5" y="357.3" width="29.2" height="28.7" fill="#fefdfd" stroke="#d6d0d0" stroke-width="1"/>
<path d="M714.4 371.7 H737.3" stroke="#0d6b92" stroke-width="5.2"/>
<text x="743.6" y="378.8" font-family="&quot;Liberation Sans&quot;, Arial, sans-serif" font-size="20.30" font-weight="normal" fill="#111" text-anchor="start" >PP</text>
<text x="711.8" y="425.0" font-family="&quot;Liberation Sans&quot;, Arial, sans-serif" font-size="20.00" font-weight="bold" fill="#000" text-anchor="start" >State</text>
<rect x="711.8" y="431.1" width="28" height="27.3" fill="#fefdfd" stroke="#d6d0d0" stroke-width="1"/>
<path d="M714.9 444.8 H737" stroke="#000" stroke-width="5.4"/>
<text x="742.2" y="450.0" font-family="&quot;Liberation Sans&quot;, Arial, sans-serif" font-size="22.00" font-weight="normal" fill="#111" text-anchor="start" >ss</text>
<rect x="711.8" y="458.4" width="28" height="27.3" fill="#fefdfd" stroke="#d6d0d0" stroke-width="1"/>
<path d="M714.9 472.1 H737" stroke="#000" stroke-width="4.1" stroke-dasharray="8 3.4 2.8 2.3 6 10"/>
<text x="742.2" y="479.7" font-family="&quot;Liberation Sans&quot;, Arial, sans-serif" font-size="22.00" font-weight="normal" fill="#111" text-anchor="start" >us</text>
<rect x="711.8" y="485.7" width="28" height="27.3" fill="#fefdfd" stroke="#d6d0d0" stroke-width="1"/>
<path d="M714.9 499.4 H737" stroke="#000" stroke-width="4.4" stroke-dasharray="1.6 2.45"/>
<text x="742.2" y="507.1" font-family="&quot;Liberation Sans&quot;, Arial, sans-serif" font-size="22.00" font-weight="normal" fill="#111" text-anchor="start" >amp</text>
</svg>
</body></html>
